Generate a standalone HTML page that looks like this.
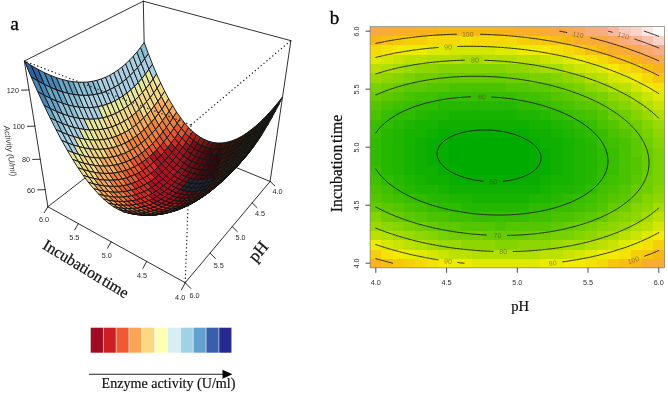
<!DOCTYPE html>
<html><head><meta charset="utf-8"><title>Figure</title>
<style>html,body{margin:0;padding:0;background:#fff;}svg{display:block;}</style></head>
<body>
<svg width="668" height="394" viewBox="0 0 668 394">
<g stroke="#1a1a1a" stroke-width="0.9" fill="none" stroke-linecap="round">
<line x1="47.93" y1="206.79" x2="185.20" y2="282.72" />
<line x1="185.20" y1="282.72" x2="270.10" y2="181.44" />
<line x1="47.93" y1="206.79" x2="24.34" y2="60.98" />
<line x1="270.10" y1="181.44" x2="290.85" y2="40.62" />
<line x1="145.99" y1="130.65" x2="143.30" y2="1.21" />
<line x1="24.34" y1="60.98" x2="143.30" y2="1.21" />
<line x1="143.30" y1="1.21" x2="290.85" y2="40.62" />
<line x1="47.93" y1="206.79" x2="145.99" y2="130.65" />
<line x1="145.99" y1="130.65" x2="270.10" y2="181.44" />
</g>
<g stroke="#141414" stroke-width="0.95" stroke-linejoin="round">
<polygon points="193.5,181.6 187.0,188.9 182.4,188.1 188.9,180.6" fill="#4f6c79"/>
<polygon points="197.9,182.1 191.4,189.4 187.0,188.9 193.5,181.6" fill="#4c6774"/>
<polygon points="187.0,188.9 180.8,195.2 176.2,194.4 182.4,188.1" fill="#667c88"/>
<polygon points="202.2,182.2 195.8,189.4 191.4,189.4 197.9,182.1" fill="#586b75"/>
<polygon points="191.4,189.4 185.3,195.6 180.8,195.2 187.0,188.9" fill="#627782"/>
<polygon points="180.8,195.2 174.9,200.5 170.2,199.8 176.2,194.4" fill="#6d8591"/>
<polygon points="206.3,181.8 199.9,189.0 195.8,189.4 202.2,182.2" fill="#53666f"/>
<polygon points="195.8,189.4 189.6,195.5 185.3,195.6 191.4,189.4" fill="#5d717c"/>
<polygon points="174.9,200.5 169.1,205.0 164.5,204.3 170.2,199.8" fill="#9f9f6b"/>
<polygon points="185.3,195.6 179.4,200.9 174.9,200.5 180.8,195.2" fill="#687f8a"/>
<polygon points="210.4,181.1 204.0,188.2 199.9,189.0 206.3,181.8" fill="#4f616a"/>
<polygon points="169.1,205.0 163.6,208.5 158.9,207.8 164.5,204.3" fill="#abab73"/>
<polygon points="199.9,189.0 193.8,195.1 189.6,195.5 195.8,189.4" fill="#586c76"/>
<polygon points="179.4,200.9 173.6,205.2 169.1,205.0 174.9,200.5" fill="#989866"/>
<polygon points="189.6,195.5 183.7,200.8 179.4,200.9 185.3,195.6" fill="#87875b"/>
<polygon points="214.4,180.0 208.0,187.1 204.0,188.2 210.4,181.1" fill="#4b5c64"/>
<polygon points="163.6,208.5 158.2,211.2 153.4,210.6 158.9,207.8" fill="#bfab6a"/>
<polygon points="204.0,188.2 197.9,194.3 193.8,195.1 199.9,189.0" fill="#73734d"/>
<polygon points="173.6,205.2 168.1,208.8 163.6,208.5 169.1,205.0" fill="#a9985e"/>
<polygon points="193.8,195.1 187.9,200.3 183.7,200.8 189.6,195.5" fill="#818156"/>
<polygon points="183.7,200.8 178.0,205.1 173.6,205.2 179.4,200.9" fill="#919161"/>
<polygon points="218.3,178.5 211.9,185.6 208.0,187.1 214.4,180.0" fill="#47575f"/>
<polygon points="158.2,211.2 152.9,213.2 148.1,212.5 153.4,210.6" fill="#ceba73"/>
<polygon points="208.0,187.1 201.9,193.1 197.9,194.3 204.0,188.2" fill="#6d6d49"/>
<polygon points="168.1,208.8 162.7,211.5 158.2,211.2 163.6,208.5" fill="#b6a466"/>
<polygon points="197.9,194.3 192.0,199.5 187.9,200.3 193.8,195.1" fill="#7a7a52"/>
<polygon points="178.0,205.1 172.5,208.6 168.1,208.8 173.6,205.2" fill="#a1915a"/>
<polygon points="187.9,200.3 182.3,204.6 178.0,205.1 183.7,200.8" fill="#8e804f"/>
<polygon points="152.9,213.2 147.7,214.4 143.0,213.7 148.1,212.5" fill="#e0c97d"/>
<polygon points="222.1,176.7 215.7,183.7 211.9,185.6 218.3,178.5" fill="#5c5c3d"/>
<polygon points="162.7,211.5 157.5,213.4 152.9,213.2 158.2,211.2" fill="#c6b26e"/>
<polygon points="211.9,185.6 205.8,191.6 201.9,193.1 208.0,187.1" fill="#676745"/>
<polygon points="38.0,81.0 31.4,65.6 24.4,61.1 31.2,77.0" fill="#2c60a0"/>
<polygon points="172.5,208.6 167.1,211.4 162.7,211.5 168.1,208.8" fill="#ae9d61"/>
<polygon points="201.9,193.1 196.0,198.3 192.0,199.5 197.9,194.3" fill="#786c43"/>
<polygon points="182.3,204.6 176.8,208.2 172.5,208.6 178.0,205.1" fill="#998a55"/>
<polygon points="192.0,199.5 186.4,203.8 182.3,204.6 187.9,200.3" fill="#877a4b"/>
<polygon points="147.7,214.4 142.7,214.9 137.9,214.2 143.0,213.7" fill="#a3925b"/>
<polygon points="225.8,174.5 219.5,181.5 215.7,183.7 222.1,176.7" fill="#56563a"/>
<polygon points="44.3,95.4 38.0,81.0 31.2,77.0 37.7,91.7" fill="#4886b8"/>
<polygon points="157.5,213.4 152.4,214.7 147.7,214.4 152.9,213.2" fill="#b07c42"/>
<polygon points="215.7,183.7 209.6,189.8 205.8,191.6 211.9,185.6" fill="#645a38"/>
<polygon points="142.7,214.9 137.7,214.7 132.8,214.0 137.9,214.2" fill="#50381e"/>
<polygon points="167.1,211.4 161.9,213.3 157.5,213.4 162.7,211.5" fill="#b07c42"/>
<polygon points="205.8,191.6 200.0,196.8 196.0,198.3 201.9,193.1" fill="#71663f"/>
<polygon points="44.5,84.5 38.1,69.4 31.4,65.6 38.0,81.0" fill="#2c60a0"/>
<polygon points="176.8,208.2 171.4,210.9 167.1,211.4 172.5,208.6" fill="#a9773f"/>
<polygon points="196.0,198.3 190.4,202.6 186.4,203.8 192.0,199.5" fill="#807347"/>
<polygon points="50.5,108.7 44.3,95.4 37.7,91.7 44.0,105.3" fill="#4886b8"/>
<polygon points="186.4,203.8 180.9,207.3 176.8,208.2 182.3,204.6" fill="#918351"/>
<polygon points="229.5,172.0 223.2,179.1 219.5,181.5 225.8,174.5" fill="#515136"/>
<polygon points="152.4,214.7 147.3,215.2 142.7,214.9 147.7,214.4" fill="#72502b"/>
<polygon points="137.7,214.7 132.8,213.9 127.9,213.1 132.8,214.0" fill="#24190d"/>
<polygon points="219.5,181.5 213.4,187.6 209.6,189.8 215.7,183.7" fill="#5e5534"/>
<polygon points="161.9,213.3 156.8,214.6 152.4,214.7 157.5,213.4" fill="#7e592f"/>
<polygon points="56.4,121.0 50.5,108.7 44.0,105.3 50.1,117.9" fill="#68a4c6"/>
<polygon points="50.7,98.5 44.5,84.5 38.0,81.0 44.3,95.4" fill="#4886b8"/>
<polygon points="209.6,189.8 203.8,195.0 200.0,196.8 205.8,191.6" fill="#6a603b"/>
<polygon points="233.2,169.2 226.8,176.2 223.2,179.1 229.5,172.0" fill="#43432d"/>
<polygon points="171.4,210.9 166.3,212.9 161.9,213.3 167.1,211.4" fill="#825c31"/>
<polygon points="132.8,213.9 127.9,212.4 122.9,211.6 127.9,213.1" fill="#694a27"/>
<polygon points="147.3,215.2 142.4,215.1 137.7,214.7 142.7,214.9" fill="#24190d"/>
<polygon points="200.0,196.8 194.3,201.1 190.4,202.6 196.0,198.3" fill="#736740"/>
<polygon points="180.9,207.3 175.6,210.1 171.4,210.9 176.8,208.2" fill="#805a30"/>
<polygon points="190.4,202.6 185.0,206.2 180.9,207.3 186.4,203.8" fill="#7c572e"/>
<polygon points="62.1,132.4 56.4,121.0 50.1,117.9 56.0,129.6" fill="#8cbed6"/>
<polygon points="50.7,87.5 44.5,72.7 38.1,69.4 44.5,84.5" fill="#4886b8"/>
<polygon points="56.6,111.5 50.7,98.5 44.3,95.4 50.5,108.7" fill="#68a4c6"/>
<polygon points="223.2,179.1 217.1,185.2 213.4,187.6 219.5,181.5" fill="#4a4329"/>
<polygon points="127.9,212.4 123.0,210.3 118.0,209.3 122.9,211.6" fill="#b88145"/>
<polygon points="156.8,214.6 151.9,215.2 147.3,215.2 152.4,214.7" fill="#402d18"/>
<polygon points="142.4,215.1 137.5,214.3 132.8,213.9 137.7,214.7" fill="#3e2b17"/>
<polygon points="67.7,143.0 62.1,132.4 56.0,129.6 61.7,140.4" fill="#aacfe2"/>
<polygon points="236.8,166.0 230.4,173.1 226.8,176.2 233.2,169.2" fill="#2e2e1f"/>
<polygon points="213.4,187.6 207.6,192.8 203.8,195.0 209.6,189.8" fill="#4f472c"/>
<polygon points="166.3,212.9 161.2,214.2 156.8,214.6 161.9,213.3" fill="#51391e"/>
<polygon points="123.0,210.3 118.2,207.5 113.1,206.5 118.0,209.3" fill="#f4ac5c"/>
<polygon points="62.4,123.6 56.6,111.5 50.5,108.7 56.4,121.0" fill="#8cbed6"/>
<polygon points="56.7,101.2 50.7,87.5 44.5,84.5 50.7,98.5" fill="#68a4c6"/>
<polygon points="203.8,195.0 198.2,199.3 194.3,201.1 200.0,196.8" fill="#553c20"/>
<polygon points="73.2,152.7 67.7,143.0 61.7,140.4 67.3,150.3" fill="#aacfe2"/>
<polygon points="175.6,210.1 170.4,212.1 166.3,212.9 171.4,210.9" fill="#593e21"/>
<polygon points="194.3,201.1 188.9,204.7 185.0,206.2 190.4,202.6" fill="#593f21"/>
<polygon points="185.0,206.2 179.7,208.9 175.6,210.1 180.9,207.3" fill="#5b4022"/>
<polygon points="151.9,215.2 146.9,215.1 142.4,215.1 147.3,215.2" fill="#24190d"/>
<polygon points="137.5,214.3 132.7,212.9 127.9,212.4 132.8,213.9" fill="#8c6234"/>
<polygon points="118.2,207.5 113.4,204.1 108.2,202.9 113.1,206.5" fill="#f4ac5c"/>
<polygon points="226.8,176.2 220.7,182.4 217.1,185.2 223.2,179.1" fill="#332e1c"/>
<polygon points="78.5,161.6 73.2,152.7 67.3,150.3 72.7,159.4" fill="#e8e89c"/>
<polygon points="113.4,204.1 108.5,200.0 103.3,198.8 108.2,202.9" fill="#f4ac5c"/>
<polygon points="240.3,162.6 234.0,169.7 230.4,173.1 236.8,166.0" fill="#1c1c13"/>
<polygon points="68.0,134.8 62.4,123.6 56.4,121.0 62.1,132.4" fill="#8cbed6"/>
<polygon points="56.7,89.9 50.6,75.4 44.5,72.7 50.7,87.5" fill="#4886b8"/>
<polygon points="83.7,169.7 78.5,161.6 72.7,159.4 78.0,167.8" fill="#e8e89c"/>
<polygon points="161.2,214.2 156.2,214.8 151.9,215.2 156.8,214.6" fill="#1f1108"/>
<polygon points="62.6,113.9 56.7,101.2 50.7,98.5 56.6,111.5" fill="#68a4c6"/>
<polygon points="108.5,200.0 103.7,195.3 98.4,193.9 103.3,198.8" fill="#f4ac5c"/>
<polygon points="217.1,185.2 211.3,190.4 207.6,192.8 213.4,187.6" fill="#36311e"/>
<polygon points="132.7,212.9 127.9,210.8 123.0,210.3 127.9,212.4" fill="#d4954f"/>
<polygon points="88.8,177.2 83.7,169.7 78.0,167.8 83.2,175.4" fill="#f0d886"/>
<polygon points="103.7,195.3 98.8,189.9 93.4,188.4 98.4,193.9" fill="#f0d886"/>
<polygon points="146.9,215.1 142.1,214.4 137.5,214.3 142.4,215.1" fill="#623419"/>
<polygon points="93.8,183.9 88.8,177.2 83.2,175.4 88.3,182.3" fill="#f0d886"/>
<polygon points="98.8,189.9 93.8,183.9 88.3,182.3 93.4,188.4" fill="#f0d886"/>
<polygon points="170.4,212.1 165.4,213.4 161.2,214.2 166.3,212.9" fill="#27150a"/>
<polygon points="73.5,145.1 68.0,134.8 62.1,132.4 67.7,143.0" fill="#aacfe2"/>
<polygon points="207.6,192.8 202.0,197.2 198.2,199.3 203.8,195.0" fill="#392815"/>
<polygon points="230.4,173.1 224.3,179.3 220.7,182.4 226.8,176.2" fill="#1f1c11"/>
<polygon points="127.9,210.8 123.1,208.1 118.2,207.5 123.0,210.3" fill="#f4ac5c"/>
<polygon points="179.7,208.9 174.5,211.0 170.4,212.1 175.6,210.1" fill="#321b0d"/>
<polygon points="198.2,199.3 192.8,202.9 188.9,204.7 194.3,201.1" fill="#3a2916"/>
<polygon points="188.9,204.7 183.6,207.5 179.7,208.9 185.0,206.2" fill="#392815"/>
<polygon points="243.9,158.8 237.5,166.0 234.0,169.7 240.3,162.6" fill="#0b0b07"/>
<polygon points="62.6,103.3 56.7,89.9 50.7,87.5 56.7,101.2" fill="#68a4c6"/>
<polygon points="68.2,125.7 62.6,113.9 56.6,111.5 62.4,123.6" fill="#8cbed6"/>
<polygon points="156.2,214.8 151.3,214.8 146.9,215.1 151.9,215.2" fill="#3f2210"/>
<polygon points="78.8,154.5 73.5,145.1 67.7,143.0 73.2,152.7" fill="#aacfe2"/>
<polygon points="142.1,214.4 137.3,213.0 132.7,212.9 137.5,214.3" fill="#a7592b"/>
<polygon points="123.1,208.1 118.3,204.8 113.4,204.1 118.2,207.5" fill="#f4ac5c"/>
<polygon points="220.7,182.4 214.9,187.6 211.3,190.4 217.1,185.2" fill="#201d12"/>
<polygon points="84.0,163.3 78.8,154.5 73.2,152.7 78.5,161.6" fill="#e8e89c"/>
<polygon points="62.5,91.9 56.5,77.7 50.6,75.4 56.7,89.9" fill="#4886b8"/>
<polygon points="165.4,213.4 160.5,214.1 156.2,214.8 161.2,214.2" fill="#1e1007"/>
<polygon points="118.3,204.8 113.6,200.8 108.5,200.0 113.4,204.1" fill="#f4ac5c"/>
<polygon points="73.7,136.6 68.2,125.7 62.4,123.6 68.0,134.8" fill="#aacfe2"/>
<polygon points="234.0,169.7 227.9,175.9 224.3,179.3 230.4,173.1" fill="#0c0b07"/>
<polygon points="211.3,190.4 205.7,194.8 202.0,197.2 207.6,192.8" fill="#21170c"/>
<polygon points="89.1,171.2 84.0,163.3 78.5,161.6 83.7,169.7" fill="#f0d886"/>
<polygon points="137.3,213.0 132.6,211.0 127.9,210.8 132.7,212.9" fill="#e87d3c"/>
<polygon points="68.2,115.8 62.6,103.3 56.7,101.2 62.6,113.9" fill="#8cbed6"/>
<polygon points="247.4,154.7 241.0,162.0 237.5,166.0 243.9,158.8" fill="#080805"/>
<polygon points="113.6,200.8 108.8,196.2 103.7,195.3 108.5,200.0" fill="#f4ac5c"/>
<polygon points="151.3,214.8 146.5,214.1 142.1,214.4 146.9,215.1" fill="#844722"/>
<polygon points="174.5,211.0 169.5,212.3 165.4,213.4 170.4,212.1" fill="#1a0e06"/>
<polygon points="94.1,178.5 89.1,171.2 83.7,169.7 88.8,177.2" fill="#f0d886"/>
<polygon points="108.8,196.2 103.9,191.0 98.8,189.9 103.7,195.3" fill="#f4ac5c"/>
<polygon points="202.0,197.2 196.5,200.8 192.8,202.9 198.2,199.3" fill="#1f160b"/>
<polygon points="99.0,185.1 94.1,178.5 88.8,177.2 93.8,183.9" fill="#f0d886"/>
<polygon points="103.9,191.0 99.0,185.1 93.8,183.9 98.8,189.9" fill="#f4ac5c"/>
<polygon points="183.6,207.5 178.5,209.6 174.5,211.0 179.7,208.9" fill="#160c05"/>
<polygon points="192.8,202.9 187.5,205.7 183.6,207.5 188.9,204.7" fill="#1a0e06"/>
<polygon points="79.0,146.7 73.7,136.6 68.0,134.8 73.5,145.1" fill="#aacfe2"/>
<polygon points="132.6,211.0 127.8,208.4 123.1,208.1 127.9,210.8" fill="#ee803e"/>
<polygon points="224.3,179.3 218.5,184.6 214.9,187.6 220.7,182.4" fill="#0c0b06"/>
<polygon points="68.2,105.0 62.5,91.9 56.7,89.9 62.6,103.3" fill="#68a4c6"/>
<polygon points="160.5,214.1 155.6,214.1 151.3,214.8 156.2,214.8" fill="#5f3318"/>
<polygon points="73.8,127.4 68.2,115.8 62.6,113.9 68.2,125.7" fill="#aacfe2"/>
<polygon points="146.5,214.1 141.8,212.8 137.3,213.0 142.1,214.4" fill="#c36932"/>
<polygon points="250.9,150.3 244.5,157.6 241.0,162.0 247.4,154.7" fill="#10100b"/>
<polygon points="237.5,166.0 231.4,172.2 227.9,175.9 234.0,169.7" fill="#0a0905"/>
<polygon points="84.2,156.0 79.0,146.7 73.5,145.1 78.8,154.5" fill="#e8e89c"/>
<polygon points="127.8,208.4 123.1,205.1 118.3,204.8 123.1,208.1" fill="#ee803e"/>
<polygon points="214.9,187.6 209.3,192.1 205.7,194.8 211.3,190.4" fill="#0e0905"/>
<polygon points="169.5,212.3 164.6,213.0 160.5,214.1 165.4,213.4" fill="#3c200f"/>
<polygon points="68.0,93.4 62.2,79.4 56.5,77.7 62.5,91.9" fill="#68a4c6"/>
<polygon points="89.3,164.5 84.2,156.0 78.8,154.5 84.0,163.3" fill="#f0d886"/>
<polygon points="123.1,205.1 118.4,201.3 113.6,200.8 118.3,204.8" fill="#ee803e"/>
<polygon points="205.7,194.8 200.3,198.4 196.5,200.8 202.0,197.2" fill="#100b06"/>
<polygon points="79.1,138.1 73.8,127.4 68.2,125.7 73.7,136.6" fill="#aacfe2"/>
<polygon points="178.5,209.6 173.5,211.0 169.5,212.3 174.5,211.0" fill="#221208"/>
<polygon points="141.8,212.8 137.1,210.8 132.6,211.0 137.3,213.0" fill="#ee803e"/>
<polygon points="73.7,117.3 68.2,105.0 62.6,103.3 68.2,115.8" fill="#8cbed6"/>
<polygon points="155.6,214.1 150.9,213.5 146.5,214.1 151.3,214.8" fill="#a3572a"/>
<polygon points="196.5,200.8 191.3,203.7 187.5,205.7 192.8,202.9" fill="#120904"/>
<polygon points="94.3,172.3 89.3,164.5 84.0,163.3 89.1,171.2" fill="#f0d886"/>
<polygon points="227.9,175.9 222.1,181.2 218.5,184.6 224.3,179.3" fill="#0b0804"/>
<polygon points="187.5,205.7 182.4,207.8 178.5,209.6 183.6,207.5" fill="#150b05"/>
<polygon points="118.4,201.3 113.7,196.8 108.8,196.2 113.6,200.8" fill="#ee803e"/>
<polygon points="254.4,145.7 248.0,153.0 244.5,157.6 250.9,150.3" fill="#1a1a11"/>
<polygon points="99.2,179.5 94.3,172.3 89.1,171.2 94.1,178.5" fill="#f0d886"/>
<polygon points="241.0,162.0 234.9,168.3 231.4,172.2 237.5,166.0" fill="#12110a"/>
<polygon points="113.7,196.8 108.9,191.6 103.9,191.0 108.8,196.2" fill="#f4ac5c"/>
<polygon points="104.1,185.9 99.2,179.5 94.1,178.5 99.0,185.1" fill="#f4ac5c"/>
<polygon points="108.9,191.6 104.1,185.9 99.0,185.1 103.9,191.0" fill="#f4ac5c"/>
<polygon points="84.3,147.9 79.1,138.1 73.7,136.6 79.0,146.7" fill="#e8e89c"/>
<polygon points="137.1,210.8 132.4,208.3 127.8,208.4 132.6,211.0" fill="#ee803e"/>
<polygon points="164.6,213.0 159.8,213.1 155.6,214.1 160.5,214.1" fill="#752d18"/>
<polygon points="218.5,184.6 212.9,189.0 209.3,192.1 214.9,187.6" fill="#0d0904"/>
<polygon points="73.6,106.3 68.0,93.4 62.5,91.9 68.2,105.0" fill="#8cbed6"/>
<polygon points="79.1,128.6 73.7,117.3 68.2,115.8 73.8,127.4" fill="#aacfe2"/>
<polygon points="150.9,213.5 146.1,212.2 141.8,212.8 146.5,214.1" fill="#d4522c"/>
<polygon points="257.9,140.7 251.4,148.1 248.0,153.0 254.4,145.7" fill="#212116"/>
<polygon points="89.4,157.1 84.3,147.9 79.0,146.7 84.2,156.0" fill="#e8e89c"/>
<polygon points="173.5,211.0 168.6,211.7 164.6,213.0 169.5,212.3" fill="#511f11"/>
<polygon points="209.3,192.1 203.9,195.7 200.3,198.4 205.7,194.8" fill="#110904"/>
<polygon points="132.4,208.3 127.7,205.1 123.1,205.1 127.8,208.4" fill="#ee803e"/>
<polygon points="231.4,172.2 225.6,177.6 222.1,181.2 227.9,175.9" fill="#160f08"/>
<polygon points="244.5,157.6 238.4,164.0 234.9,168.3 241.0,162.0" fill="#1c1a10"/>
<polygon points="182.4,207.8 177.4,209.3 173.5,211.0 178.5,209.6" fill="#38150b"/>
<polygon points="200.3,198.4 195.0,201.3 191.3,203.7 196.5,200.8" fill="#1a0e06"/>
<polygon points="73.3,94.4 67.7,80.8 62.2,79.4 68.0,93.4" fill="#68a4c6"/>
<polygon points="191.3,203.7 186.2,205.8 182.4,207.8 187.5,205.7" fill="#27150a"/>
<polygon points="94.4,165.4 89.4,157.1 84.2,156.0 89.3,164.5" fill="#f0d886"/>
<polygon points="127.7,205.1 123.1,201.4 118.4,201.3 123.1,205.1" fill="#ee803e"/>
<polygon points="159.8,213.1 155.0,212.5 150.9,213.5 155.6,214.1" fill="#b74726"/>
<polygon points="84.3,139.1 79.1,128.6 73.8,127.4 79.1,138.1" fill="#aacfe2"/>
<polygon points="146.1,212.2 141.5,210.3 137.1,210.8 141.8,212.8" fill="#e45830"/>
<polygon points="79.0,118.3 73.6,106.3 68.2,105.0 73.7,117.3" fill="#8cbed6"/>
<polygon points="261.4,135.4 254.9,142.9 251.4,148.1 257.9,140.7" fill="#262619"/>
<polygon points="222.1,181.2 216.5,185.8 212.9,189.0 218.5,184.6" fill="#1a120a"/>
<polygon points="99.3,173.1 94.4,165.4 89.3,164.5 94.3,172.3" fill="#f0d886"/>
<polygon points="123.1,201.4 118.4,197.0 113.7,196.8 118.4,201.3" fill="#ee803e"/>
<polygon points="104.2,180.0 99.3,173.1 94.3,172.3 99.2,179.5" fill="#f4ac5c"/>
<polygon points="118.4,197.0 113.7,192.0 108.9,191.6 113.7,196.8" fill="#ee803e"/>
<polygon points="248.0,153.0 241.8,159.4 238.4,164.0 244.5,157.6" fill="#242114"/>
<polygon points="109.0,186.3 104.2,180.0 99.2,179.5 104.1,185.9" fill="#f4ac5c"/>
<polygon points="234.9,168.3 229.1,173.7 225.6,177.6 231.4,172.2" fill="#20170c"/>
<polygon points="113.7,192.0 109.0,186.3 104.1,185.9 108.9,191.6" fill="#f4ac5c"/>
<polygon points="168.6,211.7 163.8,211.8 159.8,213.1 164.6,213.0" fill="#89351c"/>
<polygon points="89.5,148.8 84.3,139.1 79.1,138.1 84.3,147.9" fill="#e8e89c"/>
<polygon points="141.5,210.3 136.8,207.9 132.4,208.3 137.1,210.8" fill="#e45830"/>
<polygon points="212.9,189.0 207.5,192.8 203.9,195.7 209.3,192.1" fill="#201108"/>
<polygon points="78.8,107.1 73.3,94.4 68.0,93.4 73.6,106.3" fill="#8cbed6"/>
<polygon points="155.0,212.5 150.4,211.3 146.1,212.2 150.9,213.5" fill="#e45830"/>
<polygon points="264.8,129.8 258.4,137.4 254.9,142.9 261.4,135.4" fill="#28281a"/>
<polygon points="177.4,209.3 172.6,210.1 168.6,211.7 173.5,211.0" fill="#652715"/>
<polygon points="84.3,129.4 79.0,118.3 73.7,117.3 79.1,128.6" fill="#aacfe2"/>
<polygon points="203.9,195.7 198.7,198.7 195.0,201.3 200.3,198.4" fill="#2a170b"/>
<polygon points="186.2,205.8 181.2,207.3 177.4,209.3 182.4,207.8" fill="#4a1c0f"/>
<polygon points="195.0,201.3 189.9,203.5 186.2,205.8 191.3,203.7" fill="#391e0e"/>
<polygon points="94.5,157.7 89.5,148.8 84.3,147.9 89.4,157.1" fill="#f0d886"/>
<polygon points="136.8,207.9 132.2,204.8 127.7,205.1 132.4,208.3" fill="#e45830"/>
<polygon points="225.6,177.6 220.0,182.2 216.5,185.8 222.1,181.2" fill="#261a0e"/>
<polygon points="78.5,95.1 72.9,81.7 67.7,80.8 73.3,94.4" fill="#68a4c6"/>
<polygon points="251.4,148.1 245.3,154.6 241.8,159.4 248.0,153.0" fill="#2a2617"/>
<polygon points="238.4,164.0 232.5,169.5 229.1,173.7 234.9,168.3" fill="#291d0f"/>
<polygon points="163.8,211.8 159.1,211.3 155.0,212.5 159.8,213.1" fill="#c94d2a"/>
<polygon points="268.3,123.9 261.8,131.6 258.4,137.4 264.8,129.8" fill="#252518"/>
<polygon points="99.4,165.9 94.5,157.7 89.4,157.1 94.4,165.4" fill="#f0d886"/>
<polygon points="132.2,204.8 127.6,201.1 123.1,201.4 127.7,205.1" fill="#e45830"/>
<polygon points="150.4,211.3 145.7,209.5 141.5,210.3 146.1,212.2" fill="#e45830"/>
<polygon points="89.4,139.7 84.3,129.4 79.1,128.6 84.3,139.1" fill="#e8e89c"/>
<polygon points="84.1,118.9 78.8,107.1 73.6,106.3 79.0,118.3" fill="#aacfe2"/>
<polygon points="216.5,185.8 211.1,189.5 207.5,192.8 212.9,189.0" fill="#2c180b"/>
<polygon points="104.2,173.4 99.4,165.9 94.4,165.4 99.3,173.1" fill="#f4ac5c"/>
<polygon points="127.6,201.1 123.0,196.8 118.4,197.0 123.1,201.4" fill="#ee803e"/>
<polygon points="172.6,210.1 167.8,210.2 163.8,211.8 168.6,211.7" fill="#993b20"/>
<polygon points="109.0,180.2 104.2,173.4 99.3,173.1 104.2,180.0" fill="#f4ac5c"/>
<polygon points="123.0,196.8 118.3,191.9 113.7,192.0 118.4,197.0" fill="#ee803e"/>
<polygon points="254.9,142.9 248.7,149.5 245.3,154.6 251.4,148.1" fill="#2e2919"/>
<polygon points="271.9,117.6 265.3,125.5 261.8,131.6 268.3,123.9" fill="#222217"/>
<polygon points="207.5,192.8 202.3,195.7 198.7,198.7 203.9,195.7" fill="#371d0e"/>
<polygon points="113.7,186.4 109.0,180.2 104.2,180.0 109.0,186.3" fill="#f4ac5c"/>
<polygon points="118.3,191.9 113.7,186.4 109.0,186.3 113.7,192.0" fill="#ee803e"/>
<polygon points="145.7,209.5 141.1,207.1 136.8,207.9 141.5,210.3" fill="#e45830"/>
<polygon points="229.1,173.7 223.5,178.3 220.0,182.2 225.6,177.6" fill="#2f2111"/>
<polygon points="94.4,149.3 89.4,139.7 84.3,139.1 89.5,148.8" fill="#e8e89c"/>
<polygon points="181.2,207.3 176.4,208.1 172.6,210.1 177.4,209.3" fill="#732c18"/>
<polygon points="159.1,211.3 154.5,210.2 150.4,211.3 155.0,212.5" fill="#d82a24"/>
<polygon points="83.8,107.6 78.5,95.1 73.3,94.4 78.8,107.1" fill="#8cbed6"/>
<polygon points="241.8,159.4 236.0,165.0 232.5,169.5 238.4,164.0" fill="#2f2111"/>
<polygon points="198.7,198.7 193.6,200.9 189.9,203.5 195.0,201.3" fill="#431a0e"/>
<polygon points="189.9,203.5 185.0,205.0 181.2,207.3 186.2,205.8" fill="#582212"/>
<polygon points="89.2,129.9 84.1,118.9 79.0,118.3 84.3,129.4" fill="#aacfe2"/>
<polygon points="275.4,111.1 268.8,119.0 265.3,125.5 271.9,117.6" fill="#171c1e"/>
<polygon points="141.1,207.1 136.6,204.2 132.2,204.8 136.8,207.9" fill="#e45830"/>
<polygon points="99.3,158.0 94.4,149.3 89.5,148.8 94.5,157.7" fill="#f0d886"/>
<polygon points="83.4,95.4 78.0,82.2 72.9,81.7 78.5,95.1" fill="#8cbed6"/>
<polygon points="258.4,137.4 252.2,144.1 248.7,149.5 254.9,142.9" fill="#2a2617"/>
<polygon points="220.0,182.2 214.6,186.0 211.1,189.5 216.5,185.8" fill="#361d0e"/>
<polygon points="167.8,210.2 163.1,209.7 159.1,211.3 163.8,211.8" fill="#c52620"/>
<polygon points="154.5,210.2 149.9,208.4 145.7,209.5 150.4,211.3" fill="#d82a24"/>
<polygon points="136.6,204.2 132.0,200.6 127.6,201.1 132.2,204.8" fill="#e45830"/>
<polygon points="279.0,104.2 272.3,112.3 268.8,119.0 275.4,111.1" fill="#15191c"/>
<polygon points="104.2,166.1 99.3,158.0 94.5,157.7 99.4,165.9" fill="#f0d886"/>
<polygon points="245.3,154.6 239.4,160.3 236.0,165.0 241.8,159.4" fill="#332e1c"/>
<polygon points="232.5,169.5 226.9,174.2 223.5,178.3 229.1,173.7" fill="#352514"/>
<polygon points="94.3,140.0 89.2,129.9 84.3,129.4 89.4,139.7" fill="#e8e89c"/>
<polygon points="89.0,119.2 83.8,107.6 78.8,107.1 84.1,118.9" fill="#aacfe2"/>
<polygon points="211.1,189.5 205.9,192.6 202.3,195.7 207.5,192.8" fill="#412311"/>
<polygon points="176.4,208.1 171.7,208.3 167.8,210.2 172.6,210.1" fill="#9c1e1a"/>
<polygon points="132.0,200.6 127.4,196.4 123.0,196.8 127.6,201.1" fill="#e45830"/>
<polygon points="261.8,131.6 255.6,138.4 252.2,144.1 258.4,137.4" fill="#272315"/>
<polygon points="108.9,173.4 104.2,166.1 99.4,165.9 104.2,173.4" fill="#f4ac5c"/>
<polygon points="202.3,195.7 197.2,198.0 193.6,200.9 198.7,198.7" fill="#4d1e10"/>
<polygon points="282.5,97.0 275.9,105.2 272.3,112.3 279.0,104.2" fill="#13171a"/>
<polygon points="185.0,205.0 180.2,205.9 176.4,208.1 181.2,207.3" fill="#781714"/>
<polygon points="193.6,200.9 188.7,202.5 185.0,205.0 189.9,203.5" fill="#622614"/>
<polygon points="127.4,196.4 122.9,191.6 118.3,191.9 123.0,196.8" fill="#ee803e"/>
<polygon points="113.6,180.1 108.9,173.4 104.2,173.4 109.0,180.2" fill="#f4ac5c"/>
<polygon points="149.9,208.4 145.3,206.1 141.1,207.1 145.7,209.5" fill="#d82a24"/>
<polygon points="163.1,209.7 158.5,208.7 154.5,210.2 159.1,211.3" fill="#d82a24"/>
<polygon points="122.9,191.6 118.2,186.2 113.7,186.4 118.3,191.9" fill="#ee803e"/>
<polygon points="118.2,186.2 113.6,180.1 109.0,180.2 113.7,186.4" fill="#ee803e"/>
<polygon points="88.7,107.7 83.4,95.4 78.5,95.1 83.8,107.6" fill="#aacfe2"/>
<polygon points="99.2,149.3 94.3,140.0 89.4,139.7 94.4,149.3" fill="#f0d886"/>
<polygon points="223.5,178.3 218.1,182.2 214.6,186.0 220.0,182.2" fill="#3c200f"/>
<polygon points="248.7,149.5 242.8,155.2 239.4,160.3 245.3,154.6" fill="#2f2b1a"/>
<polygon points="94.1,129.9 89.0,119.2 84.1,118.9 89.2,129.9" fill="#e8e89c"/>
<polygon points="265.3,125.5 259.1,132.4 255.6,138.4 261.8,131.6" fill="#232317"/>
<polygon points="236.0,165.0 230.4,169.8 226.9,174.2 232.5,169.5" fill="#3a2916"/>
<polygon points="145.3,206.1 140.8,203.2 136.6,204.2 141.1,207.1" fill="#d82a24"/>
<polygon points="88.3,95.3 83.0,82.2 78.0,82.2 83.4,95.4" fill="#8cbed6"/>
<polygon points="171.7,208.3 167.0,207.9 163.1,209.7 167.8,210.2" fill="#ba241f"/>
<polygon points="104.0,158.0 99.2,149.3 94.4,149.3 99.3,158.0" fill="#f0d886"/>
<polygon points="214.6,186.0 209.4,189.1 205.9,192.6 211.1,189.5" fill="#482712"/>
<polygon points="158.5,208.7 153.9,207.0 149.9,208.4 154.5,210.2" fill="#d82a24"/>
<polygon points="268.8,119.0 262.5,126.0 259.1,132.4 265.3,125.5" fill="#202015"/>
<polygon points="180.2,205.9 175.4,206.2 171.7,208.3 176.4,208.1" fill="#9c1e1a"/>
<polygon points="140.8,203.2 136.3,199.7 132.0,200.6 136.6,204.2" fill="#d82a24"/>
<polygon points="252.2,144.1 246.2,149.9 242.8,155.2 248.7,149.5" fill="#2c2718"/>
<polygon points="205.9,192.6 200.8,194.9 197.2,198.0 202.3,195.7" fill="#542011"/>
<polygon points="93.8,119.1 88.7,107.7 83.8,107.6 89.0,119.2" fill="#aacfe2"/>
<polygon points="108.8,165.9 104.0,158.0 99.3,158.0 104.2,166.1" fill="#f4ac5c"/>
<polygon points="99.0,139.9 94.1,129.9 89.2,129.9 94.3,140.0" fill="#e8e89c"/>
<polygon points="226.9,174.2 221.5,178.1 218.1,182.2 223.5,178.3" fill="#412311"/>
<polygon points="188.7,202.5 183.9,203.4 180.2,205.9 185.0,205.0" fill="#7f1815"/>
<polygon points="197.2,198.0 192.3,199.7 188.7,202.5 193.6,200.9" fill="#6a2816"/>
<polygon points="239.4,160.3 233.8,165.1 230.4,169.8 236.0,165.0" fill="#372714"/>
<polygon points="136.3,199.7 131.7,195.6 127.4,196.4 132.0,200.6" fill="#e45830"/>
<polygon points="113.5,173.1 108.8,165.9 104.2,166.1 108.9,173.4" fill="#f4ac5c"/>
<polygon points="272.3,112.3 266.0,119.4 262.5,126.0 268.8,119.0" fill="#1d1d13"/>
<polygon points="167.0,207.9 162.4,206.9 158.5,208.7 163.1,209.7" fill="#d12822"/>
<polygon points="153.9,207.0 149.4,204.8 145.3,206.1 149.9,208.4" fill="#d82a24"/>
<polygon points="131.7,195.6 127.2,190.9 122.9,191.6 127.4,196.4" fill="#e45830"/>
<polygon points="118.1,179.7 113.5,173.1 108.9,173.4 113.6,180.1" fill="#ee803e"/>
<polygon points="93.4,107.4 88.3,95.3 83.4,95.4 88.7,107.7" fill="#aacfe2"/>
<polygon points="127.2,190.9 122.7,185.6 118.2,186.2 122.9,191.6" fill="#e45830"/>
<polygon points="122.7,185.6 118.1,179.7 113.6,180.1 118.2,186.2" fill="#ee803e"/>
<polygon points="255.6,138.4 249.7,144.3 246.2,149.9 252.2,144.1" fill="#282416"/>
<polygon points="103.8,149.1 99.0,139.9 94.3,140.0 99.2,149.3" fill="#f0d886"/>
<polygon points="218.1,182.2 212.8,185.4 209.4,189.1 214.6,186.0" fill="#4d2914"/>
<polygon points="98.7,129.7 93.8,119.1 89.0,119.2 94.1,129.9" fill="#e8e89c"/>
<polygon points="275.9,105.2 269.5,112.5 266.0,119.4 272.3,112.3" fill="#1b1b12"/>
<polygon points="175.4,206.2 170.8,205.8 167.0,207.9 171.7,208.3" fill="#b0221d"/>
<polygon points="92.9,94.8 87.8,82.0 83.0,82.2 88.3,95.3" fill="#8cbed6"/>
<polygon points="149.4,204.8 144.9,201.9 140.8,203.2 145.3,206.1" fill="#d82a24"/>
<polygon points="242.8,155.2 237.2,160.1 233.8,165.1 239.4,160.3" fill="#332313"/>
<polygon points="230.4,169.8 224.9,173.8 221.5,178.1 226.9,174.2" fill="#3e2110"/>
<polygon points="209.4,189.1 204.3,191.5 200.8,194.9 205.9,192.6" fill="#592212"/>
<polygon points="108.6,157.6 103.8,149.1 99.2,149.3 104.0,158.0" fill="#f0d886"/>
<polygon points="162.4,206.9 157.9,205.3 153.9,207.0 158.5,208.7" fill="#d82a24"/>
<polygon points="183.9,203.4 179.1,203.7 175.4,206.2 180.2,205.9" fill="#921c18"/>
<polygon points="259.1,132.4 253.1,138.4 249.7,144.3 255.6,138.4" fill="#252114"/>
<polygon points="200.8,194.9 195.9,196.6 192.3,199.7 197.2,198.0" fill="#651310"/>
<polygon points="192.3,199.7 187.5,200.7 183.9,203.4 188.7,202.5" fill="#791714"/>
<polygon points="144.9,201.9 140.4,198.5 136.3,199.7 140.8,203.2" fill="#d82a24"/>
<polygon points="98.4,118.6 93.4,107.4 88.7,107.7 93.8,119.1" fill="#aacfe2"/>
<polygon points="103.6,139.5 98.7,129.7 94.1,129.9 99.0,139.9" fill="#f0d886"/>
<polygon points="113.3,165.3 108.6,157.6 104.0,158.0 108.8,165.9" fill="#f4ac5c"/>
<polygon points="221.5,178.1 216.3,181.4 212.8,185.4 218.1,182.2" fill="#482712"/>
<polygon points="246.2,149.9 240.6,154.9 237.2,160.1 242.8,155.2" fill="#2e2111"/>
<polygon points="140.4,198.5 135.9,194.5 131.7,195.6 136.3,199.7" fill="#d82a24"/>
<polygon points="170.8,205.8 166.2,204.9 162.4,206.9 167.0,207.9" fill="#c62621"/>
<polygon points="262.5,126.0 256.5,132.2 253.1,138.4 259.1,132.4" fill="#221e13"/>
<polygon points="157.9,205.3 153.4,203.2 149.4,204.8 153.9,207.0" fill="#d82a24"/>
<polygon points="117.9,172.4 113.3,165.3 108.8,165.9 113.5,173.1" fill="#f4ac5c"/>
<polygon points="233.8,165.1 228.3,169.2 224.9,173.8 230.4,169.8" fill="#391e0e"/>
<polygon points="98.0,106.7 92.9,94.8 88.3,95.3 93.4,107.4" fill="#aacfe2"/>
<polygon points="135.9,194.5 131.5,189.9 127.2,190.9 131.7,195.6" fill="#e45830"/>
<polygon points="122.5,178.9 117.9,172.4 113.5,173.1 118.1,179.7" fill="#ee803e"/>
<polygon points="212.8,185.4 207.8,187.8 204.3,191.5 209.4,189.1" fill="#521f11"/>
<polygon points="131.5,189.9 127.0,184.7 122.7,185.6 127.2,190.9" fill="#e45830"/>
<polygon points="127.0,184.7 122.5,178.9 118.1,179.7 122.7,185.6" fill="#ee803e"/>
<polygon points="108.4,148.5 103.6,139.5 99.0,139.9 103.8,149.1" fill="#f0d886"/>
<polygon points="179.1,203.7 174.5,203.5 170.8,205.8 175.4,206.2" fill="#a5201b"/>
<polygon points="103.3,129.0 98.4,118.6 93.8,119.1 98.7,129.7" fill="#e8e89c"/>
<polygon points="97.5,94.0 92.4,81.3 87.8,82.0 92.9,94.8" fill="#8cbed6"/>
<polygon points="266.0,119.4 260.0,125.7 256.5,132.2 262.5,126.0" fill="#1f1c11"/>
<polygon points="204.3,191.5 199.4,193.2 195.9,196.6 200.8,194.9" fill="#5d120f"/>
<polygon points="153.4,203.2 148.9,200.4 144.9,201.9 149.4,204.8" fill="#d82a24"/>
<polygon points="249.7,144.3 244.0,149.4 240.6,154.9 246.2,149.9" fill="#2a1e10"/>
<polygon points="187.5,200.7 182.8,201.0 179.1,203.7 183.9,203.4" fill="#881a16"/>
<polygon points="195.9,196.6 191.1,197.6 187.5,200.7 192.3,199.7" fill="#701512"/>
<polygon points="166.2,204.9 161.7,203.4 157.9,205.3 162.4,206.9" fill="#b00e22"/>
<polygon points="224.9,173.8 219.7,177.1 216.3,181.4 221.5,178.1" fill="#422311"/>
<polygon points="113.0,156.8 108.4,148.5 103.8,149.1 108.6,157.6" fill="#f4ac5c"/>
<polygon points="237.2,160.1 231.7,164.3 228.3,169.2 233.8,165.1" fill="#341c0d"/>
<polygon points="269.5,112.5 263.4,118.9 260.0,125.7 266.0,119.4" fill="#1b1b12"/>
<polygon points="148.9,200.4 144.5,197.1 140.4,198.5 144.9,201.9" fill="#d82a24"/>
<polygon points="102.9,117.8 98.0,106.7 93.4,107.4 98.4,118.6" fill="#aacfe2"/>
<polygon points="108.0,138.7 103.3,129.0 98.7,129.7 103.6,139.5" fill="#f0d886"/>
<polygon points="117.6,164.5 113.0,156.8 108.6,157.6 113.3,165.3" fill="#f4ac5c"/>
<polygon points="253.1,138.4 247.4,143.6 244.0,149.4 249.7,144.3" fill="#271b0e"/>
<polygon points="174.5,203.5 170.0,202.6 166.2,204.9 170.8,205.8" fill="#980c1d"/>
<polygon points="216.3,181.4 211.2,183.9 207.8,187.8 212.8,185.4" fill="#4b1d0f"/>
<polygon points="144.5,197.1 140.0,193.1 135.9,194.5 140.4,198.5" fill="#d82a24"/>
<polygon points="161.7,203.4 157.2,201.3 153.4,203.2 157.9,205.3" fill="#b00e22"/>
<polygon points="102.4,105.7 97.5,94.0 92.9,94.8 98.0,106.7" fill="#aacfe2"/>
<polygon points="122.2,171.5 117.6,164.5 113.3,165.3 117.9,172.4" fill="#ee803e"/>
<polygon points="240.6,154.9 235.1,159.1 231.7,164.3 237.2,160.1" fill="#312212"/>
<polygon points="182.8,201.0 178.2,200.8 174.5,203.5 179.1,203.7" fill="#7e0a18"/>
<polygon points="228.3,169.2 223.1,172.5 219.7,177.1 224.9,173.8" fill="#3d200f"/>
<polygon points="140.0,193.1 135.6,188.6 131.5,189.9 135.9,194.5" fill="#d82a24"/>
<polygon points="207.8,187.8 202.9,189.6 199.4,193.2 204.3,191.5" fill="#212330"/>
<polygon points="126.7,177.8 122.2,171.5 117.9,172.4 122.5,178.9" fill="#ee803e"/>
<polygon points="135.6,188.6 131.2,183.5 127.0,184.7 131.5,189.9" fill="#e45830"/>
<polygon points="112.7,147.6 108.0,138.7 103.6,139.5 108.4,148.5" fill="#f0d886"/>
<polygon points="131.2,183.5 126.7,177.8 122.5,178.9 127.0,184.7" fill="#e45830"/>
<polygon points="191.1,197.6 186.4,198.1 182.8,201.0 187.5,200.7" fill="#7f1815"/>
<polygon points="101.9,92.8 96.9,80.3 92.4,81.3 97.5,94.0" fill="#8cbed6"/>
<polygon points="199.4,193.2 194.6,194.3 191.1,197.6 195.9,196.6" fill="#681411"/>
<polygon points="256.5,132.2 250.8,137.5 247.4,143.6 253.1,138.4" fill="#231f13"/>
<polygon points="107.7,128.1 102.9,117.8 98.4,118.6 103.3,129.0" fill="#e8e89c"/>
<polygon points="157.2,201.3 152.8,198.6 148.9,200.4 153.4,203.2" fill="#b00e22"/>
<polygon points="170.0,202.6 165.5,201.1 161.7,203.4 166.2,204.9" fill="#ac0d21"/>
<polygon points="219.7,177.1 214.6,179.7 211.2,183.9 216.3,181.4" fill="#451a0e"/>
<polygon points="117.3,155.8 112.7,147.6 108.4,148.5 113.0,156.8" fill="#f4ac5c"/>
<polygon points="244.0,149.4 238.5,153.7 235.1,159.1 240.6,154.9" fill="#2d1f11"/>
<polygon points="260.0,125.7 254.2,131.1 250.8,137.5 256.5,132.2" fill="#201d12"/>
<polygon points="107.3,116.7 102.4,105.7 98.0,106.7 102.9,117.8" fill="#e8e89c"/>
<polygon points="152.8,198.6 148.4,195.3 144.5,197.1 148.9,200.4" fill="#d82a24"/>
<polygon points="231.7,164.3 226.5,167.7 223.1,172.5 228.3,169.2" fill="#381e0e"/>
<polygon points="178.2,200.8 173.7,200.0 170.0,202.6 174.5,203.5" fill="#8f0b1b"/>
<polygon points="112.4,137.6 107.7,128.1 103.3,129.0 108.0,138.7" fill="#f0d886"/>
<polygon points="211.2,183.9 206.3,185.7 202.9,189.6 207.8,187.8" fill="#212330"/>
<polygon points="121.9,163.3 117.3,155.8 113.0,156.8 117.6,164.5" fill="#f4ac5c"/>
<polygon points="165.5,201.1 161.1,199.1 157.2,201.3 161.7,203.4" fill="#b00e22"/>
<polygon points="148.4,195.3 144.0,191.5 140.0,193.1 144.5,197.1" fill="#d82a24"/>
<polygon points="263.4,118.9 257.6,124.4 254.2,131.1 260.0,125.7" fill="#1d1a10"/>
<polygon points="186.4,198.1 181.8,197.9 178.2,200.8 182.8,201.0" fill="#750916"/>
<polygon points="106.8,104.4 101.9,92.8 97.5,94.0 102.4,105.7" fill="#aacfe2"/>
<polygon points="202.9,189.6 198.1,190.8 194.6,194.3 199.4,193.2" fill="#601210"/>
<polygon points="194.6,194.3 189.9,194.8 186.4,198.1 191.1,197.6" fill="#5f0712"/>
<polygon points="126.4,170.2 121.9,163.3 117.6,164.5 122.2,171.5" fill="#ee803e"/>
<polygon points="247.4,143.6 241.8,148.0 238.5,153.7 244.0,149.4" fill="#291d0f"/>
<polygon points="144.0,191.5 139.6,187.1 135.6,188.6 140.0,193.1" fill="#d82a24"/>
<polygon points="106.2,91.3 101.3,78.9 96.9,80.3 101.9,92.8" fill="#aacfe2"/>
<polygon points="223.1,172.5 218.0,175.2 214.6,179.7 219.7,177.1" fill="#3f180d"/>
<polygon points="130.8,176.4 126.4,170.2 122.2,171.5 126.7,177.8" fill="#e45830"/>
<polygon points="117.0,146.4 112.4,137.6 108.0,138.7 112.7,147.6" fill="#f0d886"/>
<polygon points="139.6,187.1 135.2,182.0 131.2,183.5 135.6,188.6" fill="#d82a24"/>
<polygon points="235.1,159.1 229.8,162.7 226.5,167.7 231.7,164.3" fill="#331b0d"/>
<polygon points="135.2,182.0 130.8,176.4 126.7,177.8 131.2,183.5" fill="#e45830"/>
<polygon points="112.0,126.8 107.3,116.7 102.9,117.8 107.7,128.1" fill="#f0d886"/>
<polygon points="161.1,199.1 156.7,196.5 152.8,198.6 157.2,201.3" fill="#b00e22"/>
<polygon points="173.7,200.0 169.2,198.6 165.5,201.1 170.0,202.6" fill="#a20c1f"/>
<polygon points="250.8,137.5 245.2,142.0 241.8,148.0 247.4,143.6" fill="#251a0e"/>
<polygon points="214.6,179.7 209.7,181.6 206.3,185.7 211.2,183.9" fill="#212330"/>
<polygon points="121.5,154.4 117.0,146.4 112.7,147.6 117.3,155.8" fill="#f4ac5c"/>
<polygon points="181.8,197.9 177.3,197.2 173.7,200.0 178.2,200.8" fill="#860a19"/>
<polygon points="111.5,115.2 106.8,104.4 102.4,105.7 107.3,116.7" fill="#e8e89c"/>
<polygon points="156.7,196.5 152.3,193.3 148.4,195.3 152.8,198.6" fill="#b00e22"/>
<polygon points="206.3,185.7 201.5,187.0 198.1,190.8 202.9,189.6" fill="#212330"/>
<polygon points="238.5,153.7 233.2,157.3 229.8,162.7 235.1,159.1" fill="#2e190c"/>
<polygon points="116.6,136.2 112.0,126.8 107.7,128.1 112.4,137.6" fill="#f0d886"/>
<polygon points="226.5,167.7 221.4,170.5 218.0,175.2 223.1,172.5" fill="#3a160c"/>
<polygon points="189.9,194.8 185.3,194.7 181.8,197.9 186.4,198.1" fill="#6d0815"/>
<polygon points="198.1,190.8 193.4,191.4 189.9,194.8 194.6,194.3" fill="#580711"/>
<polygon points="169.2,198.6 164.8,196.6 161.1,199.1 165.5,201.1" fill="#b00e22"/>
<polygon points="126.0,161.9 121.5,154.4 117.3,155.8 121.9,163.3" fill="#ee803e"/>
<polygon points="111.0,102.7 106.2,91.3 101.9,92.8 106.8,104.4" fill="#aacfe2"/>
<polygon points="254.2,131.1 248.6,135.7 245.2,142.0 250.8,137.5" fill="#22180d"/>
<polygon points="152.3,193.3 147.9,189.5 144.0,191.5 148.4,195.3" fill="#d82a24"/>
<polygon points="110.4,89.4 105.6,77.2 101.3,78.9 106.2,91.3" fill="#aacfe2"/>
<polygon points="130.5,168.6 126.0,161.9 121.9,163.3 126.4,170.2" fill="#ee803e"/>
<polygon points="147.9,189.5 143.6,185.2 139.6,187.1 144.0,191.5" fill="#d82a24"/>
<polygon points="218.0,175.2 213.1,177.2 209.7,181.6 214.6,179.7" fill="#330609"/>
<polygon points="134.9,174.7 130.5,168.6 126.4,170.2 130.8,176.4" fill="#e45830"/>
<polygon points="121.2,144.8 116.6,136.2 112.4,137.6 117.0,146.4" fill="#f4ac5c"/>
<polygon points="177.3,197.2 172.8,195.8 169.2,198.6 173.7,200.0" fill="#990c1d"/>
<polygon points="116.2,125.2 111.5,115.2 107.3,116.7 112.0,126.8" fill="#f0d886"/>
<polygon points="143.6,185.2 139.2,180.3 135.2,182.0 139.6,187.1" fill="#d82a24"/>
<polygon points="257.6,124.4 252.0,129.1 248.6,135.7 254.2,131.1" fill="#1f1c11"/>
<polygon points="241.8,148.0 236.5,151.7 233.2,157.3 238.5,153.7" fill="#2a170b"/>
<polygon points="139.2,180.3 134.9,174.7 130.8,176.4 135.2,182.0" fill="#e45830"/>
<polygon points="164.8,196.6 160.4,194.1 156.7,196.5 161.1,199.1" fill="#b00e22"/>
<polygon points="229.8,162.7 224.7,165.5 221.4,170.5 226.5,167.7" fill="#35140b"/>
<polygon points="209.7,181.6 204.9,182.9 201.5,187.0 206.3,185.7" fill="#212330"/>
<polygon points="185.3,194.7 180.8,194.0 177.3,197.2 181.8,197.9" fill="#7d0918"/>
<polygon points="115.7,113.4 111.0,102.7 106.8,104.4 111.5,115.2" fill="#e8e89c"/>
<polygon points="125.6,152.8 121.2,144.8 117.0,146.4 121.5,154.4" fill="#f4ac5c"/>
<polygon points="201.5,187.0 196.9,187.6 193.4,191.4 198.1,190.8" fill="#212330"/>
<polygon points="193.4,191.4 188.8,191.3 185.3,194.7 189.9,194.8" fill="#650813"/>
<polygon points="160.4,194.1 156.1,191.0 152.3,193.3 156.7,196.5" fill="#b00e22"/>
<polygon points="245.2,142.0 239.9,145.8 236.5,151.7 241.8,148.0" fill="#281c0f"/>
<polygon points="172.8,195.8 168.4,193.9 164.8,196.6 169.2,198.6" fill="#ad0d21"/>
<polygon points="120.7,134.4 116.2,125.2 112.0,126.8 116.6,136.2" fill="#f0d886"/>
<polygon points="115.1,100.8 110.4,89.4 106.2,91.3 111.0,102.7" fill="#aacfe2"/>
<polygon points="221.4,170.5 216.5,172.6 213.1,177.2 218.0,175.2" fill="#3c0b0a"/>
<polygon points="130.1,160.1 125.6,152.8 121.5,154.4 126.0,161.9" fill="#ee803e"/>
<polygon points="233.2,157.3 228.1,160.2 224.7,165.5 229.8,162.7" fill="#321b0d"/>
<polygon points="114.5,87.2 109.8,75.2 105.6,77.2 110.4,89.4" fill="#aacfe2"/>
<polygon points="156.1,191.0 151.7,187.3 147.9,189.5 152.3,193.3" fill="#b00e22"/>
<polygon points="134.4,166.8 130.1,160.1 126.0,161.9 130.5,168.6" fill="#ee803e"/>
<polygon points="180.8,194.0 176.4,192.8 172.8,195.8 177.3,197.2" fill="#8f0b1b"/>
<polygon points="151.7,187.3 147.4,183.1 143.6,185.2 147.9,189.5" fill="#d82a24"/>
<polygon points="248.6,135.7 243.3,139.6 239.9,145.8 245.2,142.0" fill="#24190d"/>
<polygon points="213.1,177.2 208.3,178.6 204.9,182.9 209.7,181.6" fill="#212330"/>
<polygon points="120.3,123.3 115.7,113.4 111.5,115.2 116.2,125.2" fill="#f0d886"/>
<polygon points="168.4,193.9 164.1,191.5 160.4,194.1 164.8,196.6" fill="#b00e22"/>
<polygon points="125.2,143.0 120.7,134.4 116.6,136.2 121.2,144.8" fill="#f4ac5c"/>
<polygon points="138.8,172.8 134.4,166.8 130.5,168.6 134.9,174.7" fill="#e45830"/>
<polygon points="147.4,183.1 143.1,178.2 139.2,180.3 143.6,185.2" fill="#d82a24"/>
<polygon points="143.1,178.2 138.8,172.8 134.9,174.7 139.2,180.3" fill="#d82a24"/>
<polygon points="188.8,191.3 184.3,190.7 180.8,194.0 185.3,194.7" fill="#740916"/>
<polygon points="204.9,182.9 200.3,183.6 196.9,187.6 201.5,187.0" fill="#212330"/>
<polygon points="196.9,187.6 192.3,187.6 188.8,191.3 193.4,191.4" fill="#212330"/>
<polygon points="236.5,151.7 231.4,154.7 228.1,160.2 233.2,157.3" fill="#2e180c"/>
<polygon points="224.7,165.5 219.8,167.6 216.5,172.6 221.4,170.5" fill="#3a160c"/>
<polygon points="119.7,111.3 115.1,100.8 111.0,102.7 115.7,113.4" fill="#e8e89c"/>
<polygon points="252.0,129.1 246.6,133.1 243.3,139.6 248.6,135.7" fill="#21170c"/>
<polygon points="164.1,191.5 159.8,188.4 156.1,191.0 160.4,194.1" fill="#b00e22"/>
<polygon points="129.6,150.8 125.2,143.0 121.2,144.8 125.6,152.8" fill="#f4ac5c"/>
<polygon points="176.4,192.8 172.0,191.0 168.4,193.9 172.8,195.8" fill="#a30d1f"/>
<polygon points="119.2,98.5 114.5,87.2 110.4,89.4 115.1,100.8" fill="#aacfe2"/>
<polygon points="124.8,132.4 120.3,123.3 116.2,125.2 120.7,134.4" fill="#f0d886"/>
<polygon points="118.6,84.8 113.9,72.8 109.8,75.2 114.5,87.2" fill="#aacfe2"/>
<polygon points="216.5,172.6 211.7,174.0 208.3,178.6 213.1,177.2" fill="#34060a"/>
<polygon points="159.8,188.4 155.5,184.8 151.7,187.3 156.1,191.0" fill="#b00e22"/>
<polygon points="134.0,158.0 129.6,150.8 125.6,152.8 130.1,160.1" fill="#ee803e"/>
<polygon points="239.9,145.8 234.8,148.9 231.4,154.7 236.5,151.7" fill="#2a160b"/>
<polygon points="184.3,190.7 179.9,189.5 176.4,192.8 180.8,194.0" fill="#860a19"/>
<polygon points="228.1,160.2 223.1,162.4 219.8,167.6 224.7,165.5" fill="#35140b"/>
<polygon points="208.3,178.6 203.6,179.3 200.3,183.6 204.9,182.9" fill="#212330"/>
<polygon points="155.5,184.8 151.2,180.6 147.4,183.1 151.7,187.3" fill="#b00e22"/>
<polygon points="138.3,164.6 134.0,158.0 130.1,160.1 134.4,166.8" fill="#e45830"/>
<polygon points="124.3,121.1 119.7,111.3 115.7,113.4 120.3,123.3" fill="#f0d886"/>
<polygon points="172.0,191.0 167.7,188.6 164.1,191.5 168.4,193.9" fill="#b00e22"/>
<polygon points="192.3,187.6 187.8,187.1 184.3,190.7 188.8,191.3" fill="#212330"/>
<polygon points="200.3,183.6 195.7,183.7 192.3,187.6 196.9,187.6" fill="#212330"/>
<polygon points="129.2,140.9 124.8,132.4 120.7,134.4 125.2,143.0" fill="#f4ac5c"/>
<polygon points="151.2,180.6 146.9,175.9 143.1,178.2 147.4,183.1" fill="#d82a24"/>
<polygon points="142.6,170.6 138.3,164.6 134.4,166.8 138.8,172.8" fill="#e45830"/>
<polygon points="146.9,175.9 142.6,170.6 138.8,172.8 143.1,178.2" fill="#d82a24"/>
<polygon points="243.3,139.6 238.1,142.8 234.8,148.9 239.9,145.8" fill="#26140a"/>
<polygon points="123.7,108.9 119.2,98.5 115.1,100.8 119.7,111.3" fill="#e8e89c"/>
<polygon points="219.8,167.6 215.0,169.1 211.7,174.0 216.5,172.6" fill="#300509"/>
<polygon points="167.7,188.6 163.4,185.6 159.8,188.4 164.1,191.5" fill="#b00e22"/>
<polygon points="231.4,154.7 226.5,157.0 223.1,162.4 228.1,160.2" fill="#30120a"/>
<polygon points="179.9,189.5 175.6,187.7 172.0,191.0 176.4,192.8" fill="#9a0c1d"/>
<polygon points="123.1,95.9 118.6,84.8 114.5,87.2 119.2,98.5" fill="#aacfe2"/>
<polygon points="133.6,148.6 129.2,140.9 125.2,143.0 129.6,150.8" fill="#ee803e"/>
<polygon points="122.5,82.0 117.9,70.1 113.9,72.8 118.6,84.8" fill="#aacfe2"/>
<polygon points="128.7,130.1 124.3,121.1 120.3,123.3 124.8,132.4" fill="#f0d886"/>
<polygon points="246.6,133.1 241.5,136.4 238.1,142.8 243.3,139.6" fill="#24190d"/>
<polygon points="211.7,174.0 207.0,174.8 203.6,179.3 208.3,178.6" fill="#3b070b"/>
<polygon points="187.8,187.1 183.4,185.9 179.9,189.5 184.3,190.7" fill="#212330"/>
<polygon points="163.4,185.6 159.2,182.1 155.5,184.8 159.8,188.4" fill="#b00e22"/>
<polygon points="137.9,155.7 133.6,148.6 129.6,150.8 134.0,158.0" fill="#ee803e"/>
<polygon points="203.6,179.3 199.1,179.5 195.7,183.7 200.3,183.6" fill="#212330"/>
<polygon points="195.7,183.7 191.2,183.2 187.8,187.1 192.3,187.6" fill="#212330"/>
<polygon points="234.8,148.9 229.8,151.3 226.5,157.0 231.4,154.7" fill="#2c1109"/>
<polygon points="175.6,187.7 171.3,185.4 167.7,188.6 172.0,191.0" fill="#ae0d21"/>
<polygon points="223.1,162.4 218.3,164.0 215.0,169.1 219.8,167.6" fill="#380b09"/>
<polygon points="128.2,118.6 123.7,108.9 119.7,111.3 124.3,121.1" fill="#f0d886"/>
<polygon points="159.2,182.1 154.9,178.0 151.2,180.6 155.5,184.8" fill="#b00e22"/>
<polygon points="142.2,162.2 137.9,155.7 134.0,158.0 138.3,164.6" fill="#e45830"/>
<polygon points="133.1,138.4 128.7,130.1 124.8,132.4 129.2,140.9" fill="#f4ac5c"/>
<polygon points="154.9,178.0 150.7,173.3 146.9,175.9 151.2,180.6" fill="#d82a24"/>
<polygon points="146.4,168.0 142.2,162.2 138.3,164.6 142.6,170.6" fill="#d82a24"/>
<polygon points="150.7,173.3 146.4,168.0 142.6,170.6 146.9,175.9" fill="#d82a24"/>
<polygon points="127.6,106.2 123.1,95.9 119.2,98.5 123.7,108.9" fill="#e8e89c"/>
<polygon points="183.4,185.9 179.1,184.2 175.6,187.7 179.9,189.5" fill="#900b1b"/>
<polygon points="215.0,169.1 210.3,170.0 207.0,174.8 211.7,174.0" fill="#36060a"/>
<polygon points="126.4,78.9 121.8,67.1 117.9,70.1 122.5,82.0" fill="#aacfe2"/>
<polygon points="127.0,93.0 122.5,82.0 118.6,84.8 123.1,95.9" fill="#aacfe2"/>
<polygon points="171.3,185.4 167.0,182.5 163.4,185.6 167.7,188.6" fill="#b00e22"/>
<polygon points="238.1,142.8 233.1,145.3 229.8,151.3 234.8,148.9" fill="#2a160b"/>
<polygon points="137.4,146.1 133.1,138.4 129.2,140.9 133.6,148.6" fill="#ee803e"/>
<polygon points="226.5,157.0 221.6,158.7 218.3,164.0 223.1,162.4" fill="#36150b"/>
<polygon points="132.5,127.5 128.2,118.6 124.3,121.1 128.7,130.1" fill="#f0d886"/>
<polygon points="191.2,183.2 186.8,182.1 183.4,185.9 187.8,187.1" fill="#212330"/>
<polygon points="207.0,174.8 202.4,175.1 199.1,179.5 203.6,179.3" fill="#45080d"/>
<polygon points="199.1,179.5 194.6,179.1 191.2,183.2 195.7,183.7" fill="#212330"/>
<polygon points="167.0,182.5 162.8,179.0 159.2,182.1 163.4,185.6" fill="#b00e22"/>
<polygon points="141.7,153.1 137.4,146.1 133.6,148.6 137.9,155.7" fill="#ee803e"/>
<polygon points="241.5,136.4 236.4,139.0 233.1,145.3 238.1,142.8" fill="#27150a"/>
<polygon points="179.1,184.2 174.8,182.0 171.3,185.4 175.6,187.7" fill="#a40d1f"/>
<polygon points="132.0,115.8 127.6,106.2 123.7,108.9 128.2,118.6" fill="#f0d886"/>
<polygon points="162.8,179.0 158.6,175.0 154.9,178.0 159.2,182.1" fill="#b00e22"/>
<polygon points="218.3,164.0 213.7,165.0 210.3,170.0 215.0,169.1" fill="#320509"/>
<polygon points="145.9,159.5 141.7,153.1 137.9,155.7 142.2,162.2" fill="#e45830"/>
<polygon points="136.9,135.7 132.5,127.5 128.7,130.1 133.1,138.4" fill="#f4ac5c"/>
<polygon points="229.8,151.3 225.0,153.0 221.6,158.7 226.5,157.0" fill="#32130a"/>
<polygon points="131.4,103.2 127.0,93.0 123.1,95.9 127.6,106.2" fill="#e8e89c"/>
<polygon points="158.6,175.0 154.3,170.4 150.7,173.3 154.9,178.0" fill="#b00e22"/>
<polygon points="150.1,165.3 145.9,159.5 142.2,162.2 146.4,168.0" fill="#d82a24"/>
<polygon points="130.2,75.4 125.7,63.8 121.8,67.1 126.4,78.9" fill="#aacfe2"/>
<polygon points="154.3,170.4 150.1,165.3 146.4,168.0 150.7,173.3" fill="#d82a24"/>
<polygon points="186.8,182.1 182.5,180.5 179.1,184.2 183.4,185.9" fill="#800f18"/>
<polygon points="130.8,89.8 126.4,78.9 122.5,82.0 127.0,93.0" fill="#aacfe2"/>
<polygon points="210.3,170.0 205.8,170.3 202.4,175.1 207.0,174.8" fill="#3f070c"/>
<polygon points="174.8,182.0 170.5,179.2 167.0,182.5 171.3,185.4" fill="#b00e22"/>
<polygon points="194.6,179.1 190.2,178.1 186.8,182.1 191.2,183.2" fill="#212330"/>
<polygon points="202.4,175.1 198.0,174.7 194.6,179.1 199.1,179.5" fill="#50090f"/>
<polygon points="141.1,143.3 136.9,135.7 133.1,138.4 137.4,146.1" fill="#ee803e"/>
<polygon points="136.3,124.6 132.0,115.8 128.2,118.6 132.5,127.5" fill="#f4ac5c"/>
<polygon points="233.1,145.3 228.3,147.1 225.0,153.0 229.8,151.3" fill="#2e1109"/>
<polygon points="221.6,158.7 217.0,159.7 213.7,165.0 218.3,164.0" fill="#2e0508"/>
<polygon points="170.5,179.2 166.3,175.8 162.8,179.0 167.0,182.5" fill="#b00e22"/>
<polygon points="182.5,180.5 178.2,178.3 174.8,182.0 179.1,184.2" fill="#93111c"/>
<polygon points="145.4,150.2 141.1,143.3 137.4,146.1 141.7,153.1" fill="#ee803e"/>
<polygon points="135.8,112.7 131.4,103.2 127.6,106.2 132.0,115.8" fill="#f0d886"/>
<polygon points="166.3,175.8 162.1,171.8 158.6,175.0 162.8,179.0" fill="#b00e22"/>
<polygon points="213.7,165.0 209.1,165.4 205.8,170.3 210.3,170.0" fill="#3a060b"/>
<polygon points="133.9,71.7 129.5,60.2 125.7,63.8 130.2,75.4" fill="#aacfe2"/>
<polygon points="135.2,99.9 130.8,89.8 127.0,93.0 131.4,103.2" fill="#e8e89c"/>
<polygon points="140.6,132.7 136.3,124.6 132.5,127.5 136.9,135.7" fill="#f4ac5c"/>
<polygon points="149.6,156.5 145.4,150.2 141.7,153.1 145.9,159.5" fill="#e45830"/>
<polygon points="236.4,139.0 231.6,140.9 228.3,147.1 233.1,145.3" fill="#2c170b"/>
<polygon points="134.6,86.3 130.2,75.4 126.4,78.9 130.8,89.8" fill="#aacfe2"/>
<polygon points="190.2,178.1 185.9,176.5 182.5,180.5 186.8,182.1" fill="#770e16"/>
<polygon points="162.1,171.8 158.0,167.3 154.3,170.4 158.6,175.0" fill="#b00e22"/>
<polygon points="153.8,162.2 149.6,156.5 145.9,159.5 150.1,165.3" fill="#d82a24"/>
<polygon points="205.8,170.3 201.3,170.1 198.0,174.7 202.4,175.1" fill="#4a080e"/>
<polygon points="225.0,153.0 220.3,154.2 217.0,159.7 221.6,158.7" fill="#360a09"/>
<polygon points="158.0,167.3 153.8,162.2 150.1,165.3 154.3,170.4" fill="#d82a24"/>
<polygon points="198.0,174.7 193.6,173.8 190.2,178.1 194.6,179.1" fill="#5f0b12"/>
<polygon points="178.2,178.3 174.0,175.6 170.5,179.2 174.8,182.0" fill="#a7131f"/>
<polygon points="140.1,121.4 135.8,112.7 132.0,115.8 136.3,124.6" fill="#f4ac5c"/>
<polygon points="144.8,140.2 140.6,132.7 136.9,135.7 141.1,143.3" fill="#ee803e"/>
<polygon points="217.0,159.7 212.4,160.2 209.1,165.4 213.7,165.0" fill="#35060a"/>
<polygon points="174.0,175.6 169.8,172.2 166.3,175.8 170.5,179.2" fill="#a81420"/>
<polygon points="185.9,176.5 181.7,174.4 178.2,178.3 182.5,180.5" fill="#8a101a"/>
<polygon points="228.3,147.1 223.6,148.3 220.3,154.2 225.0,153.0" fill="#34140b"/>
<polygon points="139.5,109.3 135.2,99.9 131.4,103.2 135.8,112.7" fill="#f0d886"/>
<polygon points="137.6,67.7 133.2,56.2 129.5,60.2 133.9,71.7" fill="#aacfe2"/>
<polygon points="149.0,147.1 144.8,140.2 141.1,143.3 145.4,150.2" fill="#ee803e"/>
<polygon points="209.1,165.4 204.6,165.2 201.3,170.1 205.8,170.3" fill="#44080d"/>
<polygon points="138.9,96.3 134.6,86.3 130.8,89.8 135.2,99.9" fill="#e8e89c"/>
<polygon points="138.3,82.5 133.9,71.7 130.2,75.4 134.6,86.3" fill="#aacfe2"/>
<polygon points="193.6,173.8 189.3,172.3 185.9,176.5 190.2,178.1" fill="#6f0d15"/>
<polygon points="169.8,172.2 165.7,168.4 162.1,171.8 166.3,175.8" fill="#a81420"/>
<polygon points="201.3,170.1 196.9,169.2 193.6,173.8 198.0,174.7" fill="#570a10"/>
<polygon points="144.3,129.5 140.1,121.4 136.3,124.6 140.6,132.7" fill="#f4ac5c"/>
<polygon points="153.2,153.3 149.0,147.1 145.4,150.2 149.6,156.5" fill="#e45830"/>
<polygon points="165.7,168.4 161.5,163.9 158.0,167.3 162.1,171.8" fill="#a81420"/>
<polygon points="157.4,158.9 153.2,153.3 149.6,156.5 153.8,162.2" fill="#a81420"/>
<polygon points="181.7,174.4 177.5,171.7 174.0,175.6 178.2,178.3" fill="#9d121e"/>
<polygon points="161.5,163.9 157.4,158.9 153.8,162.2 158.0,167.3" fill="#a81420"/>
<polygon points="231.6,140.9 226.9,142.2 223.6,148.3 228.3,147.1" fill="#30120a"/>
<polygon points="220.3,154.2 215.7,154.7 212.4,160.2 217.0,159.7" fill="#310509"/>
<polygon points="143.7,117.9 139.5,109.3 135.8,112.7 140.1,121.4" fill="#f4ac5c"/>
<polygon points="148.5,136.9 144.3,129.5 140.6,132.7 144.8,140.2" fill="#ee803e"/>
<polygon points="141.2,63.4 136.9,52.0 133.2,56.2 137.6,67.7" fill="#aacfe2"/>
<polygon points="189.3,172.3 185.1,170.2 181.7,174.4 185.9,176.5" fill="#810f18"/>
<polygon points="212.4,160.2 207.9,160.0 204.6,165.2 209.1,165.4" fill="#3f070c"/>
<polygon points="177.5,171.7 173.3,168.5 169.8,172.2 174.0,175.6" fill="#a81420"/>
<polygon points="143.1,105.6 138.9,96.3 135.2,99.9 139.5,109.3" fill="#f0d886"/>
<polygon points="141.9,78.4 137.6,67.7 133.9,71.7 138.3,82.5" fill="#aacfe2"/>
<polygon points="196.9,169.2 192.6,167.8 189.3,172.3 193.6,173.8" fill="#670c13"/>
<polygon points="204.6,165.2 200.3,164.4 196.9,169.2 201.3,170.1" fill="#51090f"/>
<polygon points="142.5,92.4 138.3,82.5 134.6,86.3 138.9,96.3" fill="#e8e89c"/>
<polygon points="152.6,143.6 148.5,136.9 144.8,140.2 149.0,147.1" fill="#ee803e"/>
<polygon points="223.6,148.3 219.0,148.9 215.7,154.7 220.3,154.2" fill="#3a0b09"/>
<polygon points="173.3,168.5 169.1,164.6 165.7,168.4 169.8,172.2" fill="#a81420"/>
<polygon points="147.9,125.9 143.7,117.9 140.1,121.4 144.3,129.5" fill="#f4ac5c"/>
<polygon points="156.8,149.8 152.6,143.6 149.0,147.1 153.2,153.3" fill="#e45830"/>
<polygon points="185.1,170.2 180.9,167.6 177.5,171.7 181.7,174.4" fill="#94111c"/>
<polygon points="169.1,164.6 165.0,160.3 161.5,163.9 165.7,168.4" fill="#a81420"/>
<polygon points="160.9,155.3 156.8,149.8 153.2,153.3 157.4,158.9" fill="#a81420"/>
<polygon points="165.0,160.3 160.9,155.3 157.4,158.9 161.5,163.9" fill="#a81420"/>
<polygon points="144.8,58.7 140.6,47.4 136.9,52.0 141.2,63.4" fill="#8cbed6"/>
<polygon points="215.7,154.7 211.2,154.6 207.9,160.0 212.4,160.2" fill="#3a060b"/>
<polygon points="147.3,114.2 143.1,105.6 139.5,109.3 143.7,117.9" fill="#f0d886"/>
<polygon points="226.9,142.2 222.3,142.9 219.0,148.9 223.6,148.3" fill="#39160c"/>
<polygon points="192.6,167.8 188.4,165.8 185.1,170.2 189.3,172.3" fill="#790e17"/>
<polygon points="152.0,133.2 147.9,125.9 144.3,129.5 148.5,136.9" fill="#ee803e"/>
<polygon points="207.9,160.0 203.6,159.3 200.3,164.4 204.6,165.2" fill="#4b080e"/>
<polygon points="145.5,74.0 141.2,63.4 137.6,67.7 141.9,78.4" fill="#aacfe2"/>
<polygon points="180.9,167.6 176.7,164.4 173.3,168.5 177.5,171.7" fill="#a6131f"/>
<polygon points="200.3,164.4 196.0,163.0 192.6,167.8 196.9,169.2" fill="#600b12"/>
<polygon points="146.7,101.6 142.5,92.4 138.9,96.3 143.1,105.6" fill="#f0d886"/>
<polygon points="146.1,88.3 141.9,78.4 138.3,82.5 142.5,92.4" fill="#e8e89c"/>
<polygon points="156.2,139.9 152.0,133.2 148.5,136.9 152.6,143.6" fill="#ee803e"/>
<polygon points="176.7,164.4 172.6,160.7 169.1,164.6 173.3,168.5" fill="#a81420"/>
<polygon points="219.0,148.9 214.5,148.9 211.2,154.6 215.7,154.7" fill="#450d0b"/>
<polygon points="151.5,122.1 147.3,114.2 143.7,117.9 147.9,125.9" fill="#f4ac5c"/>
<polygon points="148.4,53.8 144.2,42.5 140.6,47.4 144.8,58.7" fill="#8cbed6"/>
<polygon points="188.4,165.8 184.2,163.2 180.9,167.6 185.1,170.2" fill="#8b101a"/>
<polygon points="160.3,146.0 156.2,139.9 152.6,143.6 156.8,149.8" fill="#e45830"/>
<polygon points="172.6,160.7 168.5,156.4 165.0,160.3 169.1,164.6" fill="#a81420"/>
<polygon points="164.4,151.5 160.3,146.0 156.8,149.8 160.9,155.3" fill="#d82a24"/>
<polygon points="168.5,156.4 164.4,151.5 160.9,155.3 165.0,160.3" fill="#a81420"/>
<polygon points="211.2,154.6 206.8,154.0 203.6,159.3 207.9,160.0" fill="#45080d"/>
<polygon points="196.0,163.0 191.7,161.1 188.4,165.8 192.6,167.8" fill="#710d15"/>
<polygon points="150.9,110.2 146.7,101.6 143.1,105.6 147.3,114.2" fill="#f0d886"/>
<polygon points="149.0,69.3 144.8,58.7 141.2,63.4 145.5,74.0" fill="#aacfe2"/>
<polygon points="203.6,159.3 199.3,158.0 196.0,163.0 200.3,164.4" fill="#590a11"/>
<polygon points="155.6,129.4 151.5,122.1 147.9,125.9 152.0,133.2" fill="#ee803e"/>
<polygon points="150.3,97.4 146.1,88.3 142.5,92.4 146.7,101.6" fill="#f0d886"/>
<polygon points="149.7,83.8 145.5,74.0 141.9,78.4 146.1,88.3" fill="#e8e89c"/>
<polygon points="222.3,142.9 217.8,143.0 214.5,148.9 219.0,148.9" fill="#400c0a"/>
<polygon points="184.2,163.2 180.1,160.1 176.7,164.4 180.9,167.6" fill="#9e121e"/>
<polygon points="159.7,136.0 155.6,129.4 152.0,133.2 156.2,139.9" fill="#ee803e"/>
<polygon points="180.1,160.1 176.0,156.4 172.6,160.7 176.7,164.4" fill="#a81420"/>
<polygon points="214.5,148.9 210.1,148.4 206.8,154.0 211.2,154.6" fill="#40070c"/>
<polygon points="191.7,161.1 187.6,158.6 184.2,163.2 188.4,165.8" fill="#830f19"/>
<polygon points="155.0,118.0 150.9,110.2 147.3,114.2 151.5,122.1" fill="#f4ac5c"/>
<polygon points="152.5,64.3 148.4,53.8 144.8,58.7 149.0,69.3" fill="#aacfe2"/>
<polygon points="163.7,142.0 159.7,136.0 156.2,139.9 160.3,146.0" fill="#e45830"/>
<polygon points="176.0,156.4 171.9,152.2 168.5,156.4 172.6,160.7" fill="#a81420"/>
<polygon points="206.8,154.0 202.6,152.7 199.3,158.0 203.6,159.3" fill="#53090f"/>
<polygon points="199.3,158.0 195.0,156.1 191.7,161.1 196.0,163.0" fill="#690c14"/>
<polygon points="154.4,105.9 150.3,97.4 146.7,101.6 150.9,110.2" fill="#f0d886"/>
<polygon points="167.8,147.4 163.7,142.0 160.3,146.0 164.4,151.5" fill="#d82a24"/>
<polygon points="171.9,152.2 167.8,147.4 164.4,151.5 168.5,156.4" fill="#a81420"/>
<polygon points="153.2,79.0 149.0,69.3 145.5,74.0 149.7,83.8" fill="#e8e89c"/>
<polygon points="153.8,92.9 149.7,83.8 146.1,88.3 150.3,97.4" fill="#f0d886"/>
<polygon points="187.6,158.6 183.4,155.6 180.1,160.1 184.2,163.2" fill="#95111c"/>
<polygon points="159.1,125.2 155.0,118.0 151.5,122.1 155.6,129.4" fill="#ee803e"/>
<polygon points="217.8,143.0 213.4,142.5 210.1,148.4 214.5,148.9" fill="#4d0f0c"/>
<polygon points="195.0,156.1 190.9,153.7 187.6,158.6 191.7,161.1" fill="#7b0e17"/>
<polygon points="183.4,155.6 179.3,151.9 176.0,156.4 180.1,160.1" fill="#a6131f"/>
<polygon points="163.1,131.7 159.1,125.2 155.6,129.4 159.7,136.0" fill="#ee803e"/>
<polygon points="210.1,148.4 205.8,147.2 202.6,152.7 206.8,154.0" fill="#4d090e"/>
<polygon points="158.5,113.6 154.4,105.9 150.9,110.2 155.0,118.0" fill="#f4ac5c"/>
<polygon points="202.6,152.7 198.3,150.9 195.0,156.1 199.3,158.0" fill="#630b12"/>
<polygon points="156.6,74.0 152.5,64.3 149.0,69.3 153.2,79.0" fill="#aacfe2"/>
<polygon points="179.3,151.9 175.3,147.8 171.9,152.2 176.0,156.4" fill="#a81420"/>
<polygon points="167.2,137.7 163.1,131.7 159.7,136.0 163.7,142.0" fill="#e45830"/>
<polygon points="157.9,101.3 153.8,92.9 150.3,97.4 154.4,105.9" fill="#f0d886"/>
<polygon points="157.2,88.1 153.2,79.0 149.7,83.8 153.8,92.9" fill="#f0d886"/>
<polygon points="175.3,147.8 171.2,143.0 167.8,147.4 171.9,152.2" fill="#a81420"/>
<polygon points="171.2,143.0 167.2,137.7 163.7,142.0 167.8,147.4" fill="#e45830"/>
<polygon points="190.9,153.7 186.8,150.7 183.4,155.6 187.6,158.6" fill="#8d101a"/>
<polygon points="162.5,120.7 158.5,113.6 155.0,118.0 159.1,125.2" fill="#f4ac5c"/>
<polygon points="213.4,142.5 209.1,141.4 205.8,147.2 210.1,148.4" fill="#5d120f"/>
<polygon points="198.3,150.9 194.2,148.6 190.9,153.7 195.0,156.1" fill="#730d16"/>
<polygon points="205.8,147.2 201.6,145.5 198.3,150.9 202.6,152.7" fill="#5c0b11"/>
<polygon points="186.8,150.7 182.7,147.2 179.3,151.9 183.4,155.6" fill="#9e121e"/>
<polygon points="161.9,109.0 157.9,101.3 154.4,105.9 158.5,113.6" fill="#f4ac5c"/>
<polygon points="166.5,127.2 162.5,120.7 159.1,125.2 163.1,131.7" fill="#ee803e"/>
<polygon points="161.3,96.4 157.2,88.1 153.8,92.9 157.9,101.3" fill="#f0d886"/>
<polygon points="160.7,83.0 156.6,74.0 153.2,79.0 157.2,88.1" fill="#e8e89c"/>
<polygon points="182.7,147.2 178.6,143.1 175.3,147.8 179.3,151.9" fill="#a81420"/>
<polygon points="170.6,133.1 166.5,127.2 163.1,131.7 167.2,137.7" fill="#e45830"/>
<polygon points="178.6,143.1 174.6,138.4 171.2,143.0 175.3,147.8" fill="#d82a24"/>
<polygon points="194.2,148.6 190.1,145.7 186.8,150.7 190.9,153.7" fill="#850f19"/>
<polygon points="174.6,138.4 170.6,133.1 167.2,137.7 171.2,143.0" fill="#e45830"/>
<polygon points="165.9,116.0 161.9,109.0 158.5,113.6 162.5,120.7" fill="#f4ac5c"/>
<polygon points="209.1,141.4 204.9,139.7 201.6,145.5 205.8,147.2" fill="#6f1512"/>
<polygon points="201.6,145.5 197.4,143.2 194.2,148.6 198.3,150.9" fill="#6c0c14"/>
<polygon points="190.1,145.7 186.0,142.2 182.7,147.2 186.8,150.7" fill="#96111c"/>
<polygon points="165.3,104.1 161.3,96.4 157.9,101.3 161.9,109.0" fill="#f4ac5c"/>
<polygon points="169.9,122.5 165.9,116.0 162.5,120.7 166.5,127.2" fill="#ee803e"/>
<polygon points="164.7,91.2 160.7,83.0 157.2,88.1 161.3,96.4" fill="#f0d886"/>
<polygon points="186.0,142.2 181.9,138.1 178.6,143.1 182.7,147.2" fill="#d52923"/>
<polygon points="173.9,128.3 169.9,122.5 166.5,127.2 170.6,133.1" fill="#ee803e"/>
<polygon points="197.4,143.2 193.3,140.3 190.1,145.7 194.2,148.6" fill="#7d0e17"/>
<polygon points="181.9,138.1 177.9,133.5 174.6,138.4 178.6,143.1" fill="#d82a24"/>
<polygon points="177.9,133.5 173.9,128.3 170.6,133.1 174.6,138.4" fill="#e45830"/>
<polygon points="204.9,139.7 200.7,137.5 197.4,143.2 201.6,145.5" fill="#831915"/>
<polygon points="169.3,111.1 165.3,104.1 161.9,109.0 165.9,116.0" fill="#f4ac5c"/>
<polygon points="193.3,140.3 189.3,136.9 186.0,142.2 190.1,145.7" fill="#b7231e"/>
<polygon points="168.7,98.8 164.7,91.2 161.3,96.4 165.3,104.1" fill="#f0d886"/>
<polygon points="173.3,117.4 169.3,111.1 165.9,116.0 169.9,122.5" fill="#ee803e"/>
<polygon points="200.7,137.5 196.6,134.7 193.3,140.3 197.4,143.2" fill="#981d19"/>
<polygon points="189.3,136.9 185.3,132.9 181.9,138.1 186.0,142.2" fill="#cb2721"/>
<polygon points="177.3,123.2 173.3,117.4 169.9,122.5 173.9,128.3" fill="#ee803e"/>
<polygon points="185.3,132.9 181.3,128.3 177.9,133.5 181.9,138.1" fill="#e45830"/>
<polygon points="181.3,128.3 177.3,123.2 173.9,128.3 177.9,133.5" fill="#e45830"/>
<polygon points="172.7,105.8 168.7,98.8 165.3,104.1 169.3,111.1" fill="#f4ac5c"/>
<polygon points="196.6,134.7 192.6,131.4 189.3,136.9 193.3,140.3" fill="#ad211c"/>
<polygon points="176.6,112.1 172.7,105.8 169.3,111.1 173.3,117.4" fill="#f4ac5c"/>
<polygon points="192.6,131.4 188.5,127.4 185.3,132.9 189.3,136.9" fill="#cc4e2b"/>
<polygon points="180.6,117.8 176.6,112.1 173.3,117.4 177.3,123.2" fill="#ee803e"/>
<polygon points="188.5,127.4 184.6,122.9 181.3,128.3 185.3,132.9" fill="#e0562f"/>
<polygon points="184.6,122.9 180.6,117.8 177.3,123.2 181.3,128.3" fill="#ee803e"/>
</g>
<g stroke="#1a1a1a" stroke-width="1.15" fill="none" stroke-dasharray="1.3 2.5" stroke-linecap="butt">
<line x1="185.20" y1="282.72" x2="190.94" y2="124.94" />
<line x1="190.94" y1="124.94" x2="24.34" y2="60.98" />
<line x1="190.94" y1="124.94" x2="290.85" y2="40.62" />
</g>
<g stroke="#1a1a1a" stroke-width="0.9" stroke-linecap="round">
<line x1="185.20" y1="282.72" x2="181.40" y2="289.99" />
<line x1="146.69" y1="261.42" x2="142.89" y2="268.31" />
<line x1="111.19" y1="241.78" x2="107.41" y2="248.33" />
<line x1="78.36" y1="223.63" x2="74.62" y2="229.86" />
<line x1="47.93" y1="206.79" x2="44.22" y2="212.74" />
<line x1="270.10" y1="181.44" x2="274.77" y2="185.86" />
<line x1="252.12" y1="202.89" x2="256.99" y2="207.57" />
<line x1="232.20" y1="226.65" x2="237.31" y2="231.62" />
<line x1="210.03" y1="253.10" x2="215.38" y2="258.41" />
<line x1="185.20" y1="282.72" x2="190.82" y2="288.41" />
<line x1="45.16" y1="189.67" x2="37.56" y2="189.87" />
<line x1="40.23" y1="159.23" x2="32.63" y2="159.43" />
<line x1="34.87" y1="126.11" x2="27.27" y2="126.31" />
<line x1="29.02" y1="89.96" x2="21.42" y2="90.16" />
</g>
<g font-family="Liberation Sans, sans-serif" font-size="7.3" fill="#2a2a2a" text-anchor="end">
<text x="35.2" y="192.7">60</text>
<text x="30.2" y="162.2">80</text>
<text x="24.9" y="129.1">100</text>
<text x="19.0" y="93.0">120</text>
</g>
<g font-family="Liberation Sans, sans-serif" font-size="7.3" fill="#2a2a2a" text-anchor="middle">
<text x="180.2" y="300.1">4.0</text>
<text x="142.0" y="278.2">4.5</text>
<text x="106.8" y="258.1">5.0</text>
<text x="74.3" y="239.5">5.5</text>
<text x="44.1" y="222.3">6.0</text>
<text x="277.6" y="194.2">4.0</text>
<text x="260.0" y="216.1">4.5</text>
<text x="240.5" y="240.4">5.0</text>
<text x="218.8" y="267.5">5.5</text>
<text x="194.6" y="297.8">6.0</text>
</g>
<text font-family="Liberation Serif, serif" font-size="15.8" fill="#111" stroke="#111" stroke-width="0.25" word-spacing="-2.2" text-anchor="middle" transform="translate(83.1,273.3) rotate(31.3)">Incubation time</text>
<text font-family="Liberation Serif, serif" font-size="17" fill="#111" stroke="#111" stroke-width="0.25" text-anchor="middle" transform="translate(259.4,252.5) rotate(-50)" y="4">pH</text>
<text font-family="Liberation Sans, sans-serif" font-size="8.3" font-style="italic" fill="#3a3a3a" text-anchor="middle" transform="translate(9.8,151) rotate(82)" y="2.5">Activity (U/ml)</text>
<text font-family="Liberation Serif, serif" font-size="19.5" fill="#000" stroke="#000" stroke-width="0.3" x="10.2" y="30.4">a</text>
<rect x="90.70" y="327.7" width="12.25" height="25" fill="#A00A23"/>
<rect x="103.55" y="327.7" width="12.25" height="25" fill="#CD1E23"/>
<rect x="116.40" y="327.7" width="12.25" height="25" fill="#F05A32"/>
<rect x="129.25" y="327.7" width="12.25" height="25" fill="#FAA555"/>
<rect x="142.10" y="327.7" width="12.25" height="25" fill="#FDD782"/>
<rect x="154.95" y="327.7" width="12.25" height="25" fill="#FFFFB4"/>
<rect x="167.80" y="327.7" width="12.25" height="25" fill="#D7EEF5"/>
<rect x="180.65" y="327.7" width="12.25" height="25" fill="#A0D2E6"/>
<rect x="193.50" y="327.7" width="12.25" height="25" fill="#64A0CD"/>
<rect x="206.35" y="327.7" width="12.25" height="25" fill="#375FAA"/>
<rect x="219.20" y="327.7" width="12.25" height="25" fill="#282891"/>
<line x1="88.9" y1="374.3" x2="224" y2="374.3" stroke="#222" stroke-width="1.1"/>
<polygon points="222.5,369.8 232.4,374.3 222.5,378.7" fill="#000"/>
<text font-family="Liberation Serif, serif" font-size="14.1" fill="#111" stroke="#111" stroke-width="0.2" x="101.6" y="387.6">Enzyme activity (U/ml)</text>
<g shape-rendering="crispEdges">
<rect x="370.14" y="258.56" width="11.62" height="9.58" fill="#f8b21d"/>
<rect x="381.46" y="258.56" width="11.62" height="9.58" fill="#f7bf11"/>
<rect x="392.78" y="258.56" width="11.62" height="9.58" fill="#f6c70d"/>
<rect x="404.10" y="258.56" width="11.62" height="9.58" fill="#f5d00a"/>
<rect x="415.42" y="258.56" width="11.62" height="9.58" fill="#f5d807"/>
<rect x="426.74" y="258.56" width="11.62" height="9.58" fill="#f4e106"/>
<rect x="438.06" y="258.56" width="11.62" height="9.58" fill="#f4ea05"/>
<rect x="449.38" y="258.56" width="11.62" height="9.58" fill="#ecec00"/>
<rect x="460.70" y="258.56" width="11.62" height="9.58" fill="#ecec00"/>
<rect x="472.02" y="258.56" width="11.62" height="9.58" fill="#e0ea00"/>
<rect x="483.34" y="258.56" width="11.62" height="9.58" fill="#e0ea00"/>
<rect x="494.66" y="258.56" width="11.62" height="9.58" fill="#e0ea00"/>
<rect x="505.98" y="258.56" width="11.62" height="9.58" fill="#e0ea00"/>
<rect x="517.30" y="258.56" width="11.62" height="9.58" fill="#e0ea00"/>
<rect x="528.62" y="258.56" width="11.62" height="9.58" fill="#e0ea00"/>
<rect x="539.94" y="258.56" width="11.62" height="9.58" fill="#ecec00"/>
<rect x="551.26" y="258.56" width="11.62" height="9.58" fill="#ecec00"/>
<rect x="562.58" y="258.56" width="11.62" height="9.58" fill="#f4ea05"/>
<rect x="573.90" y="258.56" width="11.62" height="9.58" fill="#f4ea05"/>
<rect x="585.22" y="258.56" width="11.62" height="9.58" fill="#f4e106"/>
<rect x="596.54" y="258.56" width="11.62" height="9.58" fill="#f5d807"/>
<rect x="607.86" y="258.56" width="11.62" height="9.58" fill="#f6c70d"/>
<rect x="619.18" y="258.56" width="11.62" height="9.58" fill="#f7bf11"/>
<rect x="630.50" y="258.56" width="11.62" height="9.58" fill="#f7b816"/>
<rect x="641.82" y="258.56" width="11.62" height="9.58" fill="#f8ae2a"/>
<rect x="653.14" y="258.56" width="11.62" height="9.58" fill="#f9ab37"/>
<rect x="370.14" y="249.28" width="11.62" height="9.58" fill="#f5d00a"/>
<rect x="381.46" y="249.28" width="11.62" height="9.58" fill="#f4e106"/>
<rect x="392.78" y="249.28" width="11.62" height="9.58" fill="#f4ea05"/>
<rect x="404.10" y="249.28" width="11.62" height="9.58" fill="#ecec00"/>
<rect x="415.42" y="249.28" width="11.62" height="9.58" fill="#e0ea00"/>
<rect x="426.74" y="249.28" width="11.62" height="9.58" fill="#d4e700"/>
<rect x="438.06" y="249.28" width="11.62" height="9.58" fill="#c8e400"/>
<rect x="449.38" y="249.28" width="11.62" height="9.58" fill="#bce100"/>
<rect x="460.70" y="249.28" width="11.62" height="9.58" fill="#bce100"/>
<rect x="472.02" y="249.28" width="11.62" height="9.58" fill="#b0df00"/>
<rect x="483.34" y="249.28" width="11.62" height="9.58" fill="#b0df00"/>
<rect x="494.66" y="249.28" width="11.62" height="9.58" fill="#b0df00"/>
<rect x="505.98" y="249.28" width="11.62" height="9.58" fill="#b0df00"/>
<rect x="517.30" y="249.28" width="11.62" height="9.58" fill="#b0df00"/>
<rect x="528.62" y="249.28" width="11.62" height="9.58" fill="#b0df00"/>
<rect x="539.94" y="249.28" width="11.62" height="9.58" fill="#bce100"/>
<rect x="551.26" y="249.28" width="11.62" height="9.58" fill="#bce100"/>
<rect x="562.58" y="249.28" width="11.62" height="9.58" fill="#c8e400"/>
<rect x="573.90" y="249.28" width="11.62" height="9.58" fill="#d4e700"/>
<rect x="585.22" y="249.28" width="11.62" height="9.58" fill="#e0ea00"/>
<rect x="596.54" y="249.28" width="11.62" height="9.58" fill="#ecec00"/>
<rect x="607.86" y="249.28" width="11.62" height="9.58" fill="#f4ea05"/>
<rect x="619.18" y="249.28" width="11.62" height="9.58" fill="#f4e106"/>
<rect x="630.50" y="249.28" width="11.62" height="9.58" fill="#f5d00a"/>
<rect x="641.82" y="249.28" width="11.62" height="9.58" fill="#f6c70d"/>
<rect x="653.14" y="249.28" width="11.62" height="9.58" fill="#f7b816"/>
<rect x="370.14" y="240.00" width="11.62" height="9.58" fill="#ecec00"/>
<rect x="381.46" y="240.00" width="11.62" height="9.58" fill="#d4e700"/>
<rect x="392.78" y="240.00" width="11.62" height="9.58" fill="#c8e400"/>
<rect x="404.10" y="240.00" width="11.62" height="9.58" fill="#bce100"/>
<rect x="415.42" y="240.00" width="11.62" height="9.58" fill="#b0df00"/>
<rect x="426.74" y="240.00" width="11.62" height="9.58" fill="#a5dc00"/>
<rect x="438.06" y="240.00" width="11.62" height="9.58" fill="#9ad900"/>
<rect x="449.38" y="240.00" width="11.62" height="9.58" fill="#9ad900"/>
<rect x="460.70" y="240.00" width="11.62" height="9.58" fill="#8fd600"/>
<rect x="472.02" y="240.00" width="11.62" height="9.58" fill="#8fd600"/>
<rect x="483.34" y="240.00" width="11.62" height="9.58" fill="#8fd600"/>
<rect x="494.66" y="240.00" width="11.62" height="9.58" fill="#84d400"/>
<rect x="505.98" y="240.00" width="11.62" height="9.58" fill="#84d400"/>
<rect x="517.30" y="240.00" width="11.62" height="9.58" fill="#8fd600"/>
<rect x="528.62" y="240.00" width="11.62" height="9.58" fill="#8fd600"/>
<rect x="539.94" y="240.00" width="11.62" height="9.58" fill="#8fd600"/>
<rect x="551.26" y="240.00" width="11.62" height="9.58" fill="#9ad900"/>
<rect x="562.58" y="240.00" width="11.62" height="9.58" fill="#a5dc00"/>
<rect x="573.90" y="240.00" width="11.62" height="9.58" fill="#a5dc00"/>
<rect x="585.22" y="240.00" width="11.62" height="9.58" fill="#b0df00"/>
<rect x="596.54" y="240.00" width="11.62" height="9.58" fill="#bce100"/>
<rect x="607.86" y="240.00" width="11.62" height="9.58" fill="#c8e400"/>
<rect x="619.18" y="240.00" width="11.62" height="9.58" fill="#e0ea00"/>
<rect x="630.50" y="240.00" width="11.62" height="9.58" fill="#ecec00"/>
<rect x="641.82" y="240.00" width="11.62" height="9.58" fill="#f4e106"/>
<rect x="653.14" y="240.00" width="11.62" height="9.58" fill="#f5d00a"/>
<rect x="370.14" y="230.72" width="11.62" height="9.58" fill="#bce100"/>
<rect x="381.46" y="230.72" width="11.62" height="9.58" fill="#b0df00"/>
<rect x="392.78" y="230.72" width="11.62" height="9.58" fill="#a5dc00"/>
<rect x="404.10" y="230.72" width="11.62" height="9.58" fill="#9ad900"/>
<rect x="415.42" y="230.72" width="11.62" height="9.58" fill="#8fd600"/>
<rect x="426.74" y="230.72" width="11.62" height="9.58" fill="#84d400"/>
<rect x="438.06" y="230.72" width="11.62" height="9.58" fill="#7ad100"/>
<rect x="449.38" y="230.72" width="11.62" height="9.58" fill="#70ce00"/>
<rect x="460.70" y="230.72" width="11.62" height="9.58" fill="#70ce00"/>
<rect x="472.02" y="230.72" width="11.62" height="9.58" fill="#70ce00"/>
<rect x="483.34" y="230.72" width="11.62" height="9.58" fill="#66cc00"/>
<rect x="494.66" y="230.72" width="11.62" height="9.58" fill="#66cc00"/>
<rect x="505.98" y="230.72" width="11.62" height="9.58" fill="#66cc00"/>
<rect x="517.30" y="230.72" width="11.62" height="9.58" fill="#66cc00"/>
<rect x="528.62" y="230.72" width="11.62" height="9.58" fill="#70ce00"/>
<rect x="539.94" y="230.72" width="11.62" height="9.58" fill="#70ce00"/>
<rect x="551.26" y="230.72" width="11.62" height="9.58" fill="#7ad100"/>
<rect x="562.58" y="230.72" width="11.62" height="9.58" fill="#7ad100"/>
<rect x="573.90" y="230.72" width="11.62" height="9.58" fill="#84d400"/>
<rect x="585.22" y="230.72" width="11.62" height="9.58" fill="#8fd600"/>
<rect x="596.54" y="230.72" width="11.62" height="9.58" fill="#9ad900"/>
<rect x="607.86" y="230.72" width="11.62" height="9.58" fill="#a5dc00"/>
<rect x="619.18" y="230.72" width="11.62" height="9.58" fill="#bce100"/>
<rect x="630.50" y="230.72" width="11.62" height="9.58" fill="#c8e400"/>
<rect x="641.82" y="230.72" width="11.62" height="9.58" fill="#e0ea00"/>
<rect x="653.14" y="230.72" width="11.62" height="9.58" fill="#f4ea05"/>
<rect x="370.14" y="221.44" width="11.62" height="9.58" fill="#9ad900"/>
<rect x="381.46" y="221.44" width="11.62" height="9.58" fill="#8fd600"/>
<rect x="392.78" y="221.44" width="11.62" height="9.58" fill="#84d400"/>
<rect x="404.10" y="221.44" width="11.62" height="9.58" fill="#7ad100"/>
<rect x="415.42" y="221.44" width="11.62" height="9.58" fill="#70ce00"/>
<rect x="426.74" y="221.44" width="11.62" height="9.58" fill="#66cc00"/>
<rect x="438.06" y="221.44" width="11.62" height="9.58" fill="#5cc900"/>
<rect x="449.38" y="221.44" width="11.62" height="9.58" fill="#5cc900"/>
<rect x="460.70" y="221.44" width="11.62" height="9.58" fill="#53c600"/>
<rect x="472.02" y="221.44" width="11.62" height="9.58" fill="#53c600"/>
<rect x="483.34" y="221.44" width="11.62" height="9.58" fill="#53c600"/>
<rect x="494.66" y="221.44" width="11.62" height="9.58" fill="#49c300"/>
<rect x="505.98" y="221.44" width="11.62" height="9.58" fill="#53c600"/>
<rect x="517.30" y="221.44" width="11.62" height="9.58" fill="#53c600"/>
<rect x="528.62" y="221.44" width="11.62" height="9.58" fill="#53c600"/>
<rect x="539.94" y="221.44" width="11.62" height="9.58" fill="#53c600"/>
<rect x="551.26" y="221.44" width="11.62" height="9.58" fill="#5cc900"/>
<rect x="562.58" y="221.44" width="11.62" height="9.58" fill="#66cc00"/>
<rect x="573.90" y="221.44" width="11.62" height="9.58" fill="#70ce00"/>
<rect x="585.22" y="221.44" width="11.62" height="9.58" fill="#7ad100"/>
<rect x="596.54" y="221.44" width="11.62" height="9.58" fill="#84d400"/>
<rect x="607.86" y="221.44" width="11.62" height="9.58" fill="#8fd600"/>
<rect x="619.18" y="221.44" width="11.62" height="9.58" fill="#9ad900"/>
<rect x="630.50" y="221.44" width="11.62" height="9.58" fill="#b0df00"/>
<rect x="641.82" y="221.44" width="11.62" height="9.58" fill="#bce100"/>
<rect x="653.14" y="221.44" width="11.62" height="9.58" fill="#d4e700"/>
<rect x="370.14" y="212.16" width="11.62" height="9.58" fill="#84d400"/>
<rect x="381.46" y="212.16" width="11.62" height="9.58" fill="#70ce00"/>
<rect x="392.78" y="212.16" width="11.62" height="9.58" fill="#66cc00"/>
<rect x="404.10" y="212.16" width="11.62" height="9.58" fill="#5cc900"/>
<rect x="415.42" y="212.16" width="11.62" height="9.58" fill="#53c600"/>
<rect x="426.74" y="212.16" width="11.62" height="9.58" fill="#49c300"/>
<rect x="438.06" y="212.16" width="11.62" height="9.58" fill="#49c300"/>
<rect x="449.38" y="212.16" width="11.62" height="9.58" fill="#40c100"/>
<rect x="460.70" y="212.16" width="11.62" height="9.58" fill="#40c100"/>
<rect x="472.02" y="212.16" width="11.62" height="9.58" fill="#37be00"/>
<rect x="483.34" y="212.16" width="11.62" height="9.58" fill="#37be00"/>
<rect x="494.66" y="212.16" width="11.62" height="9.58" fill="#37be00"/>
<rect x="505.98" y="212.16" width="11.62" height="9.58" fill="#37be00"/>
<rect x="517.30" y="212.16" width="11.62" height="9.58" fill="#37be00"/>
<rect x="528.62" y="212.16" width="11.62" height="9.58" fill="#40c100"/>
<rect x="539.94" y="212.16" width="11.62" height="9.58" fill="#40c100"/>
<rect x="551.26" y="212.16" width="11.62" height="9.58" fill="#49c300"/>
<rect x="562.58" y="212.16" width="11.62" height="9.58" fill="#49c300"/>
<rect x="573.90" y="212.16" width="11.62" height="9.58" fill="#53c600"/>
<rect x="585.22" y="212.16" width="11.62" height="9.58" fill="#5cc900"/>
<rect x="596.54" y="212.16" width="11.62" height="9.58" fill="#66cc00"/>
<rect x="607.86" y="212.16" width="11.62" height="9.58" fill="#7ad100"/>
<rect x="619.18" y="212.16" width="11.62" height="9.58" fill="#84d400"/>
<rect x="630.50" y="212.16" width="11.62" height="9.58" fill="#8fd600"/>
<rect x="641.82" y="212.16" width="11.62" height="9.58" fill="#a5dc00"/>
<rect x="653.14" y="212.16" width="11.62" height="9.58" fill="#bce100"/>
<rect x="370.14" y="202.88" width="11.62" height="9.58" fill="#66cc00"/>
<rect x="381.46" y="202.88" width="11.62" height="9.58" fill="#5cc900"/>
<rect x="392.78" y="202.88" width="11.62" height="9.58" fill="#53c600"/>
<rect x="404.10" y="202.88" width="11.62" height="9.58" fill="#49c300"/>
<rect x="415.42" y="202.88" width="11.62" height="9.58" fill="#40c100"/>
<rect x="426.74" y="202.88" width="11.62" height="9.58" fill="#37be00"/>
<rect x="438.06" y="202.88" width="11.62" height="9.58" fill="#2fbb00"/>
<rect x="449.38" y="202.88" width="11.62" height="9.58" fill="#2fbb00"/>
<rect x="460.70" y="202.88" width="11.62" height="9.58" fill="#26b800"/>
<rect x="472.02" y="202.88" width="11.62" height="9.58" fill="#26b800"/>
<rect x="483.34" y="202.88" width="11.62" height="9.58" fill="#26b800"/>
<rect x="494.66" y="202.88" width="11.62" height="9.58" fill="#26b800"/>
<rect x="505.98" y="202.88" width="11.62" height="9.58" fill="#26b800"/>
<rect x="517.30" y="202.88" width="11.62" height="9.58" fill="#26b800"/>
<rect x="528.62" y="202.88" width="11.62" height="9.58" fill="#2fbb00"/>
<rect x="539.94" y="202.88" width="11.62" height="9.58" fill="#2fbb00"/>
<rect x="551.26" y="202.88" width="11.62" height="9.58" fill="#37be00"/>
<rect x="562.58" y="202.88" width="11.62" height="9.58" fill="#37be00"/>
<rect x="573.90" y="202.88" width="11.62" height="9.58" fill="#40c100"/>
<rect x="585.22" y="202.88" width="11.62" height="9.58" fill="#49c300"/>
<rect x="596.54" y="202.88" width="11.62" height="9.58" fill="#53c600"/>
<rect x="607.86" y="202.88" width="11.62" height="9.58" fill="#66cc00"/>
<rect x="619.18" y="202.88" width="11.62" height="9.58" fill="#70ce00"/>
<rect x="630.50" y="202.88" width="11.62" height="9.58" fill="#84d400"/>
<rect x="641.82" y="202.88" width="11.62" height="9.58" fill="#8fd600"/>
<rect x="653.14" y="202.88" width="11.62" height="9.58" fill="#a5dc00"/>
<rect x="370.14" y="193.60" width="11.62" height="9.58" fill="#53c600"/>
<rect x="381.46" y="193.60" width="11.62" height="9.58" fill="#49c300"/>
<rect x="392.78" y="193.60" width="11.62" height="9.58" fill="#40c100"/>
<rect x="404.10" y="193.60" width="11.62" height="9.58" fill="#37be00"/>
<rect x="415.42" y="193.60" width="11.62" height="9.58" fill="#2fbb00"/>
<rect x="426.74" y="193.60" width="11.62" height="9.58" fill="#26b800"/>
<rect x="438.06" y="193.60" width="11.62" height="9.58" fill="#26b800"/>
<rect x="449.38" y="193.60" width="11.62" height="9.58" fill="#1eb600"/>
<rect x="460.70" y="193.60" width="11.62" height="9.58" fill="#1eb600"/>
<rect x="472.02" y="193.60" width="11.62" height="9.58" fill="#16b300"/>
<rect x="483.34" y="193.60" width="11.62" height="9.58" fill="#16b300"/>
<rect x="494.66" y="193.60" width="11.62" height="9.58" fill="#16b300"/>
<rect x="505.98" y="193.60" width="11.62" height="9.58" fill="#16b300"/>
<rect x="517.30" y="193.60" width="11.62" height="9.58" fill="#16b300"/>
<rect x="528.62" y="193.60" width="11.62" height="9.58" fill="#1eb600"/>
<rect x="539.94" y="193.60" width="11.62" height="9.58" fill="#1eb600"/>
<rect x="551.26" y="193.60" width="11.62" height="9.58" fill="#26b800"/>
<rect x="562.58" y="193.60" width="11.62" height="9.58" fill="#2fbb00"/>
<rect x="573.90" y="193.60" width="11.62" height="9.58" fill="#37be00"/>
<rect x="585.22" y="193.60" width="11.62" height="9.58" fill="#40c100"/>
<rect x="596.54" y="193.60" width="11.62" height="9.58" fill="#49c300"/>
<rect x="607.86" y="193.60" width="11.62" height="9.58" fill="#53c600"/>
<rect x="619.18" y="193.60" width="11.62" height="9.58" fill="#5cc900"/>
<rect x="630.50" y="193.60" width="11.62" height="9.58" fill="#70ce00"/>
<rect x="641.82" y="193.60" width="11.62" height="9.58" fill="#84d400"/>
<rect x="653.14" y="193.60" width="11.62" height="9.58" fill="#8fd600"/>
<rect x="370.14" y="184.32" width="11.62" height="9.58" fill="#49c300"/>
<rect x="381.46" y="184.32" width="11.62" height="9.58" fill="#40c100"/>
<rect x="392.78" y="184.32" width="11.62" height="9.58" fill="#2fbb00"/>
<rect x="404.10" y="184.32" width="11.62" height="9.58" fill="#26b800"/>
<rect x="415.42" y="184.32" width="11.62" height="9.58" fill="#1eb600"/>
<rect x="426.74" y="184.32" width="11.62" height="9.58" fill="#1eb600"/>
<rect x="438.06" y="184.32" width="11.62" height="9.58" fill="#16b300"/>
<rect x="449.38" y="184.32" width="11.62" height="9.58" fill="#0fb000"/>
<rect x="460.70" y="184.32" width="11.62" height="9.58" fill="#0fb000"/>
<rect x="472.02" y="184.32" width="11.62" height="9.58" fill="#0fb000"/>
<rect x="483.34" y="184.32" width="11.62" height="9.58" fill="#0fb000"/>
<rect x="494.66" y="184.32" width="11.62" height="9.58" fill="#0fb000"/>
<rect x="505.98" y="184.32" width="11.62" height="9.58" fill="#0fb000"/>
<rect x="517.30" y="184.32" width="11.62" height="9.58" fill="#0fb000"/>
<rect x="528.62" y="184.32" width="11.62" height="9.58" fill="#0fb000"/>
<rect x="539.94" y="184.32" width="11.62" height="9.58" fill="#16b300"/>
<rect x="551.26" y="184.32" width="11.62" height="9.58" fill="#1eb600"/>
<rect x="562.58" y="184.32" width="11.62" height="9.58" fill="#1eb600"/>
<rect x="573.90" y="184.32" width="11.62" height="9.58" fill="#26b800"/>
<rect x="585.22" y="184.32" width="11.62" height="9.58" fill="#2fbb00"/>
<rect x="596.54" y="184.32" width="11.62" height="9.58" fill="#40c100"/>
<rect x="607.86" y="184.32" width="11.62" height="9.58" fill="#49c300"/>
<rect x="619.18" y="184.32" width="11.62" height="9.58" fill="#53c600"/>
<rect x="630.50" y="184.32" width="11.62" height="9.58" fill="#66cc00"/>
<rect x="641.82" y="184.32" width="11.62" height="9.58" fill="#70ce00"/>
<rect x="653.14" y="184.32" width="11.62" height="9.58" fill="#84d400"/>
<rect x="370.14" y="175.04" width="11.62" height="9.58" fill="#40c100"/>
<rect x="381.46" y="175.04" width="11.62" height="9.58" fill="#2fbb00"/>
<rect x="392.78" y="175.04" width="11.62" height="9.58" fill="#26b800"/>
<rect x="404.10" y="175.04" width="11.62" height="9.58" fill="#1eb600"/>
<rect x="415.42" y="175.04" width="11.62" height="9.58" fill="#16b300"/>
<rect x="426.74" y="175.04" width="11.62" height="9.58" fill="#0fb000"/>
<rect x="438.06" y="175.04" width="11.62" height="9.58" fill="#0fb000"/>
<rect x="449.38" y="175.04" width="11.62" height="9.58" fill="#07ad00"/>
<rect x="460.70" y="175.04" width="11.62" height="9.58" fill="#07ad00"/>
<rect x="472.02" y="175.04" width="11.62" height="9.58" fill="#07ad00"/>
<rect x="483.34" y="175.04" width="11.62" height="9.58" fill="#07ad00"/>
<rect x="494.66" y="175.04" width="11.62" height="9.58" fill="#07ad00"/>
<rect x="505.98" y="175.04" width="11.62" height="9.58" fill="#07ad00"/>
<rect x="517.30" y="175.04" width="11.62" height="9.58" fill="#07ad00"/>
<rect x="528.62" y="175.04" width="11.62" height="9.58" fill="#07ad00"/>
<rect x="539.94" y="175.04" width="11.62" height="9.58" fill="#0fb000"/>
<rect x="551.26" y="175.04" width="11.62" height="9.58" fill="#16b300"/>
<rect x="562.58" y="175.04" width="11.62" height="9.58" fill="#16b300"/>
<rect x="573.90" y="175.04" width="11.62" height="9.58" fill="#1eb600"/>
<rect x="585.22" y="175.04" width="11.62" height="9.58" fill="#26b800"/>
<rect x="596.54" y="175.04" width="11.62" height="9.58" fill="#37be00"/>
<rect x="607.86" y="175.04" width="11.62" height="9.58" fill="#40c100"/>
<rect x="619.18" y="175.04" width="11.62" height="9.58" fill="#49c300"/>
<rect x="630.50" y="175.04" width="11.62" height="9.58" fill="#5cc900"/>
<rect x="641.82" y="175.04" width="11.62" height="9.58" fill="#70ce00"/>
<rect x="653.14" y="175.04" width="11.62" height="9.58" fill="#7ad100"/>
<rect x="370.14" y="165.76" width="11.62" height="9.58" fill="#37be00"/>
<rect x="381.46" y="165.76" width="11.62" height="9.58" fill="#26b800"/>
<rect x="392.78" y="165.76" width="11.62" height="9.58" fill="#1eb600"/>
<rect x="404.10" y="165.76" width="11.62" height="9.58" fill="#16b300"/>
<rect x="415.42" y="165.76" width="11.62" height="9.58" fill="#0fb000"/>
<rect x="426.74" y="165.76" width="11.62" height="9.58" fill="#0fb000"/>
<rect x="438.06" y="165.76" width="11.62" height="9.58" fill="#07ad00"/>
<rect x="449.38" y="165.76" width="11.62" height="9.58" fill="#07ad00"/>
<rect x="460.70" y="165.76" width="11.62" height="9.58" fill="#00ab00"/>
<rect x="472.02" y="165.76" width="11.62" height="9.58" fill="#00ab00"/>
<rect x="483.34" y="165.76" width="11.62" height="9.58" fill="#00ab00"/>
<rect x="494.66" y="165.76" width="11.62" height="9.58" fill="#00ab00"/>
<rect x="505.98" y="165.76" width="11.62" height="9.58" fill="#00ab00"/>
<rect x="517.30" y="165.76" width="11.62" height="9.58" fill="#00ab00"/>
<rect x="528.62" y="165.76" width="11.62" height="9.58" fill="#07ad00"/>
<rect x="539.94" y="165.76" width="11.62" height="9.58" fill="#07ad00"/>
<rect x="551.26" y="165.76" width="11.62" height="9.58" fill="#0fb000"/>
<rect x="562.58" y="165.76" width="11.62" height="9.58" fill="#16b300"/>
<rect x="573.90" y="165.76" width="11.62" height="9.58" fill="#1eb600"/>
<rect x="585.22" y="165.76" width="11.62" height="9.58" fill="#26b800"/>
<rect x="596.54" y="165.76" width="11.62" height="9.58" fill="#2fbb00"/>
<rect x="607.86" y="165.76" width="11.62" height="9.58" fill="#37be00"/>
<rect x="619.18" y="165.76" width="11.62" height="9.58" fill="#49c300"/>
<rect x="630.50" y="165.76" width="11.62" height="9.58" fill="#53c600"/>
<rect x="641.82" y="165.76" width="11.62" height="9.58" fill="#66cc00"/>
<rect x="653.14" y="165.76" width="11.62" height="9.58" fill="#7ad100"/>
<rect x="370.14" y="156.48" width="11.62" height="9.58" fill="#2fbb00"/>
<rect x="381.46" y="156.48" width="11.62" height="9.58" fill="#26b800"/>
<rect x="392.78" y="156.48" width="11.62" height="9.58" fill="#1eb600"/>
<rect x="404.10" y="156.48" width="11.62" height="9.58" fill="#16b300"/>
<rect x="415.42" y="156.48" width="11.62" height="9.58" fill="#0fb000"/>
<rect x="426.74" y="156.48" width="11.62" height="9.58" fill="#07ad00"/>
<rect x="438.06" y="156.48" width="11.62" height="9.58" fill="#07ad00"/>
<rect x="449.38" y="156.48" width="11.62" height="9.58" fill="#00ab00"/>
<rect x="460.70" y="156.48" width="11.62" height="9.58" fill="#00ab00"/>
<rect x="472.02" y="156.48" width="11.62" height="9.58" fill="#00ab00"/>
<rect x="483.34" y="156.48" width="11.62" height="9.58" fill="#00ab00"/>
<rect x="494.66" y="156.48" width="11.62" height="9.58" fill="#00ab00"/>
<rect x="505.98" y="156.48" width="11.62" height="9.58" fill="#00ab00"/>
<rect x="517.30" y="156.48" width="11.62" height="9.58" fill="#00ab00"/>
<rect x="528.62" y="156.48" width="11.62" height="9.58" fill="#07ad00"/>
<rect x="539.94" y="156.48" width="11.62" height="9.58" fill="#07ad00"/>
<rect x="551.26" y="156.48" width="11.62" height="9.58" fill="#0fb000"/>
<rect x="562.58" y="156.48" width="11.62" height="9.58" fill="#16b300"/>
<rect x="573.90" y="156.48" width="11.62" height="9.58" fill="#1eb600"/>
<rect x="585.22" y="156.48" width="11.62" height="9.58" fill="#26b800"/>
<rect x="596.54" y="156.48" width="11.62" height="9.58" fill="#2fbb00"/>
<rect x="607.86" y="156.48" width="11.62" height="9.58" fill="#37be00"/>
<rect x="619.18" y="156.48" width="11.62" height="9.58" fill="#49c300"/>
<rect x="630.50" y="156.48" width="11.62" height="9.58" fill="#53c600"/>
<rect x="641.82" y="156.48" width="11.62" height="9.58" fill="#66cc00"/>
<rect x="653.14" y="156.48" width="11.62" height="9.58" fill="#7ad100"/>
<rect x="370.14" y="147.20" width="11.62" height="9.58" fill="#2fbb00"/>
<rect x="381.46" y="147.20" width="11.62" height="9.58" fill="#26b800"/>
<rect x="392.78" y="147.20" width="11.62" height="9.58" fill="#1eb600"/>
<rect x="404.10" y="147.20" width="11.62" height="9.58" fill="#16b300"/>
<rect x="415.42" y="147.20" width="11.62" height="9.58" fill="#0fb000"/>
<rect x="426.74" y="147.20" width="11.62" height="9.58" fill="#07ad00"/>
<rect x="438.06" y="147.20" width="11.62" height="9.58" fill="#07ad00"/>
<rect x="449.38" y="147.20" width="11.62" height="9.58" fill="#00ab00"/>
<rect x="460.70" y="147.20" width="11.62" height="9.58" fill="#00ab00"/>
<rect x="472.02" y="147.20" width="11.62" height="9.58" fill="#00ab00"/>
<rect x="483.34" y="147.20" width="11.62" height="9.58" fill="#00ab00"/>
<rect x="494.66" y="147.20" width="11.62" height="9.58" fill="#00ab00"/>
<rect x="505.98" y="147.20" width="11.62" height="9.58" fill="#00ab00"/>
<rect x="517.30" y="147.20" width="11.62" height="9.58" fill="#00ab00"/>
<rect x="528.62" y="147.20" width="11.62" height="9.58" fill="#07ad00"/>
<rect x="539.94" y="147.20" width="11.62" height="9.58" fill="#07ad00"/>
<rect x="551.26" y="147.20" width="11.62" height="9.58" fill="#0fb000"/>
<rect x="562.58" y="147.20" width="11.62" height="9.58" fill="#16b300"/>
<rect x="573.90" y="147.20" width="11.62" height="9.58" fill="#1eb600"/>
<rect x="585.22" y="147.20" width="11.62" height="9.58" fill="#26b800"/>
<rect x="596.54" y="147.20" width="11.62" height="9.58" fill="#2fbb00"/>
<rect x="607.86" y="147.20" width="11.62" height="9.58" fill="#37be00"/>
<rect x="619.18" y="147.20" width="11.62" height="9.58" fill="#49c300"/>
<rect x="630.50" y="147.20" width="11.62" height="9.58" fill="#5cc900"/>
<rect x="641.82" y="147.20" width="11.62" height="9.58" fill="#66cc00"/>
<rect x="653.14" y="147.20" width="11.62" height="9.58" fill="#7ad100"/>
<rect x="370.14" y="137.92" width="11.62" height="9.58" fill="#2fbb00"/>
<rect x="381.46" y="137.92" width="11.62" height="9.58" fill="#26b800"/>
<rect x="392.78" y="137.92" width="11.62" height="9.58" fill="#1eb600"/>
<rect x="404.10" y="137.92" width="11.62" height="9.58" fill="#16b300"/>
<rect x="415.42" y="137.92" width="11.62" height="9.58" fill="#0fb000"/>
<rect x="426.74" y="137.92" width="11.62" height="9.58" fill="#07ad00"/>
<rect x="438.06" y="137.92" width="11.62" height="9.58" fill="#07ad00"/>
<rect x="449.38" y="137.92" width="11.62" height="9.58" fill="#00ab00"/>
<rect x="460.70" y="137.92" width="11.62" height="9.58" fill="#00ab00"/>
<rect x="472.02" y="137.92" width="11.62" height="9.58" fill="#00ab00"/>
<rect x="483.34" y="137.92" width="11.62" height="9.58" fill="#00ab00"/>
<rect x="494.66" y="137.92" width="11.62" height="9.58" fill="#00ab00"/>
<rect x="505.98" y="137.92" width="11.62" height="9.58" fill="#00ab00"/>
<rect x="517.30" y="137.92" width="11.62" height="9.58" fill="#00ab00"/>
<rect x="528.62" y="137.92" width="11.62" height="9.58" fill="#07ad00"/>
<rect x="539.94" y="137.92" width="11.62" height="9.58" fill="#0fb000"/>
<rect x="551.26" y="137.92" width="11.62" height="9.58" fill="#0fb000"/>
<rect x="562.58" y="137.92" width="11.62" height="9.58" fill="#16b300"/>
<rect x="573.90" y="137.92" width="11.62" height="9.58" fill="#1eb600"/>
<rect x="585.22" y="137.92" width="11.62" height="9.58" fill="#26b800"/>
<rect x="596.54" y="137.92" width="11.62" height="9.58" fill="#37be00"/>
<rect x="607.86" y="137.92" width="11.62" height="9.58" fill="#40c100"/>
<rect x="619.18" y="137.92" width="11.62" height="9.58" fill="#49c300"/>
<rect x="630.50" y="137.92" width="11.62" height="9.58" fill="#5cc900"/>
<rect x="641.82" y="137.92" width="11.62" height="9.58" fill="#70ce00"/>
<rect x="653.14" y="137.92" width="11.62" height="9.58" fill="#84d400"/>
<rect x="370.14" y="128.64" width="11.62" height="9.58" fill="#37be00"/>
<rect x="381.46" y="128.64" width="11.62" height="9.58" fill="#26b800"/>
<rect x="392.78" y="128.64" width="11.62" height="9.58" fill="#1eb600"/>
<rect x="404.10" y="128.64" width="11.62" height="9.58" fill="#16b300"/>
<rect x="415.42" y="128.64" width="11.62" height="9.58" fill="#16b300"/>
<rect x="426.74" y="128.64" width="11.62" height="9.58" fill="#0fb000"/>
<rect x="438.06" y="128.64" width="11.62" height="9.58" fill="#07ad00"/>
<rect x="449.38" y="128.64" width="11.62" height="9.58" fill="#07ad00"/>
<rect x="460.70" y="128.64" width="11.62" height="9.58" fill="#07ad00"/>
<rect x="472.02" y="128.64" width="11.62" height="9.58" fill="#07ad00"/>
<rect x="483.34" y="128.64" width="11.62" height="9.58" fill="#07ad00"/>
<rect x="494.66" y="128.64" width="11.62" height="9.58" fill="#07ad00"/>
<rect x="505.98" y="128.64" width="11.62" height="9.58" fill="#07ad00"/>
<rect x="517.30" y="128.64" width="11.62" height="9.58" fill="#07ad00"/>
<rect x="528.62" y="128.64" width="11.62" height="9.58" fill="#0fb000"/>
<rect x="539.94" y="128.64" width="11.62" height="9.58" fill="#0fb000"/>
<rect x="551.26" y="128.64" width="11.62" height="9.58" fill="#16b300"/>
<rect x="562.58" y="128.64" width="11.62" height="9.58" fill="#1eb600"/>
<rect x="573.90" y="128.64" width="11.62" height="9.58" fill="#26b800"/>
<rect x="585.22" y="128.64" width="11.62" height="9.58" fill="#2fbb00"/>
<rect x="596.54" y="128.64" width="11.62" height="9.58" fill="#37be00"/>
<rect x="607.86" y="128.64" width="11.62" height="9.58" fill="#49c300"/>
<rect x="619.18" y="128.64" width="11.62" height="9.58" fill="#53c600"/>
<rect x="630.50" y="128.64" width="11.62" height="9.58" fill="#66cc00"/>
<rect x="641.82" y="128.64" width="11.62" height="9.58" fill="#7ad100"/>
<rect x="653.14" y="128.64" width="11.62" height="9.58" fill="#8fd600"/>
<rect x="370.14" y="119.36" width="11.62" height="9.58" fill="#37be00"/>
<rect x="381.46" y="119.36" width="11.62" height="9.58" fill="#2fbb00"/>
<rect x="392.78" y="119.36" width="11.62" height="9.58" fill="#26b800"/>
<rect x="404.10" y="119.36" width="11.62" height="9.58" fill="#1eb600"/>
<rect x="415.42" y="119.36" width="11.62" height="9.58" fill="#16b300"/>
<rect x="426.74" y="119.36" width="11.62" height="9.58" fill="#16b300"/>
<rect x="438.06" y="119.36" width="11.62" height="9.58" fill="#0fb000"/>
<rect x="449.38" y="119.36" width="11.62" height="9.58" fill="#0fb000"/>
<rect x="460.70" y="119.36" width="11.62" height="9.58" fill="#0fb000"/>
<rect x="472.02" y="119.36" width="11.62" height="9.58" fill="#0fb000"/>
<rect x="483.34" y="119.36" width="11.62" height="9.58" fill="#0fb000"/>
<rect x="494.66" y="119.36" width="11.62" height="9.58" fill="#0fb000"/>
<rect x="505.98" y="119.36" width="11.62" height="9.58" fill="#0fb000"/>
<rect x="517.30" y="119.36" width="11.62" height="9.58" fill="#0fb000"/>
<rect x="528.62" y="119.36" width="11.62" height="9.58" fill="#16b300"/>
<rect x="539.94" y="119.36" width="11.62" height="9.58" fill="#16b300"/>
<rect x="551.26" y="119.36" width="11.62" height="9.58" fill="#1eb600"/>
<rect x="562.58" y="119.36" width="11.62" height="9.58" fill="#26b800"/>
<rect x="573.90" y="119.36" width="11.62" height="9.58" fill="#2fbb00"/>
<rect x="585.22" y="119.36" width="11.62" height="9.58" fill="#37be00"/>
<rect x="596.54" y="119.36" width="11.62" height="9.58" fill="#49c300"/>
<rect x="607.86" y="119.36" width="11.62" height="9.58" fill="#53c600"/>
<rect x="619.18" y="119.36" width="11.62" height="9.58" fill="#66cc00"/>
<rect x="630.50" y="119.36" width="11.62" height="9.58" fill="#70ce00"/>
<rect x="641.82" y="119.36" width="11.62" height="9.58" fill="#84d400"/>
<rect x="653.14" y="119.36" width="11.62" height="9.58" fill="#9ad900"/>
<rect x="370.14" y="110.08" width="11.62" height="9.58" fill="#49c300"/>
<rect x="381.46" y="110.08" width="11.62" height="9.58" fill="#37be00"/>
<rect x="392.78" y="110.08" width="11.62" height="9.58" fill="#2fbb00"/>
<rect x="404.10" y="110.08" width="11.62" height="9.58" fill="#2fbb00"/>
<rect x="415.42" y="110.08" width="11.62" height="9.58" fill="#26b800"/>
<rect x="426.74" y="110.08" width="11.62" height="9.58" fill="#1eb600"/>
<rect x="438.06" y="110.08" width="11.62" height="9.58" fill="#1eb600"/>
<rect x="449.38" y="110.08" width="11.62" height="9.58" fill="#16b300"/>
<rect x="460.70" y="110.08" width="11.62" height="9.58" fill="#16b300"/>
<rect x="472.02" y="110.08" width="11.62" height="9.58" fill="#16b300"/>
<rect x="483.34" y="110.08" width="11.62" height="9.58" fill="#16b300"/>
<rect x="494.66" y="110.08" width="11.62" height="9.58" fill="#16b300"/>
<rect x="505.98" y="110.08" width="11.62" height="9.58" fill="#16b300"/>
<rect x="517.30" y="110.08" width="11.62" height="9.58" fill="#1eb600"/>
<rect x="528.62" y="110.08" width="11.62" height="9.58" fill="#1eb600"/>
<rect x="539.94" y="110.08" width="11.62" height="9.58" fill="#26b800"/>
<rect x="551.26" y="110.08" width="11.62" height="9.58" fill="#2fbb00"/>
<rect x="562.58" y="110.08" width="11.62" height="9.58" fill="#37be00"/>
<rect x="573.90" y="110.08" width="11.62" height="9.58" fill="#40c100"/>
<rect x="585.22" y="110.08" width="11.62" height="9.58" fill="#49c300"/>
<rect x="596.54" y="110.08" width="11.62" height="9.58" fill="#53c600"/>
<rect x="607.86" y="110.08" width="11.62" height="9.58" fill="#66cc00"/>
<rect x="619.18" y="110.08" width="11.62" height="9.58" fill="#70ce00"/>
<rect x="630.50" y="110.08" width="11.62" height="9.58" fill="#84d400"/>
<rect x="641.82" y="110.08" width="11.62" height="9.58" fill="#9ad900"/>
<rect x="653.14" y="110.08" width="11.62" height="9.58" fill="#b0df00"/>
<rect x="370.14" y="100.80" width="11.62" height="9.58" fill="#53c600"/>
<rect x="381.46" y="100.80" width="11.62" height="9.58" fill="#49c300"/>
<rect x="392.78" y="100.80" width="11.62" height="9.58" fill="#40c100"/>
<rect x="404.10" y="100.80" width="11.62" height="9.58" fill="#37be00"/>
<rect x="415.42" y="100.80" width="11.62" height="9.58" fill="#2fbb00"/>
<rect x="426.74" y="100.80" width="11.62" height="9.58" fill="#2fbb00"/>
<rect x="438.06" y="100.80" width="11.62" height="9.58" fill="#26b800"/>
<rect x="449.38" y="100.80" width="11.62" height="9.58" fill="#26b800"/>
<rect x="460.70" y="100.80" width="11.62" height="9.58" fill="#26b800"/>
<rect x="472.02" y="100.80" width="11.62" height="9.58" fill="#26b800"/>
<rect x="483.34" y="100.80" width="11.62" height="9.58" fill="#26b800"/>
<rect x="494.66" y="100.80" width="11.62" height="9.58" fill="#26b800"/>
<rect x="505.98" y="100.80" width="11.62" height="9.58" fill="#26b800"/>
<rect x="517.30" y="100.80" width="11.62" height="9.58" fill="#2fbb00"/>
<rect x="528.62" y="100.80" width="11.62" height="9.58" fill="#2fbb00"/>
<rect x="539.94" y="100.80" width="11.62" height="9.58" fill="#37be00"/>
<rect x="551.26" y="100.80" width="11.62" height="9.58" fill="#40c100"/>
<rect x="562.58" y="100.80" width="11.62" height="9.58" fill="#49c300"/>
<rect x="573.90" y="100.80" width="11.62" height="9.58" fill="#53c600"/>
<rect x="585.22" y="100.80" width="11.62" height="9.58" fill="#5cc900"/>
<rect x="596.54" y="100.80" width="11.62" height="9.58" fill="#66cc00"/>
<rect x="607.86" y="100.80" width="11.62" height="9.58" fill="#7ad100"/>
<rect x="619.18" y="100.80" width="11.62" height="9.58" fill="#84d400"/>
<rect x="630.50" y="100.80" width="11.62" height="9.58" fill="#9ad900"/>
<rect x="641.82" y="100.80" width="11.62" height="9.58" fill="#b0df00"/>
<rect x="653.14" y="100.80" width="11.62" height="9.58" fill="#c8e400"/>
<rect x="370.14" y="91.52" width="11.62" height="9.58" fill="#66cc00"/>
<rect x="381.46" y="91.52" width="11.62" height="9.58" fill="#5cc900"/>
<rect x="392.78" y="91.52" width="11.62" height="9.58" fill="#53c600"/>
<rect x="404.10" y="91.52" width="11.62" height="9.58" fill="#49c300"/>
<rect x="415.42" y="91.52" width="11.62" height="9.58" fill="#40c100"/>
<rect x="426.74" y="91.52" width="11.62" height="9.58" fill="#40c100"/>
<rect x="438.06" y="91.52" width="11.62" height="9.58" fill="#37be00"/>
<rect x="449.38" y="91.52" width="11.62" height="9.58" fill="#37be00"/>
<rect x="460.70" y="91.52" width="11.62" height="9.58" fill="#37be00"/>
<rect x="472.02" y="91.52" width="11.62" height="9.58" fill="#37be00"/>
<rect x="483.34" y="91.52" width="11.62" height="9.58" fill="#37be00"/>
<rect x="494.66" y="91.52" width="11.62" height="9.58" fill="#37be00"/>
<rect x="505.98" y="91.52" width="11.62" height="9.58" fill="#37be00"/>
<rect x="517.30" y="91.52" width="11.62" height="9.58" fill="#40c100"/>
<rect x="528.62" y="91.52" width="11.62" height="9.58" fill="#40c100"/>
<rect x="539.94" y="91.52" width="11.62" height="9.58" fill="#49c300"/>
<rect x="551.26" y="91.52" width="11.62" height="9.58" fill="#53c600"/>
<rect x="562.58" y="91.52" width="11.62" height="9.58" fill="#5cc900"/>
<rect x="573.90" y="91.52" width="11.62" height="9.58" fill="#66cc00"/>
<rect x="585.22" y="91.52" width="11.62" height="9.58" fill="#70ce00"/>
<rect x="596.54" y="91.52" width="11.62" height="9.58" fill="#7ad100"/>
<rect x="607.86" y="91.52" width="11.62" height="9.58" fill="#8fd600"/>
<rect x="619.18" y="91.52" width="11.62" height="9.58" fill="#9ad900"/>
<rect x="630.50" y="91.52" width="11.62" height="9.58" fill="#b0df00"/>
<rect x="641.82" y="91.52" width="11.62" height="9.58" fill="#c8e400"/>
<rect x="653.14" y="91.52" width="11.62" height="9.58" fill="#e0ea00"/>
<rect x="370.14" y="82.24" width="11.62" height="9.58" fill="#7ad100"/>
<rect x="381.46" y="82.24" width="11.62" height="9.58" fill="#70ce00"/>
<rect x="392.78" y="82.24" width="11.62" height="9.58" fill="#66cc00"/>
<rect x="404.10" y="82.24" width="11.62" height="9.58" fill="#5cc900"/>
<rect x="415.42" y="82.24" width="11.62" height="9.58" fill="#5cc900"/>
<rect x="426.74" y="82.24" width="11.62" height="9.58" fill="#53c600"/>
<rect x="438.06" y="82.24" width="11.62" height="9.58" fill="#53c600"/>
<rect x="449.38" y="82.24" width="11.62" height="9.58" fill="#49c300"/>
<rect x="460.70" y="82.24" width="11.62" height="9.58" fill="#49c300"/>
<rect x="472.02" y="82.24" width="11.62" height="9.58" fill="#49c300"/>
<rect x="483.34" y="82.24" width="11.62" height="9.58" fill="#49c300"/>
<rect x="494.66" y="82.24" width="11.62" height="9.58" fill="#49c300"/>
<rect x="505.98" y="82.24" width="11.62" height="9.58" fill="#53c600"/>
<rect x="517.30" y="82.24" width="11.62" height="9.58" fill="#53c600"/>
<rect x="528.62" y="82.24" width="11.62" height="9.58" fill="#5cc900"/>
<rect x="539.94" y="82.24" width="11.62" height="9.58" fill="#5cc900"/>
<rect x="551.26" y="82.24" width="11.62" height="9.58" fill="#66cc00"/>
<rect x="562.58" y="82.24" width="11.62" height="9.58" fill="#70ce00"/>
<rect x="573.90" y="82.24" width="11.62" height="9.58" fill="#7ad100"/>
<rect x="585.22" y="82.24" width="11.62" height="9.58" fill="#8fd600"/>
<rect x="596.54" y="82.24" width="11.62" height="9.58" fill="#9ad900"/>
<rect x="607.86" y="82.24" width="11.62" height="9.58" fill="#b0df00"/>
<rect x="619.18" y="82.24" width="11.62" height="9.58" fill="#bce100"/>
<rect x="630.50" y="82.24" width="11.62" height="9.58" fill="#d4e700"/>
<rect x="641.82" y="82.24" width="11.62" height="9.58" fill="#ecec00"/>
<rect x="653.14" y="82.24" width="11.62" height="9.58" fill="#f4e106"/>
<rect x="370.14" y="72.96" width="11.62" height="9.58" fill="#9ad900"/>
<rect x="381.46" y="72.96" width="11.62" height="9.58" fill="#8fd600"/>
<rect x="392.78" y="72.96" width="11.62" height="9.58" fill="#84d400"/>
<rect x="404.10" y="72.96" width="11.62" height="9.58" fill="#7ad100"/>
<rect x="415.42" y="72.96" width="11.62" height="9.58" fill="#70ce00"/>
<rect x="426.74" y="72.96" width="11.62" height="9.58" fill="#70ce00"/>
<rect x="438.06" y="72.96" width="11.62" height="9.58" fill="#66cc00"/>
<rect x="449.38" y="72.96" width="11.62" height="9.58" fill="#66cc00"/>
<rect x="460.70" y="72.96" width="11.62" height="9.58" fill="#66cc00"/>
<rect x="472.02" y="72.96" width="11.62" height="9.58" fill="#66cc00"/>
<rect x="483.34" y="72.96" width="11.62" height="9.58" fill="#66cc00"/>
<rect x="494.66" y="72.96" width="11.62" height="9.58" fill="#66cc00"/>
<rect x="505.98" y="72.96" width="11.62" height="9.58" fill="#70ce00"/>
<rect x="517.30" y="72.96" width="11.62" height="9.58" fill="#70ce00"/>
<rect x="528.62" y="72.96" width="11.62" height="9.58" fill="#7ad100"/>
<rect x="539.94" y="72.96" width="11.62" height="9.58" fill="#7ad100"/>
<rect x="551.26" y="72.96" width="11.62" height="9.58" fill="#84d400"/>
<rect x="562.58" y="72.96" width="11.62" height="9.58" fill="#8fd600"/>
<rect x="573.90" y="72.96" width="11.62" height="9.58" fill="#9ad900"/>
<rect x="585.22" y="72.96" width="11.62" height="9.58" fill="#b0df00"/>
<rect x="596.54" y="72.96" width="11.62" height="9.58" fill="#bce100"/>
<rect x="607.86" y="72.96" width="11.62" height="9.58" fill="#d4e700"/>
<rect x="619.18" y="72.96" width="11.62" height="9.58" fill="#e0ea00"/>
<rect x="630.50" y="72.96" width="11.62" height="9.58" fill="#f4ea05"/>
<rect x="641.82" y="72.96" width="11.62" height="9.58" fill="#f5d807"/>
<rect x="653.14" y="72.96" width="11.62" height="9.58" fill="#f6c70d"/>
<rect x="370.14" y="63.68" width="11.62" height="9.58" fill="#bce100"/>
<rect x="381.46" y="63.68" width="11.62" height="9.58" fill="#b0df00"/>
<rect x="392.78" y="63.68" width="11.62" height="9.58" fill="#a5dc00"/>
<rect x="404.10" y="63.68" width="11.62" height="9.58" fill="#9ad900"/>
<rect x="415.42" y="63.68" width="11.62" height="9.58" fill="#8fd600"/>
<rect x="426.74" y="63.68" width="11.62" height="9.58" fill="#8fd600"/>
<rect x="438.06" y="63.68" width="11.62" height="9.58" fill="#84d400"/>
<rect x="449.38" y="63.68" width="11.62" height="9.58" fill="#84d400"/>
<rect x="460.70" y="63.68" width="11.62" height="9.58" fill="#84d400"/>
<rect x="472.02" y="63.68" width="11.62" height="9.58" fill="#84d400"/>
<rect x="483.34" y="63.68" width="11.62" height="9.58" fill="#84d400"/>
<rect x="494.66" y="63.68" width="11.62" height="9.58" fill="#84d400"/>
<rect x="505.98" y="63.68" width="11.62" height="9.58" fill="#8fd600"/>
<rect x="517.30" y="63.68" width="11.62" height="9.58" fill="#8fd600"/>
<rect x="528.62" y="63.68" width="11.62" height="9.58" fill="#9ad900"/>
<rect x="539.94" y="63.68" width="11.62" height="9.58" fill="#a5dc00"/>
<rect x="551.26" y="63.68" width="11.62" height="9.58" fill="#a5dc00"/>
<rect x="562.58" y="63.68" width="11.62" height="9.58" fill="#bce100"/>
<rect x="573.90" y="63.68" width="11.62" height="9.58" fill="#c8e400"/>
<rect x="585.22" y="63.68" width="11.62" height="9.58" fill="#d4e700"/>
<rect x="596.54" y="63.68" width="11.62" height="9.58" fill="#e0ea00"/>
<rect x="607.86" y="63.68" width="11.62" height="9.58" fill="#f4ea05"/>
<rect x="619.18" y="63.68" width="11.62" height="9.58" fill="#f5d807"/>
<rect x="630.50" y="63.68" width="11.62" height="9.58" fill="#f5d00a"/>
<rect x="641.82" y="63.68" width="11.62" height="9.58" fill="#f7bf11"/>
<rect x="653.14" y="63.68" width="11.62" height="9.58" fill="#f8b21d"/>
<rect x="370.14" y="54.40" width="11.62" height="9.58" fill="#e0ea00"/>
<rect x="381.46" y="54.40" width="11.62" height="9.58" fill="#d4e700"/>
<rect x="392.78" y="54.40" width="11.62" height="9.58" fill="#c8e400"/>
<rect x="404.10" y="54.40" width="11.62" height="9.58" fill="#bce100"/>
<rect x="415.42" y="54.40" width="11.62" height="9.58" fill="#bce100"/>
<rect x="426.74" y="54.40" width="11.62" height="9.58" fill="#b0df00"/>
<rect x="438.06" y="54.40" width="11.62" height="9.58" fill="#b0df00"/>
<rect x="449.38" y="54.40" width="11.62" height="9.58" fill="#b0df00"/>
<rect x="460.70" y="54.40" width="11.62" height="9.58" fill="#a5dc00"/>
<rect x="472.02" y="54.40" width="11.62" height="9.58" fill="#a5dc00"/>
<rect x="483.34" y="54.40" width="11.62" height="9.58" fill="#b0df00"/>
<rect x="494.66" y="54.40" width="11.62" height="9.58" fill="#b0df00"/>
<rect x="505.98" y="54.40" width="11.62" height="9.58" fill="#b0df00"/>
<rect x="517.30" y="54.40" width="11.62" height="9.58" fill="#bce100"/>
<rect x="528.62" y="54.40" width="11.62" height="9.58" fill="#bce100"/>
<rect x="539.94" y="54.40" width="11.62" height="9.58" fill="#c8e400"/>
<rect x="551.26" y="54.40" width="11.62" height="9.58" fill="#d4e700"/>
<rect x="562.58" y="54.40" width="11.62" height="9.58" fill="#e0ea00"/>
<rect x="573.90" y="54.40" width="11.62" height="9.58" fill="#ecec00"/>
<rect x="585.22" y="54.40" width="11.62" height="9.58" fill="#f4e106"/>
<rect x="596.54" y="54.40" width="11.62" height="9.58" fill="#f5d807"/>
<rect x="607.86" y="54.40" width="11.62" height="9.58" fill="#f6c70d"/>
<rect x="619.18" y="54.40" width="11.62" height="9.58" fill="#f7bf11"/>
<rect x="630.50" y="54.40" width="11.62" height="9.58" fill="#f8b21d"/>
<rect x="641.82" y="54.40" width="11.62" height="9.58" fill="#f9ab37"/>
<rect x="653.14" y="54.40" width="11.62" height="9.58" fill="#faa951"/>
<rect x="370.14" y="45.12" width="11.62" height="9.58" fill="#f5d807"/>
<rect x="381.46" y="45.12" width="11.62" height="9.58" fill="#f4e106"/>
<rect x="392.78" y="45.12" width="11.62" height="9.58" fill="#f4ea05"/>
<rect x="404.10" y="45.12" width="11.62" height="9.58" fill="#ecec00"/>
<rect x="415.42" y="45.12" width="11.62" height="9.58" fill="#ecec00"/>
<rect x="426.74" y="45.12" width="11.62" height="9.58" fill="#e0ea00"/>
<rect x="438.06" y="45.12" width="11.62" height="9.58" fill="#e0ea00"/>
<rect x="449.38" y="45.12" width="11.62" height="9.58" fill="#d4e700"/>
<rect x="460.70" y="45.12" width="11.62" height="9.58" fill="#d4e700"/>
<rect x="472.02" y="45.12" width="11.62" height="9.58" fill="#d4e700"/>
<rect x="483.34" y="45.12" width="11.62" height="9.58" fill="#d4e700"/>
<rect x="494.66" y="45.12" width="11.62" height="9.58" fill="#e0ea00"/>
<rect x="505.98" y="45.12" width="11.62" height="9.58" fill="#e0ea00"/>
<rect x="517.30" y="45.12" width="11.62" height="9.58" fill="#ecec00"/>
<rect x="528.62" y="45.12" width="11.62" height="9.58" fill="#ecec00"/>
<rect x="539.94" y="45.12" width="11.62" height="9.58" fill="#f4ea05"/>
<rect x="551.26" y="45.12" width="11.62" height="9.58" fill="#f4e106"/>
<rect x="562.58" y="45.12" width="11.62" height="9.58" fill="#f5d807"/>
<rect x="573.90" y="45.12" width="11.62" height="9.58" fill="#f5d00a"/>
<rect x="585.22" y="45.12" width="11.62" height="9.58" fill="#f7bf11"/>
<rect x="596.54" y="45.12" width="11.62" height="9.58" fill="#f7b816"/>
<rect x="607.86" y="45.12" width="11.62" height="9.58" fill="#f8ae2a"/>
<rect x="619.18" y="45.12" width="11.62" height="9.58" fill="#f9ab37"/>
<rect x="630.50" y="45.12" width="11.62" height="9.58" fill="#faa951"/>
<rect x="641.82" y="45.12" width="11.62" height="9.58" fill="#fbaa6b"/>
<rect x="653.14" y="45.12" width="11.62" height="9.58" fill="#f7ad83"/>
<rect x="370.14" y="35.84" width="11.62" height="9.58" fill="#f7b816"/>
<rect x="381.46" y="35.84" width="11.62" height="9.58" fill="#f7bf11"/>
<rect x="392.78" y="35.84" width="11.62" height="9.58" fill="#f6c70d"/>
<rect x="404.10" y="35.84" width="11.62" height="9.58" fill="#f5d00a"/>
<rect x="415.42" y="35.84" width="11.62" height="9.58" fill="#f5d00a"/>
<rect x="426.74" y="35.84" width="11.62" height="9.58" fill="#f5d807"/>
<rect x="438.06" y="35.84" width="11.62" height="9.58" fill="#f5d807"/>
<rect x="449.38" y="35.84" width="11.62" height="9.58" fill="#f5d807"/>
<rect x="460.70" y="35.84" width="11.62" height="9.58" fill="#f4e106"/>
<rect x="472.02" y="35.84" width="11.62" height="9.58" fill="#f5d807"/>
<rect x="483.34" y="35.84" width="11.62" height="9.58" fill="#f5d807"/>
<rect x="494.66" y="35.84" width="11.62" height="9.58" fill="#f5d807"/>
<rect x="505.98" y="35.84" width="11.62" height="9.58" fill="#f5d807"/>
<rect x="517.30" y="35.84" width="11.62" height="9.58" fill="#f5d00a"/>
<rect x="528.62" y="35.84" width="11.62" height="9.58" fill="#f6c70d"/>
<rect x="539.94" y="35.84" width="11.62" height="9.58" fill="#f6c70d"/>
<rect x="551.26" y="35.84" width="11.62" height="9.58" fill="#f7bf11"/>
<rect x="562.58" y="35.84" width="11.62" height="9.58" fill="#f7b816"/>
<rect x="573.90" y="35.84" width="11.62" height="9.58" fill="#f8ae2a"/>
<rect x="585.22" y="35.84" width="11.62" height="9.58" fill="#f9ab37"/>
<rect x="596.54" y="35.84" width="11.62" height="9.58" fill="#f9a944"/>
<rect x="607.86" y="35.84" width="11.62" height="9.58" fill="#faa95e"/>
<rect x="619.18" y="35.84" width="11.62" height="9.58" fill="#fbad79"/>
<rect x="630.50" y="35.84" width="11.62" height="9.58" fill="#f8b291"/>
<rect x="641.82" y="35.84" width="11.62" height="9.58" fill="#f9c0ae"/>
<rect x="653.14" y="35.84" width="11.62" height="9.58" fill="#fad3cb"/>
<rect x="370.14" y="26.56" width="11.62" height="9.58" fill="#f9a944"/>
<rect x="381.46" y="26.56" width="11.62" height="9.58" fill="#f9ab37"/>
<rect x="392.78" y="26.56" width="11.62" height="9.58" fill="#f8ae2a"/>
<rect x="404.10" y="26.56" width="11.62" height="9.58" fill="#f8ae2a"/>
<rect x="415.42" y="26.56" width="11.62" height="9.58" fill="#f8b21d"/>
<rect x="426.74" y="26.56" width="11.62" height="9.58" fill="#f8b21d"/>
<rect x="438.06" y="26.56" width="11.62" height="9.58" fill="#f7b816"/>
<rect x="449.38" y="26.56" width="11.62" height="9.58" fill="#f7b816"/>
<rect x="460.70" y="26.56" width="11.62" height="9.58" fill="#f7b816"/>
<rect x="472.02" y="26.56" width="11.62" height="9.58" fill="#f7b816"/>
<rect x="483.34" y="26.56" width="11.62" height="9.58" fill="#f7b816"/>
<rect x="494.66" y="26.56" width="11.62" height="9.58" fill="#f8b21d"/>
<rect x="505.98" y="26.56" width="11.62" height="9.58" fill="#f8b21d"/>
<rect x="517.30" y="26.56" width="11.62" height="9.58" fill="#f8ae2a"/>
<rect x="528.62" y="26.56" width="11.62" height="9.58" fill="#f8ae2a"/>
<rect x="539.94" y="26.56" width="11.62" height="9.58" fill="#f9ab37"/>
<rect x="551.26" y="26.56" width="11.62" height="9.58" fill="#f9a944"/>
<rect x="562.58" y="26.56" width="11.62" height="9.58" fill="#faa951"/>
<rect x="573.90" y="26.56" width="11.62" height="9.58" fill="#faa95e"/>
<rect x="585.22" y="26.56" width="11.62" height="9.58" fill="#fbad79"/>
<rect x="596.54" y="26.56" width="11.62" height="9.58" fill="#f7ad83"/>
<rect x="607.86" y="26.56" width="11.62" height="9.58" fill="#f8b89f"/>
<rect x="619.18" y="26.56" width="11.62" height="9.58" fill="#f9c9bd"/>
<rect x="630.50" y="26.56" width="11.62" height="9.58" fill="#fad3cb"/>
<rect x="641.82" y="26.56" width="11.62" height="9.58" fill="#fbe7e5"/>
<rect x="653.14" y="26.56" width="11.62" height="9.58" fill="#fcfcfc"/>
</g>
<rect x="370.14" y="26.56" width="294.32" height="241.28" fill="none" stroke="#8a8a7a" stroke-width="0.8"/>
<g fill="none" stroke="#1c1c14" stroke-opacity="0.9" stroke-width="1.0" stroke-linejoin="round" stroke-linecap="round">
<polyline points="480.5,180.9 480.0,180.8 479.1,180.7 477.7,180.5 476.3,180.3 474.9,180.0 473.4,179.8 473.0,179.7 472.0,179.5 470.6,179.1 469.2,178.8 468.0,178.5 467.8,178.5 466.4,178.1 464.9,177.6 464.0,177.4 463.5,177.2 462.1,176.7 460.7,176.2 460.6,176.2 459.3,175.7 457.9,175.1 457.6,175.0 456.5,174.5 455.0,173.9 455.0,173.9 453.6,173.2 452.7,172.7 452.2,172.4 450.8,171.7 450.6,171.6 449.4,170.8 448.8,170.4 448.0,169.9 447.1,169.2 446.6,168.9 445.5,168.1 445.1,167.7 444.2,166.9 443.7,166.5 442.9,165.8 442.3,165.1 441.8,164.6 440.9,163.5 440.9,163.4 440.0,162.3 439.5,161.5 439.3,161.1 438.6,160.0 438.1,158.8 438.1,158.7 437.7,157.6 437.4,156.5 437.2,155.3 437.1,154.2 437.1,153.0 437.2,151.8 437.4,150.7 437.7,149.5 438.1,148.7 438.2,148.4 438.8,147.2 439.4,146.0 439.5,146.0 440.3,144.9 440.9,144.1 441.2,143.7 442.3,142.6 442.3,142.6 443.6,141.4 443.7,141.3 445.1,140.2 445.1,140.2 446.6,139.2 446.7,139.1 448.0,138.3 448.6,137.9 449.4,137.5 450.8,136.8 450.8,136.8 452.2,136.1 453.3,135.6 453.6,135.5 455.0,134.9 456.3,134.4 456.5,134.4 457.9,133.9 459.3,133.5 459.9,133.3 460.7,133.0 462.1,132.7 463.5,132.3 464.3,132.1 464.9,132.0 466.4,131.7 467.8,131.4 469.2,131.2 470.6,131.0 470.6,131.0 472.0,130.8 473.4,130.6 474.9,130.5 476.3,130.3 477.7,130.2 479.1,130.1 480.5,130.1 481.9,130.0 483.3,130.0 484.8,130.0 486.2,130.0 487.6,130.0 489.0,130.1 490.4,130.1 491.8,130.2 493.2,130.3 494.7,130.5 496.1,130.6 497.5,130.8 498.9,131.0 498.9,131.0 500.3,131.2 501.7,131.4 503.2,131.7 504.6,131.9 505.6,132.1 506.0,132.2 507.4,132.5 508.8,132.9 510.2,133.2 510.5,133.3 511.6,133.6 513.1,134.0 514.4,134.4 514.5,134.5 515.9,134.9 517.3,135.4 517.8,135.6 518.7,136.0 520.1,136.5 520.7,136.8 521.5,137.1 523.0,137.8 523.3,137.9 524.4,138.5 525.6,139.1 525.8,139.2 527.2,140.0 527.7,140.2 528.6,140.8 529.5,141.4 530.0,141.7 531.2,142.6 531.4,142.7 532.7,143.7 532.9,143.8 534.1,144.9 534.3,145.1 535.3,146.0 535.7,146.5 536.4,147.2 537.1,148.1 537.3,148.4 538.2,149.5 538.5,150.0 538.9,150.7 539.5,151.8 539.9,152.7 540.1,153.0 540.5,154.2 540.8,155.3 541.0,156.5 541.0,157.6 541.0,158.8 540.9,160.0 540.7,161.1 540.3,162.3 539.9,163.3 539.9,163.4 539.3,164.6 538.6,165.8 538.5,165.9 537.8,166.9 537.1,167.7 536.8,168.1 535.7,169.2 535.7,169.2 534.4,170.4 534.3,170.5 532.9,171.6 532.9,171.6 531.4,172.6 531.2,172.7 530.0,173.5 529.3,173.9 528.6,174.3 527.2,175.0 527.1,175.0 525.8,175.7 524.6,176.2 524.4,176.3 523.0,176.8 521.6,177.4 521.5,177.4 520.1,177.8 518.7,178.3 517.9,178.5 517.3,178.7 515.9,179.1 514.5,179.4 513.3,179.7 513.1,179.7 511.6,180.0 510.2,180.3 508.8,180.5 507.4,180.8 506.8,180.8 506.0,180.9 504.6,181.1 503.2,181.3"/>
<polyline points="483.3,181.2 481.9,181.1 480.5,180.9"/>
<polyline points="375.8,133.0 376.4,132.1 377.2,131.0 377.3,131.0 378.2,129.8 378.6,129.3 379.1,128.6 380.0,127.6 380.2,127.5 381.3,126.3 381.5,126.1 382.5,125.2 382.9,124.8 383.7,124.0 384.3,123.5 385.0,122.8 385.7,122.3 386.4,121.7 387.1,121.1 387.9,120.5 388.5,120.1 389.5,119.4 389.9,119.0 391.1,118.2 391.4,118.1 392.8,117.1 392.9,117.0 394.2,116.2 394.8,115.9 395.6,115.4 396.8,114.7 397.0,114.6 398.4,113.8 398.9,113.6 399.9,113.0 401.1,112.4 401.3,112.3 402.7,111.6 403.5,111.2 404.1,111.0 405.5,110.3 406.1,110.1 406.9,109.7 408.3,109.1 408.8,108.9 409.8,108.5 411.2,108.0 411.7,107.8 412.6,107.4 414.0,106.9 414.9,106.6 415.4,106.4 416.8,105.9 418.2,105.5 418.3,105.4 419.7,105.0 421.1,104.6 422.0,104.3 422.5,104.1 423.9,103.7 425.3,103.4 426.2,103.1 426.7,103.0 428.2,102.6 429.6,102.3 430.8,102.0 431.0,101.9 432.4,101.6 433.8,101.3 435.2,101.0 436.1,100.8 436.6,100.7 438.1,100.4 439.5,100.1 440.9,99.9 442.3,99.6 442.3,99.6 443.7,99.4 445.1,99.2 446.6,99.0 448.0,98.8 449.4,98.6 450.1,98.5 450.8,98.4 452.2,98.2 453.6,98.1 455.0,97.9 456.5,97.8 457.9,97.6 459.3,97.5 460.7,97.4 461.5,97.3 462.1,97.3 463.5,97.2 464.9,97.1 466.4,97.0 467.8,96.9 469.2,96.9 470.6,96.8"/>
<polyline points="491.8,97.0 493.2,97.1 494.7,97.2 496.1,97.3 496.3,97.3 497.5,97.4 498.9,97.5 500.3,97.6 501.7,97.8 503.2,97.9 504.6,98.1 506.0,98.2 507.4,98.4 508.1,98.5 508.8,98.6 510.2,98.7 511.6,98.9 513.1,99.1 514.5,99.3 515.9,99.6 516.4,99.6 517.3,99.8 518.7,100.0 520.1,100.3 521.5,100.5 523.0,100.8 523.0,100.8 524.4,101.1 525.8,101.4 527.2,101.6 528.6,101.9 528.7,102.0 530.0,102.3 531.4,102.6 532.9,102.9 533.7,103.1 534.3,103.3 535.7,103.6 537.1,104.0 538.2,104.3 538.5,104.4 539.9,104.7 541.4,105.1 542.4,105.4 542.8,105.6 544.2,106.0 545.6,106.4 546.2,106.6 547.0,106.9 548.4,107.3 549.8,107.8 549.8,107.8 551.3,108.3 552.7,108.8 553.1,108.9 554.1,109.3 555.5,109.8 556.2,110.1 556.9,110.3 558.3,110.9 559.2,111.2 559.8,111.5 561.2,112.1 562.0,112.4 562.6,112.7 564.0,113.3 564.6,113.6 565.4,113.9 566.8,114.6 567.1,114.7 568.2,115.3 569.5,115.9 569.7,115.9 571.1,116.7 571.8,117.0 572.5,117.4 573.9,118.2 574.0,118.2 575.3,119.0 576.0,119.4 576.7,119.8 578.0,120.5 578.1,120.6 579.6,121.5 579.9,121.7 581.0,122.4 581.7,122.8 582.4,123.3 583.4,124.0 583.8,124.3 585.1,125.2 585.2,125.3 586.6,126.3 586.6,126.3 588.1,127.4 588.1,127.5 589.5,128.6 589.6,128.6 590.9,129.7 590.9,129.8 592.3,131.0 592.3,131.0 593.5,132.1 593.7,132.3 594.7,133.3 595.1,133.7 595.8,134.4 596.5,135.2 596.9,135.6 597.9,136.8 598.0,136.8 598.9,137.9 599.4,138.5 599.8,139.1 600.7,140.2 600.8,140.4 601.5,141.4 602.2,142.5 602.2,142.6 602.9,143.7 603.6,144.9 603.6,144.9 604.2,146.0 604.8,147.2 605.0,147.8 605.3,148.4 605.8,149.5 606.2,150.7 606.4,151.4 606.6,151.8 606.9,153.0 607.2,154.2 607.4,155.3 607.6,156.5 607.8,157.6 607.9,158.2 607.9,158.8 608.0,160.0 608.0,161.1 608.0,162.3 607.9,163.4 607.9,163.6 607.8,164.6 607.6,165.8 607.4,166.9 607.1,168.1 606.8,169.2 606.4,170.3 606.4,170.4 606.0,171.6 605.5,172.7 605.0,173.9 605.0,173.9 604.5,175.0 603.8,176.2 603.6,176.6 603.2,177.4 602.4,178.5 602.2,178.9 601.6,179.7 600.8,180.8 600.8,180.8 599.9,182.0 599.4,182.6 598.9,183.2 598.0,184.2 597.9,184.3 596.7,185.5 596.5,185.7 595.6,186.6 595.1,187.1 594.3,187.8 593.7,188.3 593.0,189.0 592.3,189.5 591.6,190.1 590.9,190.7 590.1,191.3 589.5,191.7 588.5,192.4 588.0,192.8 586.8,193.6 586.6,193.7 585.2,194.7 585.1,194.8 583.8,195.5 583.2,195.9 582.4,196.4 581.2,197.1 581.0,197.2 579.6,198.0 579.1,198.2 578.1,198.7 576.8,199.4 576.7,199.4 575.3,200.1 574.4,200.6 573.9,200.8 572.5,201.4 571.8,201.7 571.1,202.1 569.7,202.7 569.1,202.9 568.2,203.2 566.8,203.8 566.2,204.0 565.4,204.3 564.0,204.8 563.0,205.2 562.6,205.3 561.2,205.8 559.8,206.3 559.5,206.4 558.3,206.7 556.9,207.2 555.7,207.5 555.5,207.6 554.1,208.0 552.7,208.4 551.6,208.7 551.3,208.8 549.8,209.1 548.4,209.5 547.0,209.8 546.9,209.8 545.6,210.1 544.2,210.4 542.8,210.7 541.5,211.0 541.4,211.0 539.9,211.3 538.5,211.6 537.1,211.8 535.7,212.1 535.2,212.2 534.3,212.3 532.9,212.5 531.4,212.7 530.0,212.9 528.6,213.1 527.2,213.3 527.2,213.3 525.8,213.5 524.4,213.7 523.0,213.8 521.5,213.9 520.1,214.1 518.7,214.2 517.3,214.3 515.9,214.4 515.2,214.5 514.5,214.5 513.1,214.6 511.6,214.7 510.2,214.8 508.8,214.8 507.4,214.9 506.0,214.9 504.6,215.0 503.2,215.0 501.7,215.0 500.3,215.0 498.9,215.0 497.5,215.0 496.1,215.0 494.7,215.0 493.2,214.9 491.8,214.9 490.4,214.9 489.0,214.8 487.6,214.7 486.2,214.7 484.8,214.6 483.3,214.5 483.2,214.5 481.9,214.4 480.5,214.3 479.1,214.2 477.7,214.0 476.3,213.9 474.9,213.8 473.4,213.6 472.0,213.5 470.8,213.3 470.6,213.3 469.2,213.1 467.8,212.9 466.4,212.7 464.9,212.5 463.5,212.3 462.4,212.2 462.1,212.1 460.7,211.9 459.3,211.6 457.9,211.4 456.5,211.1 455.7,211.0 455.0,210.9 453.6,210.6 452.2,210.3 450.8,210.0 449.9,209.8 449.4,209.7 448.0,209.4 446.6,209.1 445.1,208.8 444.8,208.7 443.7,208.4 442.3,208.0 440.9,207.7 440.3,207.5 439.5,207.3 438.1,206.9 436.6,206.5 436.1,206.4 435.2,206.1 433.8,205.7 432.4,205.3 432.2,205.2 431.0,204.8 429.6,204.3 428.6,204.0 428.2,203.9 426.7,203.4 425.3,202.9 425.3,202.9 423.9,202.4 422.5,201.8 422.2,201.7 421.1,201.3 419.7,200.8 419.2,200.6 418.2,200.2 416.8,199.6 416.4,199.4 415.4,199.0 414.0,198.4 413.7,198.2 412.6,197.7 411.2,197.1 411.2,197.1 409.8,196.4 408.8,195.9 408.3,195.7 406.9,195.0 406.5,194.8 405.5,194.2 404.4,193.6 404.1,193.5 402.7,192.7 402.3,192.4 401.3,191.9 400.3,191.3 399.9,191.0 398.4,190.1 398.4,190.1 397.0,189.2 396.6,189.0 395.6,188.3 394.9,187.8 394.2,187.3 393.2,186.6 392.8,186.3 391.6,185.5 391.4,185.3 390.1,184.3 389.9,184.2 388.7,183.2 388.5,183.0 387.3,182.0 387.1,181.8 386.0,180.8 385.7,180.6 384.7,179.7 384.3,179.2 383.5,178.5 382.9,177.8 382.4,177.4 381.5,176.3 381.3,176.2 380.3,175.0 380.0,174.7 379.3,173.9 378.6,173.0 378.4,172.7 377.6,171.6 377.2,171.1 376.7,170.4 376.0,169.2 375.8,169.0"/>
<polyline points="375.8,95.0 375.8,95.0 377.2,94.4 378.5,93.8 378.6,93.8 380.0,93.2 381.2,92.7 381.5,92.6 382.9,92.0 384.1,91.5 384.3,91.5 385.7,90.9 387.1,90.4 387.2,90.4 388.5,89.9 389.9,89.4 390.5,89.2 391.4,88.9 392.8,88.4 393.9,88.0 394.2,88.0 395.6,87.5 397.0,87.1 397.6,86.9 398.4,86.6 399.9,86.2 401.3,85.8 401.6,85.7 402.7,85.4 404.1,85.0 405.5,84.7 405.9,84.6 406.9,84.3 408.3,83.9 409.8,83.6 410.6,83.4 411.2,83.3 412.6,82.9 414.0,82.6 415.4,82.3 415.8,82.2 416.8,82.0 418.2,81.7 419.7,81.4 421.1,81.2 421.6,81.1 422.5,80.9 423.9,80.7 425.3,80.4 426.7,80.2 428.2,79.9 428.2,79.9 429.6,79.7 431.0,79.5 432.4,79.3 433.8,79.1 435.2,78.9 436.2,78.8 436.6,78.7 438.1,78.5 439.5,78.3 440.9,78.2 442.3,78.0 443.7,77.9 445.1,77.7 446.5,77.6 446.6,77.6 448.0,77.5 449.4,77.3 450.8,77.2 452.2,77.1 453.6,77.0 455.0,76.9 456.5,76.8 457.9,76.8 459.3,76.7 460.7,76.6 462.1,76.5 463.5,76.5 464.8,76.4 464.9,76.4 466.4,76.4 467.8,76.4 469.2,76.3 470.6,76.3 472.0,76.3 473.4,76.3 474.9,76.3 476.3,76.3 477.7,76.3 479.1,76.3 480.5,76.3 481.9,76.3 483.3,76.4 484.8,76.4 485.8,76.4 486.2,76.5 487.6,76.5 489.0,76.6 490.4,76.6 491.8,76.7 493.2,76.8 494.7,76.9 496.1,76.9 497.5,77.0 498.9,77.1 500.3,77.2 501.7,77.4 503.2,77.5 504.6,77.6 504.6,77.6 506.0,77.7 507.4,77.9 508.8,78.0 510.2,78.2 511.6,78.3 513.1,78.5 514.5,78.7 515.3,78.8 515.9,78.8 517.3,79.0 518.7,79.2 520.1,79.4 521.5,79.6 523.0,79.8 523.6,79.9 524.4,80.0 525.8,80.3 527.2,80.5 528.6,80.7 530.0,81.0 530.7,81.1 531.4,81.2 532.9,81.5 534.3,81.7 535.7,82.0 536.9,82.2 537.1,82.3 538.5,82.6 539.9,82.9 541.4,83.2 542.5,83.4 542.8,83.5 544.2,83.8 545.6,84.1 547.0,84.4 547.6,84.6 548.4,84.8 549.8,85.1 551.3,85.5 552.3,85.7 552.7,85.8 554.1,86.2 555.5,86.6 556.6,86.9 556.9,87.0 558.3,87.4 559.7,87.8 560.7,88.0 561.2,88.2 562.6,88.6 564.0,89.0 564.6,89.2 565.4,89.4 566.8,89.9 568.2,90.3 568.3,90.4 569.7,90.8 571.1,91.3 571.7,91.5 572.5,91.8 573.9,92.3 575.1,92.7 575.3,92.8 576.7,93.3 578.1,93.8 578.2,93.8 579.6,94.4 581.0,94.9 581.2,95.0 582.4,95.5 583.8,96.0 584.1,96.2 585.2,96.6 586.6,97.2 586.9,97.3 588.0,97.8 589.5,98.4 589.6,98.5 590.9,99.1 592.1,99.6 592.3,99.7 593.7,100.4 594.6,100.8 595.1,101.0 596.5,101.7 597.0,102.0 598.0,102.4 599.3,103.1 599.4,103.2 600.8,103.9 601.5,104.3 602.2,104.7 603.6,105.4 603.7,105.4 605.0,106.2 605.7,106.6 606.4,107.0 607.7,107.8 607.9,107.8 609.3,108.7 609.6,108.9 610.7,109.6 611.5,110.1 612.1,110.5 613.3,111.2 613.5,111.4 614.9,112.3 615.1,112.4 616.4,113.3 616.7,113.6 617.8,114.3 618.4,114.7 619.2,115.3 619.9,115.9 620.6,116.4 621.5,117.0 622.0,117.5 622.9,118.2 623.4,118.6 624.4,119.4 624.8,119.8 625.7,120.5 626.3,121.0 627.1,121.7 627.7,122.2 628.4,122.8 629.1,123.5 629.6,124.0 630.5,124.9 630.8,125.2 631.9,126.3 631.9,126.3 633.0,127.5 633.3,127.8 634.1,128.6 634.7,129.4 635.1,129.8 636.1,131.0 636.2,131.0 637.1,132.1 637.6,132.8 638.0,133.3 638.8,134.4 639.0,134.6 639.7,135.6 640.4,136.7 640.5,136.8 641.2,137.9 641.8,138.9 641.9,139.1 642.6,140.2 643.2,141.3 643.3,141.4 643.9,142.6 644.5,143.7 644.7,144.1 645.0,144.9 645.5,146.0 646.0,147.2 646.1,147.4 646.4,148.4 646.8,149.5 647.2,150.7 647.5,151.7 647.5,151.8 647.8,153.0 648.1,154.2 648.3,155.3 648.5,156.5 648.7,157.6 648.8,158.8 648.9,159.7 648.9,160.0 649.0,161.1 649.0,162.3 649.0,163.4 649.0,164.6 648.9,165.7 648.9,165.8 648.8,166.9 648.6,168.1 648.5,169.2 648.2,170.4 648.0,171.6 647.7,172.7 647.5,173.6 647.4,173.9 647.0,175.0 646.6,176.2 646.2,177.4 646.1,177.7 645.7,178.5 645.2,179.7 644.7,180.8 644.7,180.9 644.1,182.0 643.5,183.2 643.2,183.6 642.8,184.3 642.1,185.5 641.8,185.9 641.3,186.6 640.5,187.8 640.4,188.0 639.7,189.0 639.0,189.9 638.8,190.1 637.9,191.3 637.6,191.6 636.9,192.4 636.2,193.3 635.9,193.6 634.8,194.8 634.7,194.8 633.7,195.9 633.3,196.3 632.5,197.1 631.9,197.6 631.3,198.2 630.5,198.9 630.0,199.4 629.1,200.2 628.6,200.6 627.7,201.4 627.2,201.7 626.3,202.5 625.7,202.9 624.8,203.6 624.2,204.0 623.4,204.6 622.6,205.2 622.0,205.6 620.9,206.4 620.6,206.6 619.2,207.5 619.2,207.5 617.8,208.4 617.4,208.7 616.4,209.3 615.5,209.8 614.9,210.2 613.5,211.0 613.5,211.0 612.1,211.8 611.4,212.2 610.7,212.5 609.3,213.3 609.2,213.3 607.9,214.0 607.0,214.5 606.4,214.7 605.0,215.4 604.6,215.6 603.6,216.1 602.2,216.7 602.1,216.8 600.8,217.4 599.4,218.0 599.4,218.0 598.0,218.6 596.7,219.1 596.5,219.2 595.1,219.7 593.7,220.3 593.7,220.3 592.3,220.8 590.9,221.4 590.7,221.4 589.5,221.9 588.0,222.4 587.4,222.6 586.6,222.9 585.2,223.3 583.9,223.8 583.8,223.8 582.4,224.2 581.0,224.7 580.2,224.9 579.6,225.1 578.1,225.5 576.7,225.9 576.2,226.1 575.3,226.3 573.9,226.7 572.5,227.1 571.8,227.2 571.1,227.4 569.7,227.8 568.2,228.1 567.1,228.4 566.8,228.5 565.4,228.8 564.0,229.1 562.6,229.4 561.9,229.6 561.2,229.7 559.8,230.0 558.3,230.3 556.9,230.6 556.0,230.7 555.5,230.8 554.1,231.1 552.7,231.3 551.3,231.6 549.8,231.8 549.3,231.9 548.4,232.0 547.0,232.2 545.6,232.4 544.2,232.6 542.8,232.8 541.4,233.0 541.2,233.0 539.9,233.2 538.5,233.4 537.1,233.5 535.7,233.7 534.3,233.8 532.9,234.0 531.4,234.1 530.6,234.2 530.0,234.2 528.6,234.4 527.2,234.5 525.8,234.6 524.4,234.7 523.0,234.8 521.5,234.9 520.1,235.0 518.7,235.0 517.3,235.1 515.9,235.2 514.5,235.2 513.1,235.3 511.6,235.3 510.2,235.3 509.6,235.4 508.8,235.4 507.4,235.4"/>
<polyline points="486.2,235.0 484.8,234.9 483.3,234.8 481.9,234.8 480.5,234.7 479.1,234.6 477.7,234.4 476.3,234.3 474.9,234.2 474.7,234.2 473.4,234.1 472.0,234.0 470.6,233.8 469.2,233.7 467.8,233.5 466.4,233.4 464.9,233.2 463.6,233.0 463.5,233.0 462.1,232.8 460.7,232.7 459.3,232.5 457.9,232.3 456.5,232.1 455.1,231.9 455.0,231.9 453.6,231.6 452.2,231.4 450.8,231.2 449.4,231.0 448.0,230.7 448.0,230.7 446.6,230.5 445.1,230.2 443.7,229.9 442.3,229.7 441.7,229.6 440.9,229.4 439.5,229.1 438.1,228.8 436.6,228.5 436.1,228.4 435.2,228.2 433.8,227.9 432.4,227.6 431.0,227.2 431.0,227.2 429.6,226.9 428.2,226.6 426.7,226.2 426.3,226.1 425.3,225.8 423.9,225.5 422.5,225.1 421.9,224.9 421.1,224.7 419.7,224.3 418.2,223.9 417.7,223.8 416.8,223.5 415.4,223.1 414.0,222.7 413.8,222.6 412.6,222.2 411.2,221.8 410.2,221.4 409.8,221.3 408.3,220.8 406.9,220.4 406.7,220.3 405.5,219.9 404.1,219.4 403.3,219.1 402.7,218.9 401.3,218.4 400.2,218.0 399.9,217.8 398.4,217.3 397.1,216.8 397.0,216.8 395.6,216.2 394.2,215.6 394.2,215.6 392.8,215.0 391.4,214.5 391.4,214.4 389.9,213.8 388.8,213.3 388.5,213.2 387.1,212.6 386.2,212.2 385.7,211.9 384.3,211.3 383.7,211.0 382.9,210.6 381.5,209.9 381.3,209.8 380.0,209.2 379.0,208.7 378.6,208.5 377.2,207.7 376.8,207.5 375.8,207.0"/>
<polyline points="658.8,208.0 658.1,208.7 657.4,209.3 656.7,209.8 656.0,210.5 655.3,211.0 654.6,211.6 653.8,212.2 653.1,212.7 652.3,213.3 651.7,213.8 650.8,214.5 650.3,214.8 649.1,215.6 648.9,215.8 647.5,216.8 647.4,216.8 646.1,217.7 645.7,218.0 644.7,218.6 643.9,219.1 643.2,219.5 642.0,220.3 641.8,220.4 640.4,221.2 640.1,221.4 639.0,222.1 638.0,222.6 637.6,222.9 636.2,223.6 635.9,223.8 634.7,224.4 633.8,224.9 633.3,225.1 631.9,225.9 631.5,226.1 630.5,226.6 629.1,227.2 629.1,227.3 627.7,227.9 626.7,228.4 626.3,228.6 624.8,229.2 624.1,229.6 623.4,229.9 622.0,230.5 621.5,230.7 620.6,231.1 619.2,231.7 618.7,231.9 617.8,232.3 616.4,232.8 615.8,233.0 614.9,233.4 613.5,233.9 612.8,234.2 612.1,234.4 610.7,235.0 609.6,235.4 609.3,235.5 607.9,236.0 606.4,236.5 606.2,236.5 605.0,236.9 603.6,237.4 602.7,237.7 602.2,237.8 600.8,238.3 599.4,238.7 599.0,238.8 598.0,239.1 596.5,239.6 595.1,240.0 595.0,240.0 593.7,240.4 592.3,240.8 590.9,241.1 590.8,241.2 589.5,241.5 588.0,241.9 586.6,242.2 586.3,242.3 585.2,242.6 583.8,242.9 582.4,243.3 581.4,243.5 581.0,243.6 579.6,243.9 578.1,244.2 576.7,244.5 576.1,244.6 575.3,244.8 573.9,245.1 572.5,245.4 571.1,245.6 570.3,245.8 569.7,245.9 568.2,246.2 566.8,246.4 565.4,246.7 564.0,246.9 563.7,247.0 562.6,247.1 561.2,247.4 559.8,247.6 558.3,247.8 556.9,248.0 556.1,248.1 555.5,248.2 554.1,248.4 552.7,248.6 551.3,248.8 549.8,248.9 548.4,249.1 547.1,249.3 547.0,249.3 545.6,249.4 544.2,249.6 542.8,249.7 541.4,249.9 539.9,250.0 538.5,250.1 537.1,250.3 535.7,250.4 535.0,250.4 534.3,250.5 532.9,250.6 531.4,250.7 530.0,250.8 528.6,250.9 527.2,251.0 525.8,251.0 524.4,251.1 523.0,251.2 521.5,251.3 520.1,251.3 518.7,251.4 517.3,251.4 515.9,251.4 514.5,251.5 513.1,251.5"/>
<polyline points="493.2,251.4 491.8,251.3 490.4,251.3 489.0,251.2 487.6,251.2 486.2,251.1 484.8,251.0 483.3,250.9 481.9,250.9 480.5,250.8 479.1,250.7 477.7,250.6 476.3,250.5 475.8,250.4 474.9,250.4 473.4,250.2 472.0,250.1 470.6,250.0 469.2,249.9 467.8,249.7 466.4,249.6 464.9,249.4 463.5,249.3 463.4,249.3 462.1,249.1 460.7,249.0 459.3,248.8 457.9,248.6 456.5,248.5 455.0,248.3 453.9,248.1 453.6,248.1 452.2,247.9 450.8,247.7 449.4,247.5 448.0,247.3 446.6,247.1 446.0,247.0 445.1,246.8 443.7,246.6 442.3,246.4 440.9,246.1 439.5,245.9 439.0,245.8 438.1,245.6 436.6,245.4 435.2,245.1 433.8,244.8 432.7,244.6 432.4,244.6 431.0,244.3 429.6,244.0 428.2,243.7 427.0,243.5 426.7,243.4 425.3,243.1 423.9,242.8 422.5,242.5 421.7,242.3 421.1,242.2 419.7,241.8 418.2,241.5 416.8,241.2 416.8,241.2 415.4,240.8 414.0,240.5 412.6,240.1 412.2,240.0 411.2,239.7 409.8,239.4 408.3,239.0 407.8,238.8 406.9,238.6 405.5,238.2 404.1,237.8 403.7,237.7 402.7,237.4 401.3,237.0 399.9,236.5 399.8,236.5 398.4,236.1 397.0,235.7 396.0,235.4 395.6,235.2 394.2,234.8 392.8,234.3 392.5,234.2 391.4,233.8 389.9,233.4 389.0,233.0 388.5,232.9 387.1,232.4 385.7,231.9 385.7,231.9 384.3,231.4 382.9,230.8 382.5,230.7 381.5,230.3 380.0,229.8 379.5,229.6 378.6,229.2 377.2,228.7 376.5,228.4 375.8,228.1"/>
<polyline points="375.8,73.9 377.2,73.5 378.6,73.0 378.8,73.0 380.0,72.6 381.5,72.2 382.7,71.8 382.9,71.8 384.3,71.4 385.7,71.0 386.9,70.6 387.1,70.6 388.5,70.2 389.9,69.9 391.4,69.5 391.4,69.5 392.8,69.1 394.2,68.8 395.6,68.5 396.3,68.3 397.0,68.1 398.4,67.8 399.9,67.5 401.3,67.2 401.5,67.2 402.7,66.9 404.1,66.6 405.5,66.4 406.9,66.1 407.3,66.0 408.3,65.8 409.8,65.6 411.2,65.3 412.6,65.1 413.8,64.8 414.0,64.8 415.4,64.6 416.8,64.4 418.2,64.1 419.7,63.9 421.1,63.7 421.3,63.7 422.5,63.5 423.9,63.3 425.3,63.1 426.7,62.9 428.2,62.8 429.6,62.6 430.2,62.5 431.0,62.4 432.4,62.3 433.8,62.1 435.2,62.0 436.6,61.8 438.1,61.7 439.5,61.6 440.9,61.4 441.9,61.4 442.3,61.3 443.7,61.2 445.1,61.1 446.6,61.0 448.0,60.9 449.4,60.8 450.8,60.7 452.2,60.7 453.6,60.6 455.0,60.5 456.5,60.5 457.9,60.4 459.3,60.3 460.7,60.3 462.1,60.3 463.5,60.2 464.4,60.2"/>
<polyline points="484.8,60.3 486.2,60.4 487.6,60.4 489.0,60.5 490.4,60.5 491.8,60.6 493.2,60.7 494.7,60.8 496.1,60.8 497.5,60.9 498.9,61.0 500.3,61.1 501.7,61.2 503.2,61.3 503.6,61.4 504.6,61.4 506.0,61.6 507.4,61.7 508.8,61.8 510.2,62.0 511.6,62.1 513.1,62.2 514.5,62.4 515.6,62.5 515.9,62.5 517.3,62.7 518.7,62.9 520.1,63.1 521.5,63.2 523.0,63.4 524.4,63.6 525.0,63.7 525.8,63.8 527.2,64.0 528.6,64.2 530.0,64.4 531.4,64.6 532.8,64.8 532.9,64.8 534.3,65.1 535.7,65.3 537.1,65.5 538.5,65.8 539.7,66.0 539.9,66.0 541.4,66.3 542.8,66.6 544.2,66.8 545.6,67.1 545.9,67.2 547.0,67.4 548.4,67.7 549.8,68.0 551.3,68.3 551.6,68.3 552.7,68.6 554.1,68.9 555.5,69.2 556.8,69.5 556.9,69.5 558.3,69.8 559.8,70.2 561.2,70.5 561.7,70.6 562.6,70.9 564.0,71.2 565.4,71.6 566.3,71.8 566.8,71.9 568.2,72.3 569.7,72.7 570.6,73.0 571.1,73.1 572.5,73.5 573.9,73.9 574.8,74.1 575.3,74.3 576.7,74.7 578.1,75.1 578.7,75.3 579.6,75.6 581.0,76.0 582.4,76.4 582.4,76.4 583.8,76.9 585.2,77.4 586.0,77.6 586.6,77.8 588.0,78.3 589.4,78.8 589.5,78.8 590.9,79.3 592.3,79.8 592.7,79.9 593.7,80.3 595.1,80.8 595.9,81.1 596.5,81.3 598.0,81.9 598.9,82.2 599.4,82.4 600.8,83.0 601.8,83.4 602.2,83.5 603.6,84.1 604.7,84.6 605.0,84.7 606.4,85.3 607.4,85.7 607.9,85.9 609.3,86.5 610.1,86.9 610.7,87.2 612.1,87.8 612.7,88.0 613.5,88.4 614.9,89.1 615.2,89.2 616.4,89.8 617.6,90.4 617.8,90.5 619.2,91.2 619.9,91.5 620.6,91.9 622.0,92.6 622.2,92.7 623.4,93.3 624.4,93.8 624.8,94.1 626.3,94.8 626.5,95.0 627.7,95.6 628.6,96.2 629.1,96.4 630.5,97.2 630.6,97.3 631.9,98.1 632.6,98.5 633.3,98.9 634.5,99.6 634.7,99.8 636.2,100.7 636.4,100.8 637.6,101.6 638.2,102.0 639.0,102.5 639.9,103.1 640.4,103.4 641.7,104.3 641.8,104.4 643.2,105.4 643.3,105.4 644.7,106.4 644.9,106.6 646.1,107.4 646.5,107.8 647.5,108.5 648.0,108.9 648.9,109.6 649.5,110.1 650.3,110.7 651.0,111.2 651.7,111.9 652.4,112.4 653.1,113.1 653.7,113.6 654.6,114.3 655.1,114.7 656.0,115.5 656.3,115.9 657.4,116.8 657.6,117.0 658.8,118.2"/>
<polyline points="464.1,263.2 463.5,263.1 462.1,263.0 460.7,262.9 459.3,262.7 457.9,262.5"/>
<polyline points="438.1,259.8 437.4,259.7 436.6,259.6 435.2,259.4 433.8,259.1 432.4,258.9 431.0,258.6 430.6,258.6 429.6,258.4 428.2,258.1 426.7,257.8 425.3,257.6 424.4,257.4 423.9,257.3 422.5,257.0 421.1,256.7 419.7,256.4 418.7,256.2 418.2,256.1 416.8,255.8 415.4,255.5 414.0,255.2 413.4,255.1 412.6,254.9 411.2,254.6 409.8,254.3 408.3,253.9 408.3,253.9 406.9,253.6 405.5,253.2 404.1,252.9 403.6,252.8 402.7,252.5 401.3,252.2 399.9,251.8 399.1,251.6 398.4,251.4 397.0,251.0 395.6,250.7 394.8,250.4 394.2,250.3 392.8,249.9 391.4,249.5 390.7,249.3 389.9,249.0 388.5,248.6 387.1,248.2 386.8,248.1 385.7,247.8 384.3,247.3 383.1,247.0 382.9,246.9 381.5,246.4 380.0,246.0 379.5,245.8 378.6,245.5 377.2,245.1 376.0,244.6 375.8,244.6"/>
<polyline points="658.8,232.6 658.0,233.0 657.4,233.4 656.0,234.2 655.9,234.2 654.6,234.9 653.7,235.4 653.1,235.6 651.7,236.3 651.4,236.5 650.3,237.0 649.0,237.7 648.9,237.7 647.5,238.4 646.6,238.8 646.1,239.1 644.7,239.7 644.0,240.0 643.2,240.3 641.8,241.0 641.4,241.2 640.4,241.6 639.0,242.2 638.6,242.3 637.6,242.8 636.2,243.3 635.8,243.5 634.7,243.9 633.3,244.5 632.9,244.6 631.9,245.0 630.5,245.5 629.8,245.8 629.1,246.1 627.7,246.6 626.6,247.0 626.3,247.1 624.8,247.6 623.4,248.0 623.2,248.1 622.0,248.5 620.6,249.0 619.7,249.3 619.2,249.4 617.8,249.9 616.3,250.3 616.0,250.4 614.9,250.8 613.5,251.2 612.1,251.6 612.1,251.6 610.7,252.0 609.3,252.4 608.0,252.8 607.9,252.8 606.4,253.2 605.0,253.6 603.7,253.9 603.6,253.9 602.2,254.3 600.8,254.7 599.4,255.0 599.1,255.1 598.0,255.4 596.5,255.7 595.1,256.0 594.2,256.2 593.7,256.3 592.3,256.7 590.9,257.0 589.5,257.3 588.8,257.4 588.0,257.6 586.6,257.9 585.2,258.1 583.8,258.4 583.0,258.6 582.4,258.7 581.0,258.9 579.6,259.2 578.1,259.5 576.7,259.7 576.6,259.7 575.3,259.9 573.9,260.2 572.5,260.4 571.1,260.6 569.7,260.9 569.5,260.9 568.2,261.1 566.8,261.3 565.4,261.5 564.0,261.7 562.6,261.9"/>
<polyline points="375.8,57.4 377.2,57.1 378.6,56.7 378.6,56.7 380.0,56.4 381.5,56.0 382.9,55.7 383.5,55.6 384.3,55.4 385.7,55.1 387.1,54.8 388.5,54.5 388.8,54.4 389.9,54.2 391.4,53.9 392.8,53.6 394.2,53.3 394.6,53.2 395.6,53.0 397.0,52.8 398.4,52.5 399.9,52.3 400.9,52.1 401.3,52.0 402.7,51.8 404.1,51.5 405.5,51.3 406.9,51.1 408.0,50.9 408.3,50.9 409.8,50.7 411.2,50.4 412.6,50.2 414.0,50.0 415.4,49.9 416.2,49.8 416.8,49.7 418.2,49.5 419.7,49.3 421.1,49.1 422.5,49.0 423.9,48.8 425.3,48.7 426.0,48.6 426.7,48.5 428.2,48.4 429.6,48.2 431.0,48.1 432.4,48.0 433.8,47.9 435.2,47.7 436.6,47.6 438.1,47.5"/>
<polyline points="457.9,46.5 459.3,46.5 460.7,46.4 462.1,46.4 463.5,46.4 464.9,46.3 466.4,46.3 467.8,46.3 469.2,46.3 470.6,46.3 472.0,46.3 473.4,46.3 474.9,46.3 476.3,46.4 477.7,46.4 479.1,46.4 480.5,46.4 481.9,46.5 483.3,46.5 484.8,46.6 486.2,46.6 487.6,46.7 489.0,46.7 490.4,46.8 491.8,46.9 493.2,46.9 494.7,47.0 496.1,47.1 497.5,47.2 498.9,47.3 500.3,47.3 501.6,47.4 501.7,47.4 503.2,47.5 504.6,47.7 506.0,47.8 507.4,47.9 508.8,48.0 510.2,48.1 511.6,48.3 513.1,48.4 514.5,48.5 515.1,48.6 515.9,48.7 517.3,48.8 518.7,49.0 520.1,49.1 521.5,49.3 523.0,49.5 524.4,49.6 525.3,49.8 525.8,49.8 527.2,50.0 528.6,50.2 530.0,50.4 531.4,50.6 532.9,50.8 533.8,50.9 534.3,51.0 535.7,51.2 537.1,51.4 538.5,51.6 539.9,51.9 541.3,52.1 541.4,52.1 542.8,52.3 544.2,52.6 545.6,52.8 547.0,53.1 548.1,53.2 548.4,53.3 549.8,53.6 551.3,53.8 552.7,54.1 554.1,54.4 554.2,54.4 555.5,54.7 556.9,54.9 558.3,55.2 559.8,55.5 559.9,55.6 561.2,55.8 562.6,56.1 564.0,56.4 565.2,56.7 565.4,56.8 566.8,57.1 568.2,57.4 569.7,57.7 570.2,57.9 571.1,58.1 572.5,58.4 573.9,58.8 574.9,59.0 575.3,59.1 576.7,59.5 578.1,59.9 579.4,60.2 579.6,60.2 581.0,60.6 582.4,61.0 583.7,61.4 583.8,61.4 585.2,61.8 586.6,62.2 587.7,62.5 588.0,62.6 589.5,63.0 590.9,63.5 591.6,63.7 592.3,63.9 593.7,64.3 595.1,64.8 595.4,64.8 596.5,65.2 598.0,65.7 599.0,66.0 599.4,66.1 600.8,66.6 602.2,67.1 602.4,67.2 603.6,67.6 605.0,68.1 605.8,68.3 606.4,68.6 607.9,69.1 609.0,69.5 609.3,69.6 610.7,70.1 612.1,70.6 612.1,70.6 613.5,71.2 614.9,71.7 615.2,71.8 616.4,72.3 617.8,72.8 618.1,73.0 619.2,73.4 620.6,74.0 620.9,74.1 622.0,74.6 623.4,75.2 623.7,75.3 624.8,75.8 626.3,76.4 626.4,76.4 627.7,77.0 629.0,77.6 629.1,77.6 630.5,78.3 631.5,78.8 631.9,78.9 633.3,79.6 634.0,79.9 634.7,80.3 636.2,81.0 636.4,81.1 637.6,81.7 638.7,82.2 639.0,82.4 640.4,83.1 641.0,83.4 641.8,83.8 643.2,84.6 643.2,84.6 644.7,85.3 645.4,85.7 646.1,86.1 647.5,86.9 647.5,86.9 648.9,87.7 649.6,88.0 650.3,88.5 651.6,89.2 651.7,89.3 653.1,90.1 653.5,90.4 654.6,91.0 655.5,91.5 656.0,91.8 657.3,92.7 657.4,92.7 658.8,93.6"/>
<polyline points="392.5,263.2 391.4,262.9 389.9,262.5 388.5,262.2 388.1,262.0 387.1,261.8 385.7,261.4 384.3,261.0 383.8,260.9 382.9,260.6 381.5,260.2 380.0,259.8 379.7,259.7 378.6,259.4 377.2,259.0 375.8,258.6 375.8,258.6"/>
<polyline points="658.8,250.5 657.4,251.1 656.3,251.6 656.0,251.7 654.6,252.3 653.5,252.8 653.1,252.9 651.7,253.5 650.6,253.9 650.3,254.0 648.9,254.6 647.6,255.1 647.5,255.1 646.1,255.6 644.7,256.2 644.5,256.2"/>
<polyline points="375.8,43.4 377.2,43.1 378.6,42.8 378.9,42.8 380.0,42.6 381.5,42.3 382.9,42.0 384.3,41.7 384.7,41.6 385.7,41.4 387.1,41.2 388.5,40.9 389.9,40.7 391.1,40.5 391.4,40.4 392.8,40.2 394.2,39.9 395.6,39.7 397.0,39.5 398.1,39.3 398.4,39.3 399.9,39.1 401.3,38.8 402.7,38.6 404.1,38.4 405.5,38.2 406.1,38.2 406.9,38.0 408.3,37.9 409.8,37.7 411.2,37.5 412.6,37.3 414.0,37.2 415.4,37.0 415.4,37.0 416.8,36.8 418.2,36.7 419.7,36.5 421.1,36.4 422.5,36.2 423.9,36.1 425.3,36.0 426.7,35.9 426.9,35.8 428.2,35.7 429.6,35.6 431.0,35.5 432.4,35.4 433.8,35.3 435.2,35.2 436.6,35.1 438.1,35.0 439.5,34.9 440.9,34.8 442.3,34.8 443.7,34.7 443.8,34.7 445.1,34.6 446.6,34.5 448.0,34.5 449.4,34.4 450.8,34.4 452.2,34.3 453.6,34.3 455.0,34.2 456.5,34.2"/>
<polyline points="480.5,34.2 481.9,34.3 483.3,34.3 484.8,34.4 486.2,34.4 487.6,34.5 489.0,34.5 490.4,34.6 491.8,34.7 492.4,34.7 493.2,34.7 494.7,34.8 496.1,34.9 497.5,35.0 498.9,35.0 500.3,35.1 501.7,35.2 503.2,35.3 504.6,35.4 506.0,35.5 507.4,35.7 508.8,35.8 509.7,35.8 510.2,35.9 511.6,36.0 513.1,36.1 514.5,36.3 515.9,36.4 517.3,36.5 518.7,36.7 520.1,36.8 521.5,37.0 521.7,37.0 523.0,37.1 524.4,37.3 525.8,37.5 527.2,37.6 528.6,37.8 530.0,38.0 531.4,38.2 531.4,38.2 532.9,38.4 534.3,38.6 535.7,38.7 537.1,38.9 538.5,39.1 539.7,39.3 539.9,39.4 541.4,39.6 542.8,39.8 544.2,40.0 545.6,40.2 547.0,40.5 547.2,40.5 548.4,40.7 549.8,40.9 551.3,41.2 552.7,41.4 553.9,41.6 554.1,41.7 555.5,41.9 556.9,42.2 558.3,42.5 559.8,42.7 560.2,42.8 561.2,43.0 562.6,43.3 564.0,43.6 565.4,43.8 566.0,44.0 566.8,44.1 568.2,44.4 569.7,44.7 571.1,45.0 571.4,45.1 572.5,45.4 573.9,45.7 575.3,46.0 576.5,46.3 576.7,46.3 578.1,46.7 579.6,47.0 581.0,47.3 581.4,47.4 582.4,47.7 583.8,48.0 585.2,48.4 586.0,48.6 586.6,48.8 588.0,49.1 589.5,49.5 590.4,49.8 590.9,49.9 592.3,50.3 593.7,50.7 594.7,50.9 595.1,51.0 596.5,51.5 598.0,51.9 598.7,52.1 599.4,52.3 600.8,52.7 602.2,53.1 602.6,53.2 603.6,53.5 605.0,54.0 606.4,54.4 606.4,54.4 607.9,54.9 609.3,55.3 610.0,55.6 610.7,55.8 612.1,56.2 613.5,56.7 613.5,56.7 614.9,57.2 616.3,57.7 616.9,57.9 617.8,58.2 619.2,58.7 620.2,59.0 620.6,59.2 622.0,59.7 623.4,60.2 623.4,60.2 624.8,60.7 626.3,61.3 626.5,61.4 627.7,61.8 629.1,62.3 629.6,62.5 630.5,62.9 631.9,63.5 632.5,63.7 633.3,64.0 634.7,64.6 635.3,64.8 636.2,65.2 637.6,65.8 638.1,66.0 639.0,66.4 640.4,67.0 640.8,67.2 641.8,67.6 643.2,68.2 643.5,68.3 644.7,68.9 646.0,69.5 646.1,69.5 647.5,70.2 648.5,70.6 648.9,70.8 650.3,71.5 651.0,71.8 651.7,72.2 653.1,72.9 653.4,73.0 654.6,73.6 655.7,74.1 656.0,74.3 657.4,75.0 658.0,75.3 658.8,75.7"/>
<polyline points="559.8,31.2 561.2,31.4 562.6,31.7 564.0,32.0 565.4,32.2 566.0,32.4 566.8,32.5"/>
<polyline points="590.9,37.8 592.3,38.2 592.3,38.2 593.7,38.5 595.1,38.9 596.5,39.2 596.8,39.3 598.0,39.6 599.4,40.0 600.8,40.4 601.2,40.5 602.2,40.8 603.6,41.1 605.0,41.5 605.4,41.6 606.4,41.9 607.9,42.3 609.3,42.8 609.4,42.8 610.7,43.2 612.1,43.6 613.3,44.0 613.5,44.0 614.9,44.5 616.4,44.9 617.1,45.1 617.8,45.3 619.2,45.8 620.6,46.2 620.7,46.3 622.0,46.7 623.4,47.2 624.2,47.4 624.8,47.6 626.3,48.1 627.7,48.6 627.7,48.6 629.1,49.1 630.5,49.6 631.0,49.8 631.9,50.1 633.3,50.6 634.2,50.9 634.7,51.1 636.2,51.6 637.4,52.1 637.6,52.2 639.0,52.7 640.4,53.2 640.4,53.2 641.8,53.8 643.2,54.3 643.4,54.4 644.7,54.9 646.1,55.5 646.3,55.6 647.5,56.0 648.9,56.6 649.2,56.7 650.3,57.2 651.7,57.8 651.9,57.9 653.1,58.4 654.6,59.0 654.6,59.0 656.0,59.6 657.3,60.2 657.4,60.3 658.8,60.9"/>
<polyline points="608.5,31.2 609.3,31.4 610.7,31.8 612.1,32.2"/>
<polyline points="634.7,39.1 635.4,39.3 636.2,39.6 637.6,40.1 638.8,40.5 639.0,40.5 640.4,41.0 641.8,41.5 642.1,41.6 643.2,42.0 644.7,42.5 645.4,42.8 646.1,43.1 647.5,43.6 648.5,44.0 648.9,44.1 650.3,44.6 651.6,45.1 651.7,45.2 653.1,45.7 654.6,46.3 654.6,46.3 656.0,46.8 657.4,47.4 657.5,47.4 658.8,48.0"/>
<polyline points="644.2,31.2 644.7,31.3 646.1,31.8 647.5,32.3 647.7,32.4 648.9,32.8 650.3,33.3 651.0,33.5 651.7,33.8 653.1,34.3 654.3,34.7 654.6,34.8 656.0,35.3 657.4,35.8 657.5,35.8 658.8,36.3"/>
</g>
<g font-family="Liberation Sans, sans-serif" font-size="7" fill="#3a3a10" fill-opacity="0.55" text-anchor="middle">
<text transform="translate(493.2,181.7) rotate(0.2)" y="2.5">50</text>
<text transform="translate(481.9,96.7) rotate(0.7)" y="2.5">60</text>
<text transform="translate(497.5,235.4) rotate(0.9)" y="2.5">70</text>
<text transform="translate(503.2,251.6) rotate(0.4)" y="2.5">80</text>
<text transform="translate(474.9,60.1) rotate(0.3)" y="2.5">80</text>
<text transform="translate(448.0,261.3) rotate(7.8)" y="2.5">90</text>
<text transform="translate(552.7,263.0) rotate(-6.1)" y="2.5">90</text>
<text transform="translate(448.0,46.9) rotate(-2.9)" y="2.5">90</text>
<text transform="translate(633.3,260.0) rotate(-17.6)" y="2.5">100</text>
<text transform="translate(467.8,34.1) rotate(-0.0)" y="2.5">100</text>
<text transform="translate(578.1,34.8) rotate(12.4)" y="2.5">110</text>
<text transform="translate(623.4,35.5) rotate(16.9)" y="2.5">120</text>
</g>
<g stroke="#3a3a3a" stroke-width="0.9">
<line x1="375.8" y1="267.8" x2="375.8" y2="272.8"/>
<line x1="370.1" y1="263.2" x2="365.5" y2="263.2"/>
<line x1="446.6" y1="267.8" x2="446.6" y2="272.8"/>
<line x1="370.1" y1="205.2" x2="365.5" y2="205.2"/>
<line x1="517.3" y1="267.8" x2="517.3" y2="272.8"/>
<line x1="370.1" y1="147.2" x2="365.5" y2="147.2"/>
<line x1="588.0" y1="267.8" x2="588.0" y2="272.8"/>
<line x1="370.1" y1="89.2" x2="365.5" y2="89.2"/>
<line x1="658.8" y1="267.8" x2="658.8" y2="272.8"/>
<line x1="370.1" y1="31.2" x2="365.5" y2="31.2"/>
</g>
<g font-family="Liberation Sans, sans-serif" font-size="7.3" fill="#333" text-anchor="middle">
<text x="375.8" y="285.1">4.0</text>
<text transform="translate(358.8,263.5) rotate(-90)">4.0</text>
<text x="446.6" y="285.1">4.5</text>
<text transform="translate(358.8,205.5) rotate(-90)">4.5</text>
<text x="517.3" y="285.1">5.0</text>
<text transform="translate(358.8,147.5) rotate(-90)">5.0</text>
<text x="588.0" y="285.1">5.5</text>
<text transform="translate(358.8,89.5) rotate(-90)">5.5</text>
<text x="658.8" y="285.1">6.0</text>
<text transform="translate(358.8,31.5) rotate(-90)">6.0</text>
</g>
<text font-family="Liberation Serif, serif" font-size="15.8" fill="#111" stroke="#111" stroke-width="0.25" word-spacing="-2.2" text-anchor="middle" transform="translate(342,163.5) rotate(-90)">Incubation time</text>
<text font-family="Liberation Serif, serif" font-size="14.6" fill="#111" stroke="#111" stroke-width="0.2" text-anchor="middle" x="520.2" y="310.8">pH</text>
<text font-family="Liberation Serif, serif" font-size="19" fill="#000" stroke="#000" stroke-width="0.3" x="329.8" y="23.6">b</text>
</svg>
</body></html>
